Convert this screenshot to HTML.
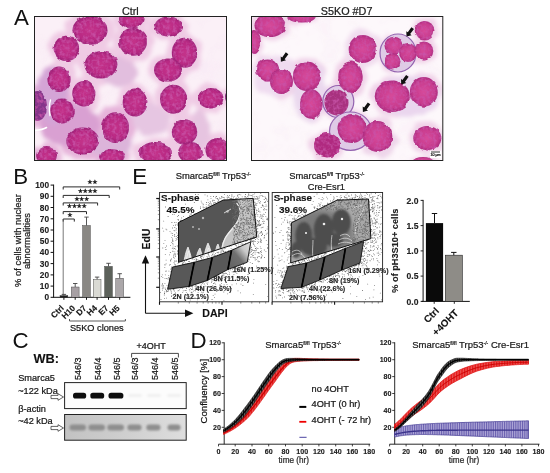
<!DOCTYPE html>
<html><head><meta charset="utf-8"><style>
html,body{margin:0;padding:0;background:#fff;overflow:hidden;}
svg{display:block;font-family:"Liberation Sans", Arial, sans-serif;}
text{stroke:#1a1a1a;stroke-width:0.22px;}
text[font-weight="bold"]{stroke-width:0.12px;}
</style></head><body>
<svg width="550" height="473" viewBox="0 0 550 473">
<defs>
<filter id="blur1" x="-20%" y="-20%" width="140%" height="140%"><feGaussianBlur stdDeviation="0.9"/></filter>
<filter id="blur05" x="-10%" y="-10%" width="120%" height="120%"><feGaussianBlur stdDeviation="0.6"/></filter>
<filter id="blur15" x="-30%" y="-30%" width="160%" height="160%"><feGaussianBlur stdDeviation="2"/></filter>
<linearGradient id="g16" x1="0" y1="1" x2="1" y2="0"><stop offset="0" stop-color="#606060"/><stop offset="0.45" stop-color="#707070"/><stop offset="0.7" stop-color="#c8c8c8"/><stop offset="1" stop-color="#e0e0e0"/></linearGradient>
<filter id="blur3" x="-20%" y="-20%" width="140%" height="140%"><feGaussianBlur stdDeviation="3"/></filter>
<filter id="cytof" x="-10%" y="-10%" width="120%" height="120%">
 <feTurbulence type="fractalNoise" baseFrequency="0.08" numOctaves="2" seed="4" result="n"/>
 <feDisplacementMap in="SourceGraphic" in2="n" scale="9" xChannelSelector="R" yChannelSelector="G" result="d"/>
 <feGaussianBlur in="d" stdDeviation="2.2"/>
</filter>
<filter id="nucf" x="-10%" y="-10%" width="120%" height="120%">
 <feTurbulence type="fractalNoise" baseFrequency="0.14" numOctaves="2" seed="2" result="n"/>
 <feDisplacementMap in="SourceGraphic" in2="n" scale="3.2" xChannelSelector="R" yChannelSelector="G" result="d"/>
 <feGaussianBlur in="d" stdDeviation="0.75" result="b"/>
 <feTurbulence type="fractalNoise" baseFrequency="0.3" numOctaves="2" seed="9" result="n2"/>
 <feColorMatrix in="n2" type="matrix" values="0 0 0 0 0.58  0 0 0 0 0.09  0 0 0 0 0.40  0 0 0 -2.2 1.25" result="sp"/>
 <feGaussianBlur in="sp" stdDeviation="0.7" result="sp2"/>
 <feComposite in="sp2" in2="b" operator="in" result="spi"/>
 <feMerge><feMergeNode in="b"/><feMergeNode in="spi"/></feMerge>
</filter>
<radialGradient id="nucg2" cx="0.5" cy="0.5" r="0.5"><stop offset="0" stop-color="#d64a9a"/><stop offset="0.75" stop-color="#c83c8e"/><stop offset="1" stop-color="#ad2c80"/></radialGradient>
<radialGradient id="nucg" cx="0.5" cy="0.5" r="0.5"><stop offset="0" stop-color="#c4328a"/><stop offset="0.75" stop-color="#b82a83"/><stop offset="1" stop-color="#9c2278"/></radialGradient>
<filter id="bgnoise" x="0" y="0" width="100%" height="100%">
 <feTurbulence type="fractalNoise" baseFrequency="0.05" numOctaves="3" seed="12" result="n"/>
 <feColorMatrix in="n" type="matrix" values="0 0 0 0 0.95  0 0 0 0 0.84  0 0 0 0 0.92  0 0 0 -3 1.6"/>
</filter>
<linearGradient id="sg1" x1="0" y1="0" x2="1" y2="0"><stop offset="0" stop-color="#555"/><stop offset="0.6" stop-color="#5c5c5c"/><stop offset="0.8" stop-color="#999"/><stop offset="1" stop-color="#d0d0d0"/></linearGradient>
<linearGradient id="sg2" x1="0" y1="0" x2="1" y2="0"><stop offset="0" stop-color="#666"/><stop offset="0.7" stop-color="#555"/><stop offset="0.85" stop-color="#888"/><stop offset="1" stop-color="#bbb"/></linearGradient>
<pattern id="hred" width="1.6" height="4" patternUnits="userSpaceOnUse"><rect width="1.6" height="4" fill="#ee7070"/><rect width="1" height="4" fill="#e41414"/></pattern>
<pattern id="hblk" width="1.8" height="4" patternUnits="userSpaceOnUse"><rect width="1.8" height="4" fill="#777"/><rect width="1" height="4" fill="#111"/></pattern>
<pattern id="hblue" width="1.8" height="4" patternUnits="userSpaceOnUse"><rect width="1.8" height="4" fill="#c4bee4"/><rect width="1.1" height="4" fill="#6a60b0"/></pattern>
<linearGradient id="blot2" x1="0" y1="0" x2="1" y2="0"><stop offset="0" stop-color="#c2c2c2"/><stop offset="0.5" stop-color="#cfcfcf"/><stop offset="1" stop-color="#dedede"/></linearGradient>
</defs>
<rect width="550" height="473" fill="#fff"/>
<text x="14.0" y="24.9" font-size="22.3" text-anchor="start" font-weight="normal" fill="#111" style="stroke:none">A</text>
<text x="13.2" y="183.7" font-size="22.3" text-anchor="start" font-weight="normal" fill="#111" style="stroke:none">B</text>
<text x="12.4" y="347.5" font-size="22.3" text-anchor="start" font-weight="normal" fill="#111" style="stroke:none">C</text>
<text x="190.6" y="347.8" font-size="22.3" text-anchor="start" font-weight="normal" fill="#111" style="stroke:none">D</text>
<text x="132.3" y="183.7" font-size="22.3" text-anchor="start" font-weight="normal" fill="#111" style="stroke:none">E</text>
<text x="130.3" y="14.7" font-size="10.8" text-anchor="middle" font-weight="normal" fill="#222" >Ctrl</text>
<text x="346.6" y="14.7" font-size="10.8" text-anchor="middle" font-weight="normal" fill="#222" >S5KO #D7</text>
<clipPath id="clA1"><rect x="34.5" y="16.5" width="192" height="144"/></clipPath>
<g clip-path="url(#clA1)">
<rect x="34.5" y="16.5" width="192" height="144" fill="#fbf0f7"/>
<rect x="34.5" y="16.5" width="192" height="144" fill="#f3d6ea" filter="url(#bgnoise)" opacity="0.9"/>
<g filter="url(#cytof)">
<ellipse cx="90" cy="30.2" rx="24.849999999999998" ry="20.59" fill="#efcae4"/>
<ellipse cx="131.8" cy="19.3" rx="18.034" ry="12.78" fill="#efcae4"/>
<ellipse cx="168.3" cy="26.5" rx="19.453999999999997" ry="14.2" fill="#efcae4"/>
<ellipse cx="66.4" cy="48.4" rx="18.034" ry="18.034" fill="#efcae4"/>
<ellipse cx="133" cy="41.8" rx="19.88" ry="19.88" fill="#efcae4"/>
<ellipse cx="184.5" cy="52.7" rx="18.034" ry="21.299999999999997" fill="#efcae4"/>
<ellipse cx="101" cy="64.7" rx="23.287999999999997" ry="19.596" fill="#efcae4"/>
<ellipse cx="168" cy="70" rx="19.88" ry="16.471999999999998" fill="#efcae4"/>
<ellipse cx="59" cy="79.3" rx="16.471999999999998" ry="18.034" fill="#efcae4"/>
<ellipse cx="83.8" cy="93.8" rx="16.471999999999998" ry="18.034" fill="#efcae4"/>
<ellipse cx="135" cy="102.6" rx="17.466" ry="19.88" fill="#efcae4"/>
<ellipse cx="173.6" cy="99.3" rx="19.169999999999998" ry="20.59" fill="#efcae4"/>
<ellipse cx="210.7" cy="98.2" rx="18.034" ry="14.483999999999998" fill="#efcae4"/>
<ellipse cx="62" cy="111" rx="16.756" ry="17.75" fill="#e6b4da"/>
<ellipse cx="37.5" cy="106" rx="13.489999999999998" ry="21.299999999999997" fill="#e6b4da"/>
<ellipse cx="115.5" cy="127.6" rx="19.169999999999998" ry="21.726" fill="#e6b4da"/>
<ellipse cx="184.5" cy="132" rx="18.034" ry="18.034" fill="#efcae4"/>
<ellipse cx="82.7" cy="141" rx="23.287999999999997" ry="19.169999999999998" fill="#e6b4da"/>
<ellipse cx="155.5" cy="153" rx="23.287999999999997" ry="15.62" fill="#efcae4"/>
<ellipse cx="111.8" cy="156.6" rx="18.034" ry="10.366" fill="#e6b4da"/>
<ellipse cx="190.5" cy="152.5" rx="17.466" ry="14.91" fill="#efcae4"/>
<ellipse cx="217.5" cy="150" rx="17.04" ry="17.04" fill="#efcae4"/>
<ellipse cx="46.5" cy="155.5" rx="14.91" ry="12.07" fill="#e6b4da"/>
<ellipse cx="229" cy="97" rx="5.68" ry="9.23" fill="#efcae4"/>
<ellipse cx="70" cy="125" rx="30" ry="22" fill="#d9a0d2"/>
<ellipse cx="52" cy="95" rx="16" ry="30" fill="#d4a4d6"/>
<ellipse cx="120" cy="72" rx="18" ry="14" fill="#e2bede"/>
<ellipse cx="150" cy="120" rx="18" ry="16" fill="#e6c6e2"/>
<ellipse cx="110" cy="145" rx="22" ry="14" fill="#dcb4da"/>
<ellipse cx="200" cy="130" rx="10" ry="20" fill="#e6c4e0"/>
</g>

<g filter="url(#nucf)">
<ellipse cx="90" cy="30.2" rx="17.5" ry="14.5" fill="url(#nucg)"/>
<ellipse cx="131.8" cy="19.3" rx="12.7" ry="9" fill="url(#nucg)"/>
<ellipse cx="168.3" cy="26.5" rx="13.7" ry="10" fill="url(#nucg)"/>
<ellipse cx="66.4" cy="48.4" rx="12.7" ry="12.7" fill="url(#nucg)"/>
<ellipse cx="133" cy="41.8" rx="14" ry="14" fill="url(#nucg)"/>
<ellipse cx="184.5" cy="52.7" rx="12.7" ry="15" fill="url(#nucg)"/>
<ellipse cx="101" cy="64.7" rx="16.4" ry="13.8" fill="url(#nucg)"/>
<ellipse cx="168" cy="70" rx="14" ry="11.6" fill="url(#nucg)"/>
<ellipse cx="59" cy="79.3" rx="11.6" ry="12.7" fill="url(#nucg)"/>
<ellipse cx="83.8" cy="93.8" rx="11.6" ry="12.7" fill="url(#nucg)"/>
<ellipse cx="135" cy="102.6" rx="12.3" ry="14" fill="url(#nucg)"/>
<ellipse cx="173.6" cy="99.3" rx="13.5" ry="14.5" fill="url(#nucg)"/>
<ellipse cx="210.7" cy="98.2" rx="12.7" ry="10.2" fill="url(#nucg)"/>
<ellipse cx="62" cy="111" rx="11.8" ry="12.5" fill="url(#nucg)"/>
<ellipse cx="37.5" cy="106" rx="9.5" ry="15" fill="#85358a"/>
<ellipse cx="115.5" cy="127.6" rx="13.5" ry="15.3" fill="url(#nucg)"/>
<ellipse cx="184.5" cy="132" rx="12.7" ry="12.7" fill="url(#nucg)"/>
<ellipse cx="82.7" cy="141" rx="16.4" ry="13.5" fill="url(#nucg)"/>
<ellipse cx="155.5" cy="153" rx="16.4" ry="11" fill="url(#nucg)"/>
<ellipse cx="111.8" cy="156.6" rx="12.7" ry="7.3" fill="url(#nucg)"/>
<ellipse cx="190.5" cy="152.5" rx="12.3" ry="10.5" fill="url(#nucg)"/>
<ellipse cx="217.5" cy="150" rx="12" ry="12" fill="url(#nucg)"/>
<ellipse cx="46.5" cy="155.5" rx="10.5" ry="8.5" fill="url(#nucg)"/>
<ellipse cx="229" cy="97" rx="4" ry="6.5" fill="#7a2a7c"/>
</g>
<g fill="none" stroke="#fff" stroke-linecap="round" filter="url(#blur05)"><path d="M35,130.5 C 40,130 44,129 46.5,127.5" stroke-width="1.6"/><path d="M50.5,100 C 49,105 49,110 50,115.5" stroke-width="1.4"/></g>
</g>
<rect x="34.5" y="16.5" width="192" height="144" fill="none" stroke="#222" stroke-width="1"/>
<clipPath id="clA2"><rect x="251.5" y="16.5" width="191.3" height="144"/></clipPath>
<g clip-path="url(#clA2)">
<rect x="251.5" y="16.5" width="191.3" height="144" fill="#fdf8fb"/>
<rect x="251.5" y="16.5" width="191.3" height="144" fill="#f3d6ea" filter="url(#bgnoise)" opacity="0.35"/>
<g filter="url(#cytof)">
<ellipse cx="270" cy="25.5" rx="20.150000000000002" ry="14.950000000000001" fill="#f0d2e8"/>
<ellipse cx="301.5" cy="17" rx="18.2" ry="7.15" fill="#f0d2e8"/>
<ellipse cx="254" cy="42" rx="9.1" ry="15.600000000000001" fill="#f0d2e8"/>
<ellipse cx="362.7" cy="49" rx="18.2" ry="18.2" fill="#f0d2e8"/>
<ellipse cx="424.6" cy="30.8" rx="12.740000000000002" ry="12.740000000000002" fill="#f0d2e8"/>
<ellipse cx="394" cy="45.7" rx="12.35" ry="11.700000000000001" fill="#f0d2e8"/>
<ellipse cx="392.4" cy="61.4" rx="10.4" ry="10.4" fill="#f0d2e8"/>
<ellipse cx="408" cy="52.6" rx="11.700000000000001" ry="12.35" fill="#f0d2e8"/>
<ellipse cx="423.8" cy="50.9" rx="12.35" ry="12.35" fill="#f0d2e8"/>
<ellipse cx="267.6" cy="70" rx="14.950000000000001" ry="14.950000000000001" fill="#f0d2e8"/>
<ellipse cx="281.5" cy="81.5" rx="14.950000000000001" ry="16.25" fill="#f0d2e8"/>
<ellipse cx="306.9" cy="76.2" rx="18.2" ry="19.240000000000002" fill="#f0d2e8"/>
<ellipse cx="350.5" cy="77" rx="15.86" ry="20.150000000000002" fill="#f0d2e8"/>
<ellipse cx="336.5" cy="102.4" rx="15.600000000000001" ry="16.900000000000002" fill="#f0d2e8"/>
<ellipse cx="311.3" cy="104" rx="14.690000000000001" ry="19.240000000000002" fill="#f0d2e8"/>
<ellipse cx="392.3" cy="96.3" rx="22.75" ry="20.41" fill="#f0d2e8"/>
<ellipse cx="423.8" cy="91.9" rx="18.2" ry="19.240000000000002" fill="#f0d2e8"/>
<ellipse cx="352" cy="128.5" rx="18.85" ry="18.85" fill="#f0d2e8"/>
<ellipse cx="377.5" cy="136.4" rx="19.240000000000002" ry="20.150000000000002" fill="#f0d2e8"/>
<ellipse cx="327" cy="145.2" rx="16.900000000000002" ry="15.86" fill="#f0d2e8"/>
<ellipse cx="427.3" cy="138.2" rx="18.2" ry="15.86" fill="#f0d2e8"/>
<ellipse cx="423" cy="161" rx="13.0" ry="5.2" fill="#f0d2e8"/>
<ellipse cx="310" cy="92" rx="17" ry="30" fill="#ead8ee"/>
<ellipse cx="408" cy="96" rx="32" ry="20" fill="#ead6ee"/>
<ellipse cx="274" cy="75" rx="22" ry="20" fill="#efdcf0"/>
<ellipse cx="363" cy="49" rx="19" ry="19" fill="#f0dcee"/>
<ellipse cx="380" cy="140" rx="18" ry="18" fill="#eed6ea"/>
</g>
<g filter="url(#blur05)" fill="#dfcbe6" stroke="#9464b0" stroke-width="1.2">
<ellipse cx="398" cy="53" rx="18" ry="19"/><ellipse cx="338.3" cy="101.5" rx="15.5" ry="16"/><ellipse cx="350.5" cy="131.2" rx="21" ry="19.2"/></g>
<g filter="url(#nucf)">
<ellipse cx="270" cy="25.5" rx="15.5" ry="11.5" fill="url(#nucg2)"/>
<ellipse cx="301.5" cy="17" rx="14" ry="5.5" fill="url(#nucg2)"/>
<ellipse cx="254" cy="42" rx="7" ry="12" fill="url(#nucg2)"/>
<ellipse cx="362.7" cy="49" rx="14" ry="14" fill="url(#nucg2)"/>
<ellipse cx="424.6" cy="30.8" rx="9.8" ry="9.8" fill="url(#nucg2)"/>
<ellipse cx="394" cy="45.7" rx="9.5" ry="9" fill="url(#nucg2)"/>
<ellipse cx="392.4" cy="61.4" rx="8" ry="8" fill="url(#nucg2)"/>
<ellipse cx="408" cy="52.6" rx="9" ry="9.5" fill="url(#nucg2)"/>
<ellipse cx="423.8" cy="50.9" rx="9.5" ry="9.5" fill="url(#nucg2)"/>
<ellipse cx="267.6" cy="70" rx="11.5" ry="11.5" fill="url(#nucg2)"/>
<ellipse cx="281.5" cy="81.5" rx="11.5" ry="12.5" fill="url(#nucg2)"/>
<ellipse cx="306.9" cy="76.2" rx="14" ry="14.8" fill="url(#nucg2)"/>
<ellipse cx="350.5" cy="77" rx="12.2" ry="15.5" fill="url(#nucg2)"/>
<ellipse cx="336.5" cy="102.4" rx="12" ry="13" fill="#a8307f"/>
<ellipse cx="311.3" cy="104" rx="11.3" ry="14.8" fill="url(#nucg2)"/>
<ellipse cx="392.3" cy="96.3" rx="17.5" ry="15.7" fill="url(#nucg2)"/>
<ellipse cx="423.8" cy="91.9" rx="14" ry="14.8" fill="url(#nucg2)"/>
<ellipse cx="352" cy="128.5" rx="14.5" ry="14.5" fill="url(#nucg2)"/>
<ellipse cx="377.5" cy="136.4" rx="14.8" ry="15.5" fill="url(#nucg2)"/>
<ellipse cx="327" cy="145.2" rx="13" ry="12.2" fill="#b02a80"/>
<ellipse cx="427.3" cy="138.2" rx="14" ry="12.2" fill="url(#nucg2)"/>
<ellipse cx="423" cy="161" rx="10" ry="4" fill="url(#nucg2)"/>
</g>
<g transform="translate(280.9,61.8) rotate(-54)"><path d="M0,0 L4.2,-3.3 L4.2,-1.5 L10.5,-1.6 L10.5,1.6 L4.2,1.5 L4.2,3.3 Z" fill="#111"/></g><g transform="translate(406.5,36.6) rotate(-54)"><path d="M0,0 L4.2,-3.3 L4.2,-1.5 L10.5,-1.6 L10.5,1.6 L4.2,1.5 L4.2,3.3 Z" fill="#111"/></g><g transform="translate(401.2,84.4) rotate(-54)"><path d="M0,0 L4.2,-3.3 L4.2,-1.5 L10.5,-1.6 L10.5,1.6 L4.2,1.5 L4.2,3.3 Z" fill="#111"/></g><g transform="translate(362.9,111.9) rotate(-54)"><path d="M0,0 L4.2,-3.3 L4.2,-1.5 L10.5,-1.6 L10.5,1.6 L4.2,1.5 L4.2,3.3 Z" fill="#111"/></g><rect x="430" y="151" width="11" height="7" fill="#fff"/><text x="435.5" y="155.8" font-size="3.6" text-anchor="middle" fill="#000">10 µm</text><line x1="431" y1="152" x2="440" y2="152" stroke="#000" stroke-width="0.8"/>
</g>
<rect x="251.5" y="16.5" width="191.3" height="144" fill="none" stroke="#222" stroke-width="1"/>
<line x1="53.6" y1="184.6" x2="53.6" y2="297.8" stroke="#111" stroke-width="1"/>
<line x1="53.6" y1="297.3" x2="130.4" y2="297.3" stroke="#111" stroke-width="1"/>
<line x1="50.6" y1="297.3" x2="53.6" y2="297.3" stroke="#111" stroke-width="1"/>
<text x="49.1" y="300.3" font-size="8.3" text-anchor="end" font-weight="bold" fill="#222" >0</text>
<line x1="50.6" y1="286.1" x2="53.6" y2="286.1" stroke="#111" stroke-width="1"/>
<text x="49.1" y="289.1" font-size="8.3" text-anchor="end" font-weight="bold" fill="#222" >10</text>
<line x1="50.6" y1="274.9" x2="53.6" y2="274.9" stroke="#111" stroke-width="1"/>
<text x="49.1" y="277.9" font-size="8.3" text-anchor="end" font-weight="bold" fill="#222" >20</text>
<line x1="50.6" y1="263.6" x2="53.6" y2="263.6" stroke="#111" stroke-width="1"/>
<text x="49.1" y="266.6" font-size="8.3" text-anchor="end" font-weight="bold" fill="#222" >30</text>
<line x1="50.6" y1="252.4" x2="53.6" y2="252.4" stroke="#111" stroke-width="1"/>
<text x="49.1" y="255.4" font-size="8.3" text-anchor="end" font-weight="bold" fill="#222" >40</text>
<line x1="50.6" y1="241.2" x2="53.6" y2="241.2" stroke="#111" stroke-width="1"/>
<text x="49.1" y="244.2" font-size="8.3" text-anchor="end" font-weight="bold" fill="#222" >50</text>
<line x1="50.6" y1="230.0" x2="53.6" y2="230.0" stroke="#111" stroke-width="1"/>
<text x="49.1" y="233.0" font-size="8.3" text-anchor="end" font-weight="bold" fill="#222" >60</text>
<line x1="50.6" y1="218.8" x2="53.6" y2="218.8" stroke="#111" stroke-width="1"/>
<text x="49.1" y="221.8" font-size="8.3" text-anchor="end" font-weight="bold" fill="#222" >70</text>
<line x1="50.6" y1="207.5" x2="53.6" y2="207.5" stroke="#111" stroke-width="1"/>
<text x="49.1" y="210.5" font-size="8.3" text-anchor="end" font-weight="bold" fill="#222" >80</text>
<line x1="50.6" y1="196.3" x2="53.6" y2="196.3" stroke="#111" stroke-width="1"/>
<text x="49.1" y="199.3" font-size="8.3" text-anchor="end" font-weight="bold" fill="#222" >90</text>
<line x1="50.6" y1="185.1" x2="53.6" y2="185.1" stroke="#111" stroke-width="1"/>
<text x="49.1" y="188.1" font-size="8.3" text-anchor="end" font-weight="bold" fill="#222" >100</text>
<rect x="60.0" y="295.6" width="7.8" height="1.7" fill="#222" stroke="#333" stroke-width="0.4"/>
<line x1="63.9" y1="295.6" x2="63.9" y2="294.4" stroke="#444" stroke-width="0.9"/>
<line x1="61.7" y1="294.4" x2="66.1" y2="294.4" stroke="#444" stroke-width="0.9"/>
<line x1="63.9" y1="297.3" x2="63.9" y2="299.8" stroke="#111" stroke-width="1"/>
<text transform="translate(64.5,308.6) rotate(-45)" font-size="8.4" font-weight="bold" text-anchor="end" fill="#111">Ctrl</text>
<rect x="71.3" y="287.0" width="7.8" height="10.3" fill="#a7a0a4" stroke="#333" stroke-width="0.4"/>
<line x1="75.2" y1="287.0" x2="75.2" y2="283.5" stroke="#444" stroke-width="0.9"/>
<line x1="73.0" y1="283.5" x2="77.4" y2="283.5" stroke="#444" stroke-width="0.9"/>
<line x1="75.2" y1="297.3" x2="75.2" y2="299.8" stroke="#111" stroke-width="1"/>
<text transform="translate(75.8,308.6) rotate(-45)" font-size="8.4" font-weight="bold" text-anchor="end" fill="#111">H10</text>
<rect x="82.6" y="225.5" width="7.8" height="71.8" fill="#8a8884" stroke="#333" stroke-width="0.4"/>
<line x1="86.5" y1="225.5" x2="86.5" y2="217.1" stroke="#444" stroke-width="0.9"/>
<line x1="84.3" y1="217.1" x2="88.7" y2="217.1" stroke="#444" stroke-width="0.9"/>
<line x1="86.5" y1="297.3" x2="86.5" y2="299.8" stroke="#111" stroke-width="1"/>
<text transform="translate(87.1,308.6) rotate(-45)" font-size="8.4" font-weight="bold" text-anchor="end" fill="#111">D7</text>
<rect x="93.2" y="279.3" width="7.8" height="18.0" fill="#dadad4" stroke="#333" stroke-width="0.4"/>
<line x1="97.1" y1="279.3" x2="97.1" y2="277.1" stroke="#444" stroke-width="0.9"/>
<line x1="94.9" y1="277.1" x2="99.3" y2="277.1" stroke="#444" stroke-width="0.9"/>
<line x1="97.1" y1="297.3" x2="97.1" y2="299.8" stroke="#111" stroke-width="1"/>
<text transform="translate(97.7,308.6) rotate(-45)" font-size="8.4" font-weight="bold" text-anchor="end" fill="#111">H4</text>
<rect x="104.6" y="266.4" width="7.8" height="30.9" fill="#5c615a" stroke="#333" stroke-width="0.4"/>
<line x1="108.5" y1="266.4" x2="108.5" y2="263.3" stroke="#444" stroke-width="0.9"/>
<line x1="106.3" y1="263.3" x2="110.7" y2="263.3" stroke="#444" stroke-width="0.9"/>
<line x1="108.5" y1="297.3" x2="108.5" y2="299.8" stroke="#111" stroke-width="1"/>
<text transform="translate(109.1,308.6) rotate(-45)" font-size="8.4" font-weight="bold" text-anchor="end" fill="#111">E7</text>
<rect x="115.8" y="278.2" width="7.8" height="19.1" fill="#aba7a9" stroke="#333" stroke-width="0.4"/>
<line x1="119.7" y1="278.2" x2="119.7" y2="273.7" stroke="#444" stroke-width="0.9"/>
<line x1="117.5" y1="273.7" x2="121.9" y2="273.7" stroke="#444" stroke-width="0.9"/>
<line x1="119.7" y1="297.3" x2="119.7" y2="299.8" stroke="#111" stroke-width="1"/>
<text transform="translate(120.3,308.6) rotate(-45)" font-size="8.4" font-weight="bold" text-anchor="end" fill="#111">H5</text>
<path d="M63.2,189.5 V186.9 H119.7 V189.5" fill="none" stroke="#2a2a2a" stroke-width="1"/>
<text x="92.2" y="184.3" font-size="6" letter-spacing="-0.5" font-family="DejaVu Sans" text-anchor="middle" fill="#1a1a1a">★★</text>
<path d="M63.2,198.0 V195.4 H109.2 V198.0" fill="none" stroke="#2a2a2a" stroke-width="1"/>
<text x="87.4" y="193.3" font-size="6" letter-spacing="-0.5" font-family="DejaVu Sans" text-anchor="middle" fill="#1a1a1a">★★★★</text>
<path d="M63.2,205.5 V202.9 H97.6 V205.5" fill="none" stroke="#2a2a2a" stroke-width="1"/>
<text x="81.5" y="201.4" font-size="6" letter-spacing="-0.5" font-family="DejaVu Sans" text-anchor="middle" fill="#1a1a1a">★★★</text>
<path d="M63.2,214.2 V211.6 H86.5 V214.2" fill="none" stroke="#2a2a2a" stroke-width="1"/>
<text x="76.6" y="208.4" font-size="6" letter-spacing="-0.5" font-family="DejaVu Sans" text-anchor="middle" fill="#1a1a1a">★★★★</text>
<path d="M63.2,221.6 V219.0 H74.3 V221.6" fill="none" stroke="#2a2a2a" stroke-width="1"/>
<text x="69.6" y="216.9" font-size="6" letter-spacing="-0.5" font-family="DejaVu Sans" text-anchor="middle" fill="#1a1a1a">★</text>
<line x1="63.2" y1="219.0" x2="63.2" y2="296.0" stroke="#555" stroke-width="0.8"/>
<path d="M69.5,319 V321 H125.4 V319" fill="none" stroke="#333" stroke-width="0.8"/>
<text x="96.8" y="331.3" font-size="9.2" text-anchor="middle" font-weight="normal" fill="#111" >S5KO clones</text>
<text transform="translate(20.5,240.5) rotate(-90)" font-size="9.4" text-anchor="middle" fill="#222">% of cells with nuclear</text>
<text transform="translate(30.2,241) rotate(-90)" font-size="9.4" text-anchor="middle" fill="#222">abnormalities</text>
<text x="33.5" y="362.9" font-size="12.8" text-anchor="start" font-weight="bold" fill="#111" >WB:</text>
<rect x="64.6" y="382.6" width="121.6" height="26" fill="#fcfcfc" stroke="#222" stroke-width="1"/>
<rect x="64.6" y="414.5" width="121.6" height="25.7" fill="url(#blot2)" stroke="#222" stroke-width="1"/>
<text transform="translate(81.1,380) rotate(-90)" font-size="9" fill="#111">546/3</text>
<text transform="translate(100.7,380) rotate(-90)" font-size="9" fill="#111">546/4</text>
<text transform="translate(119.6,380) rotate(-90)" font-size="9" fill="#111">546/5</text>
<text transform="translate(138.4,380) rotate(-90)" font-size="9" fill="#111">546/3</text>
<text transform="translate(157.8,380) rotate(-90)" font-size="9" fill="#111">546/4</text>
<text transform="translate(177.7,380) rotate(-90)" font-size="9" fill="#111">546/5</text>
<g filter="url(#blur05)">
<rect x="73" y="392.8" width="13.2" height="5.8" rx="2.6" fill="#0c0c0c"/>
<rect x="90.3" y="392.8" width="13.9" height="5.8" rx="2.6" fill="#0c0c0c"/>
<rect x="108.5" y="392.8" width="14.9" height="5.8" rx="2.6" fill="#0c0c0c"/>
</g><g filter="url(#blur1)">
<rect x="128" y="394" width="14" height="3" rx="1.5" fill="#f0f0f0"/>
<rect x="147" y="394" width="14" height="3" rx="1.5" fill="#f0f0f0"/>
<rect x="167" y="394" width="14" height="3" rx="1.5" fill="#f0f0f0"/>
<rect x="69.5" y="424.5" width="16.5" height="6" rx="3" fill="#8e8e8e"/>
<rect x="88.4" y="424.5" width="16.6" height="6" rx="3" fill="#8e8e8e"/>
<rect x="107.3" y="424.5" width="16.7" height="6" rx="3" fill="#8e8e8e"/>
<rect x="127.4" y="424.5" width="14.2" height="6" rx="3" fill="#8e8e8e"/>
<rect x="146.3" y="424.5" width="14.2" height="6" rx="3" fill="#8e8e8e"/>
<rect x="167.5" y="424.5" width="13.1" height="6" rx="3" fill="#8e8e8e"/>
</g>
<text x="151.2" y="349.2" font-size="9" text-anchor="middle" font-weight="normal" fill="#111" >+4OHT</text>
<path d="M131.6,357.5 V353.4 H178.4 V357.5" fill="none" stroke="#333" stroke-width="0.9"/>
<text x="18.2" y="381.3" font-size="9.2" text-anchor="start" font-weight="normal" fill="#111" >Smarca5</text>
<text x="18.2" y="394.2" font-size="9.2" text-anchor="start" font-weight="normal" fill="#111" >~122 kDa</text>
<text x="18.2" y="412.2" font-size="9.2" text-anchor="start" font-weight="normal" fill="#111" >β-actin</text>
<text x="18.2" y="423.5" font-size="9.2" text-anchor="start" font-weight="normal" fill="#111" >~42 kDa</text>
<path d="M51,395.4 H58 V393.7 L63.5,397 L58,400.3 V398.6 H51 Z" fill="#fff" stroke="#222" stroke-width="0.7"/>
<path d="M51,426.4 H58 V424.7 L63.5,428 L58,431.3 V429.6 H51 Z" fill="#fff" stroke="#222" stroke-width="0.7"/>
<line x1="218.5" y1="444.2" x2="370.2" y2="444.2" stroke="#111" stroke-width="0.9"/>
<line x1="224.2" y1="342.3" x2="224.2" y2="444.2" stroke="#111" stroke-width="0.9"/>
<line x1="221.7" y1="427.3" x2="224.2" y2="427.3" stroke="#111" stroke-width="0.8"/>
<text x="221.0" y="429.8" font-size="7.1" text-anchor="end" font-weight="bold" fill="#222" >20</text>
<line x1="221.7" y1="410.4" x2="224.2" y2="410.4" stroke="#111" stroke-width="0.8"/>
<text x="221.0" y="412.9" font-size="7.1" text-anchor="end" font-weight="bold" fill="#222" >40</text>
<line x1="221.7" y1="393.5" x2="224.2" y2="393.5" stroke="#111" stroke-width="0.8"/>
<text x="221.0" y="396.0" font-size="7.1" text-anchor="end" font-weight="bold" fill="#222" >60</text>
<line x1="221.7" y1="376.6" x2="224.2" y2="376.6" stroke="#111" stroke-width="0.8"/>
<text x="221.0" y="379.1" font-size="7.1" text-anchor="end" font-weight="bold" fill="#222" >80</text>
<line x1="221.7" y1="359.7" x2="224.2" y2="359.7" stroke="#111" stroke-width="0.8"/>
<text x="221.0" y="362.2" font-size="7.1" text-anchor="end" font-weight="bold" fill="#222" >100</text>
<line x1="221.7" y1="342.8" x2="224.2" y2="342.8" stroke="#111" stroke-width="0.8"/>
<text x="221.0" y="345.3" font-size="7.1" text-anchor="end" font-weight="bold" fill="#222" >120</text>
<line x1="218.5" y1="444.2" x2="218.5" y2="446.4" stroke="#111" stroke-width="0.8"/>
<text x="218.5" y="454.4" font-size="7.1" text-anchor="middle" font-weight="bold" fill="#222" >0</text>
<line x1="235.2" y1="444.2" x2="235.2" y2="446.4" stroke="#111" stroke-width="0.8"/>
<text x="235.2" y="454.4" font-size="7.1" text-anchor="middle" font-weight="bold" fill="#222" >20</text>
<line x1="252.0" y1="444.2" x2="252.0" y2="446.4" stroke="#111" stroke-width="0.8"/>
<text x="252.0" y="454.4" font-size="7.1" text-anchor="middle" font-weight="bold" fill="#222" >40</text>
<line x1="268.7" y1="444.2" x2="268.7" y2="446.4" stroke="#111" stroke-width="0.8"/>
<text x="268.7" y="454.4" font-size="7.1" text-anchor="middle" font-weight="bold" fill="#222" >60</text>
<line x1="285.5" y1="444.2" x2="285.5" y2="446.4" stroke="#111" stroke-width="0.8"/>
<text x="285.5" y="454.4" font-size="7.1" text-anchor="middle" font-weight="bold" fill="#222" >80</text>
<line x1="302.2" y1="444.2" x2="302.2" y2="446.4" stroke="#111" stroke-width="0.8"/>
<text x="302.2" y="454.4" font-size="7.1" text-anchor="middle" font-weight="bold" fill="#222" >100</text>
<line x1="318.9" y1="444.2" x2="318.9" y2="446.4" stroke="#111" stroke-width="0.8"/>
<text x="318.9" y="454.4" font-size="7.1" text-anchor="middle" font-weight="bold" fill="#222" >120</text>
<line x1="335.7" y1="444.2" x2="335.7" y2="446.4" stroke="#111" stroke-width="0.8"/>
<text x="335.7" y="454.4" font-size="7.1" text-anchor="middle" font-weight="bold" fill="#222" >140</text>
<line x1="352.4" y1="444.2" x2="352.4" y2="446.4" stroke="#111" stroke-width="0.8"/>
<text x="352.4" y="454.4" font-size="7.1" text-anchor="middle" font-weight="bold" fill="#222" >160</text>
<line x1="369.2" y1="444.2" x2="369.2" y2="446.4" stroke="#111" stroke-width="0.8"/>
<text x="369.2" y="454.4" font-size="7.1" text-anchor="middle" font-weight="bold" fill="#222" >180</text>
<text x="293.8" y="462.8" font-size="8.2" text-anchor="middle" font-weight="normal" fill="#333" >time (hr)</text>
<text x="303.2" y="348.0" font-size="9.5" text-anchor="middle" fill="#222">Smarca5<tspan font-size="5" dy="-3.2">fl/fl</tspan><tspan dy="3.2"> Trp53</tspan><tspan font-size="5" dy="-3.2">-/-</tspan></text>
<polygon points="223.5,431.7 224.5,431.2 225.5,430.6 226.5,430.0 227.5,429.3 228.5,428.7 229.5,428.0 230.6,427.2 231.6,426.5 232.6,425.7 233.6,424.9 234.6,424.0 235.6,423.1 236.6,422.2 237.6,421.3 238.6,420.3 239.6,419.2 240.6,418.2 241.6,417.1 242.6,415.9 243.6,414.8 244.6,413.6 245.6,412.4 246.6,411.1 247.6,409.8 248.6,408.5 249.6,407.2 250.6,406.0 251.6,404.8 252.6,403.5 253.7,402.3 254.7,401.0 255.7,399.6 256.7,398.3 257.7,397.0 258.7,395.6 259.7,394.2 260.7,392.8 261.7,391.4 262.7,390.0 263.7,388.6 264.7,387.2 265.7,385.8 266.7,384.3 267.7,382.9 268.7,381.5 269.7,380.1 270.7,378.7 271.7,377.4 272.7,376.0 273.7,374.6 274.7,373.3 275.8,372.2 276.8,371.0 277.8,369.9 278.8,368.8 279.8,367.7 280.8,366.7 281.8,365.7 282.8,364.7 283.8,363.7 284.8,362.8 285.8,362.0 286.8,361.2 287.8,360.5 288.8,359.8 289.8,359.3 290.8,359.0 291.8,358.7 292.8,358.5 293.8,358.4 294.8,358.3 295.8,358.3 296.8,358.3 297.8,358.3 298.9,358.3 299.9,358.3 300.9,358.4 301.9,358.4 302.9,358.5 303.9,358.5 304.9,358.5 305.9,358.6 306.9,358.6 307.9,358.6 308.9,358.7 309.9,358.7 310.9,358.7 311.9,358.7 312.9,358.8 313.9,358.8 314.9,358.8 315.9,358.8 316.9,358.8 317.9,358.8 318.9,358.9 319.9,358.9 320.9,358.9 322.0,358.9 323.0,358.9 324.0,358.9 325.0,358.9 326.0,358.9 327.0,358.9 328.0,358.9 329.0,359.0 330.0,359.0 331.0,359.0 332.0,359.0 333.0,359.0 334.0,359.0 335.0,359.0 336.0,359.0 337.0,359.0 338.0,359.0 339.0,359.0 340.0,359.0 341.0,359.0 342.0,359.0 343.0,359.0 344.1,359.0 345.1,359.0 346.1,359.0 347.1,359.0 348.1,359.0 349.1,359.0 350.1,359.0 351.1,359.0 352.1,359.0 353.1,359.0 354.1,359.0 355.1,359.0 356.1,359.0 357.1,359.0 358.1,359.0 359.1,359.0 359.1,360.4 358.1,360.4 357.1,360.4 356.1,360.4 355.1,360.4 354.1,360.4 353.1,360.4 352.1,360.4 351.1,360.4 350.1,360.4 349.1,360.4 348.1,360.4 347.1,360.4 346.1,360.4 345.1,360.4 344.1,360.4 343.0,360.4 342.0,360.4 341.0,360.4 340.0,360.4 339.0,360.4 338.0,360.4 337.0,360.4 336.0,360.4 335.0,360.4 334.0,360.4 333.0,360.4 332.0,360.4 331.0,360.4 330.0,360.4 329.0,360.4 328.0,360.5 327.0,360.5 326.0,360.5 325.0,360.5 324.0,360.5 323.0,360.5 322.0,360.5 320.9,360.5 319.9,360.5 318.9,360.5 317.9,360.6 316.9,360.6 315.9,360.6 314.9,360.6 313.9,360.6 312.9,360.6 311.9,360.7 310.9,360.7 309.9,360.7 308.9,360.8 307.9,360.8 306.9,360.8 305.9,360.9 304.9,360.9 303.9,360.9 302.9,361.0 301.9,361.1 300.9,361.1 299.9,361.2 298.9,361.3 297.8,361.4 296.8,361.5 295.8,361.7 294.8,361.8 293.8,362.1 292.8,362.4 291.8,362.7 290.8,363.2 289.8,363.8 288.8,364.6 287.8,365.4 286.8,366.4 285.8,367.4 284.8,368.5 283.8,369.7 282.8,371.0 281.8,372.2 280.8,373.6 279.8,374.9 278.8,376.3 277.8,377.7 276.8,379.1 275.8,380.6 274.7,382.1 273.7,383.4 272.7,384.8 271.7,386.1 270.7,387.5 269.7,388.9 268.7,390.3 267.7,391.7 266.7,393.1 265.7,394.6 264.7,396.0 263.7,397.4 262.7,398.8 261.7,400.2 260.7,401.6 259.7,403.0 258.7,404.4 257.7,405.7 256.7,407.1 255.7,408.4 254.7,409.7 253.7,411.0 252.6,412.3 251.6,413.6 250.6,414.8 249.6,416.0 248.6,417.0 247.6,418.0 246.6,419.0 245.6,420.0 244.6,420.9 243.6,421.8 242.6,422.6 241.6,423.4 240.6,424.3 239.6,425.0 238.6,425.8 237.6,426.5 236.6,427.2 235.6,427.9 234.6,428.6 233.6,429.2 232.6,429.8 231.6,430.4 230.6,431.0 229.5,431.6 228.5,432.1 227.5,432.6 226.5,433.1 225.5,433.6 224.5,434.1 223.5,434.5" fill="url(#hred)" stroke="#e01818" stroke-width="0.7"/>
<polyline points="223.5,433.1 224.4,432.7 225.2,432.3 226.0,431.8 226.9,431.4 227.7,430.9 228.5,430.4 229.4,429.9 230.2,429.4 231.1,428.8 231.9,428.2 232.7,427.7 233.6,427.1 234.4,426.4 235.2,425.8 236.1,425.1 236.9,424.4 237.8,423.7 238.6,423.0 239.4,422.3 240.3,421.5 241.1,420.7 241.9,419.9 242.8,419.1 243.6,418.3 244.4,417.4 245.3,416.5 246.1,415.6 247.0,414.7 247.8,413.7 248.6,412.8 249.5,411.8 250.3,410.8 251.1,409.8 252.0,408.8 252.8,407.7 253.7,406.6 254.5,405.6 255.3,404.5 256.2,403.4 257.0,402.2 257.8,401.1 258.7,400.0 259.5,398.8 260.4,397.7 261.2,396.5 262.0,395.3 262.9,394.2 263.7,393.0 264.5,391.8 265.4,390.6 266.2,389.5 267.0,388.3 267.9,387.1 268.7,385.9 269.6,384.8 270.4,383.6 271.2,382.4 272.1,381.3 272.9,380.2 273.7,379.0 274.6,377.9 275.4,376.8 276.3,375.7 277.1,374.7 277.9,373.6 278.8,372.6 279.6,371.5 280.4,370.5 281.3,369.5 282.1,368.6 282.9,367.6 283.8,366.7 284.6,365.8 285.5,365.0 286.3,364.2 287.1,363.5 288.0,362.8 288.8,362.2 289.6,361.7 290.5,361.2 291.3,360.9 292.2,360.6 293.0,360.4 293.8,360.2 294.7,360.1 295.5,360.0 296.3,359.9 297.2,359.9 298.0,359.8 298.9,359.8 299.7,359.8 300.5,359.8 301.4,359.7 302.2,359.7 303.0,359.7 303.9,359.7 304.7,359.7 305.5,359.7 306.4,359.7 307.2,359.7 308.1,359.7 308.9,359.7 309.7,359.7 310.6,359.7 311.4,359.7 312.2,359.7 313.1,359.7 313.9,359.7 314.8,359.7 315.6,359.7 316.4,359.7 317.3,359.7 318.1,359.7 318.9,359.7 319.8,359.7 320.6,359.7 321.5,359.7 322.3,359.7 323.1,359.7 324.0,359.7 324.8,359.7 325.6,359.7 326.5,359.7 327.3,359.7 328.1,359.7 329.0,359.7 329.8,359.7 330.7,359.7 331.5,359.7 332.3,359.7 333.2,359.7 334.0,359.7 334.8,359.7 335.7,359.7 336.5,359.7 337.4,359.7 338.2,359.7 339.0,359.7 339.9,359.7 340.7,359.7 341.5,359.7 342.4,359.7 343.2,359.7 344.1,359.7 344.9,359.7 345.7,359.7 346.6,359.7 347.4,359.7 348.2,359.7 349.1,359.7 349.9,359.7 350.7,359.7 351.6,359.7 352.4,359.7 353.3,359.7 354.1,359.7 354.9,359.7 355.8,359.7 356.6,359.7 357.4,359.7 358.3,359.7 359.1,359.7" fill="none" stroke="#c00" stroke-width="1.2" />
<polygon points="223.5,429.3 224.5,428.6 225.5,427.9 226.5,427.2 227.5,426.5 228.5,425.7 229.5,424.9 230.6,424.0 231.6,423.1 232.6,422.2 233.6,421.2 234.6,420.2 235.6,419.2 236.6,418.1 237.6,416.9 238.6,415.8 239.6,414.6 240.6,413.3 241.6,412.1 242.6,410.8 243.6,409.4 244.6,408.1 245.6,406.8 246.6,405.5 247.6,404.2 248.6,402.8 249.6,401.5 250.6,400.1 251.6,398.7 252.6,397.2 253.7,395.8 254.7,394.3 255.7,392.8 256.7,391.3 257.7,389.8 258.7,388.3 259.7,386.8 260.7,385.3 261.7,383.8 262.7,382.3 263.7,380.8 264.7,379.4 265.7,377.9 266.7,376.5 267.7,375.1 268.7,373.7 269.7,372.3 270.7,371.1 271.7,369.9 272.7,368.8 273.7,367.7 274.7,366.6 275.8,365.5 276.8,364.5 277.8,363.6 278.8,362.7 279.8,361.8 280.8,361.1 281.8,360.4 282.8,359.8 283.8,359.4 284.8,359.0 285.8,358.8 286.8,358.6 287.8,358.5 288.8,358.4 289.8,358.4 290.8,358.4 291.8,358.4 292.8,358.4 293.8,358.5 294.8,358.5 295.8,358.5 296.8,358.6 297.8,358.6 298.9,358.6 299.9,358.7 300.9,358.7 301.9,358.7 302.9,358.8 303.9,358.8 304.9,358.8 305.9,358.8 306.9,358.9 307.9,358.9 308.9,358.9 309.9,358.9 310.9,358.9 311.9,358.9 312.9,359.0 313.9,359.0 314.9,359.0 315.9,359.0 316.9,359.0 317.9,359.0 318.9,359.0 319.9,359.0 320.9,359.0 322.0,359.0 323.0,359.0 324.0,359.0 325.0,359.1 326.0,359.1 327.0,359.1 328.0,359.1 329.0,359.1 330.0,359.1 331.0,359.1 332.0,359.1 333.0,359.1 334.0,359.1 335.0,359.1 336.0,359.1 337.0,359.1 338.0,359.1 339.0,359.1 340.0,359.1 341.0,359.1 342.0,359.1 343.0,359.1 344.1,359.1 345.1,359.1 346.1,359.1 347.1,359.1 348.1,359.1 349.1,359.1 350.1,359.1 351.1,359.1 352.1,359.1 353.1,359.1 354.1,359.1 355.1,359.1 356.1,359.1 357.1,359.1 358.1,359.1 359.1,359.1 359.1,360.3 358.1,360.3 357.1,360.3 356.1,360.3 355.1,360.3 354.1,360.3 353.1,360.3 352.1,360.3 351.1,360.3 350.1,360.3 349.1,360.3 348.1,360.3 347.1,360.3 346.1,360.3 345.1,360.3 344.1,360.3 343.0,360.3 342.0,360.3 341.0,360.3 340.0,360.3 339.0,360.3 338.0,360.3 337.0,360.3 336.0,360.3 335.0,360.3 334.0,360.3 333.0,360.3 332.0,360.3 331.0,360.3 330.0,360.3 329.0,360.3 328.0,360.3 327.0,360.3 326.0,360.3 325.0,360.4 324.0,360.4 323.0,360.4 322.0,360.4 320.9,360.4 319.9,360.4 318.9,360.4 317.9,360.4 316.9,360.4 315.9,360.4 314.9,360.4 313.9,360.4 312.9,360.5 311.9,360.5 310.9,360.5 309.9,360.5 308.9,360.5 307.9,360.5 306.9,360.6 305.9,360.6 304.9,360.6 303.9,360.6 302.9,360.7 301.9,360.7 300.9,360.7 299.9,360.8 298.9,360.8 297.8,360.8 296.8,360.9 295.8,361.0 294.8,361.0 293.8,361.1 292.8,361.2 291.8,361.3 290.8,361.4 289.8,361.5 288.8,361.7 287.8,361.9 286.8,362.2 285.8,362.5 284.8,363.0 283.8,363.5 282.8,364.2 281.8,365.0 280.8,365.9 279.8,366.9 278.8,368.0 277.8,369.1 276.8,370.3 275.8,371.6 274.7,372.9 273.7,374.3 272.7,375.7 271.7,377.1 270.7,378.6 269.7,380.0 268.7,381.4 267.7,382.8 266.7,384.3 265.7,385.7 264.7,387.1 263.7,388.6 262.7,390.1 261.7,391.6 260.7,393.1 259.7,394.6 258.7,396.1 257.7,397.6 256.7,399.1 255.7,400.6 254.7,402.1 253.7,403.5 252.6,405.0 251.6,406.4 250.6,407.8 249.6,409.2 248.6,410.6 247.6,412.0 246.6,413.3 245.6,414.6 244.6,415.8 243.6,417.0 242.6,418.0 241.6,419.1 240.6,420.1 239.6,421.0 238.6,421.9 237.6,422.8 236.6,423.7 235.6,424.5 234.6,425.3 233.6,426.1 232.6,426.8 231.6,427.6 230.6,428.2 229.5,428.9 228.5,429.5 227.5,430.1 226.5,430.7 225.5,431.3 224.5,431.8 223.5,432.3" fill="url(#hblk)" stroke="#111" stroke-width="0.6"/>
<polyline points="223.5,430.8 224.4,430.3 225.2,429.8 226.0,429.3 226.9,428.7 227.7,428.2 228.5,427.6 229.4,427.0 230.2,426.4 231.1,425.7 231.9,425.1 232.7,424.4 233.6,423.7 234.4,422.9 235.2,422.2 236.1,421.4 236.9,420.6 237.8,419.7 238.6,418.9 239.4,418.0 240.3,417.1 241.1,416.1 241.9,415.2 242.8,414.2 243.6,413.2 244.4,412.2 245.3,411.1 246.1,410.1 247.0,409.0 247.8,407.9 248.6,406.7 249.5,405.6 250.3,404.4 251.1,403.2 252.0,402.1 252.8,400.9 253.7,399.6 254.5,398.4 255.3,397.2 256.2,395.9 257.0,394.7 257.8,393.4 258.7,392.2 259.5,390.9 260.4,389.7 261.2,388.4 262.0,387.2 262.9,386.0 263.7,384.7 264.5,383.5 265.4,382.3 266.2,381.1 267.0,379.9 267.9,378.7 268.7,377.6 269.6,376.4 270.4,375.3 271.2,374.2 272.1,373.1 272.9,372.0 273.7,371.0 274.6,370.0 275.4,369.0 276.3,368.0 277.1,367.1 277.9,366.2 278.8,365.3 279.6,364.5 280.4,363.8 281.3,363.1 282.1,362.4 282.9,361.9 283.8,361.4 284.6,361.1 285.5,360.7 286.3,360.5 287.1,360.3 288.0,360.2 288.8,360.1 289.6,360.0 290.5,359.9 291.3,359.9 292.2,359.8 293.0,359.8 293.8,359.8 294.7,359.8 295.5,359.8 296.3,359.7 297.2,359.7 298.0,359.7 298.9,359.7 299.7,359.7 300.5,359.7 301.4,359.7 302.2,359.7 303.0,359.7 303.9,359.7 304.7,359.7 305.5,359.7 306.4,359.7 307.2,359.7 308.1,359.7 308.9,359.7 309.7,359.7 310.6,359.7 311.4,359.7 312.2,359.7 313.1,359.7 313.9,359.7 314.8,359.7 315.6,359.7 316.4,359.7 317.3,359.7 318.1,359.7 318.9,359.7 319.8,359.7 320.6,359.7 321.5,359.7 322.3,359.7 323.1,359.7 324.0,359.7 324.8,359.7 325.6,359.7 326.5,359.7 327.3,359.7 328.1,359.7 329.0,359.7 329.8,359.7 330.7,359.7 331.5,359.7 332.3,359.7 333.2,359.7 334.0,359.7 334.8,359.7 335.7,359.7 336.5,359.7 337.4,359.7 338.2,359.7 339.0,359.7 339.9,359.7 340.7,359.7 341.5,359.7 342.4,359.7 343.2,359.7 344.1,359.7 344.9,359.7 345.7,359.7 346.6,359.7 347.4,359.7 348.2,359.7 349.1,359.7 349.9,359.7 350.7,359.7 351.6,359.7 352.4,359.7 353.3,359.7 354.1,359.7 354.9,359.7 355.8,359.7 356.6,359.7 357.4,359.7 358.3,359.7 359.1,359.7" fill="none" stroke="#000" stroke-width="1.3" />
<text x="311.6" y="392.1" font-size="9.2" text-anchor="start" font-weight="normal" fill="#111" >no 4OHT</text>
<text x="311.6" y="407.4" font-size="9.2" text-anchor="start" font-weight="normal" fill="#111" >4OHT (0 hr)</text>
<text x="311.6" y="422.8" font-size="9.2" text-anchor="start" font-weight="normal" fill="#111" >4OHT (- 72 hr)</text>
<line x1="299.3" y1="406.9" x2="306.3" y2="406.9" stroke="#000" stroke-width="2"/>
<line x1="299.3" y1="421.8" x2="306.3" y2="421.8" stroke="#e00" stroke-width="1.8"/>
<line x1="299.4" y1="437.3" x2="306.6" y2="437.3" stroke="#4a44a0" stroke-width="1.0"/>
<text transform="translate(207.4,391.2) rotate(-90)" font-size="9.6" text-anchor="middle" fill="#111">Confluency [%]</text>
<line x1="389.6" y1="444.2" x2="539.5" y2="444.2" stroke="#111" stroke-width="0.9"/>
<line x1="394.7" y1="342.3" x2="394.7" y2="444.2" stroke="#111" stroke-width="0.9"/>
<line x1="392.2" y1="427.3" x2="394.7" y2="427.3" stroke="#111" stroke-width="0.8"/>
<text x="391.5" y="429.8" font-size="7.1" text-anchor="end" font-weight="bold" fill="#222" >20</text>
<line x1="392.2" y1="410.4" x2="394.7" y2="410.4" stroke="#111" stroke-width="0.8"/>
<text x="391.5" y="412.9" font-size="7.1" text-anchor="end" font-weight="bold" fill="#222" >40</text>
<line x1="392.2" y1="393.5" x2="394.7" y2="393.5" stroke="#111" stroke-width="0.8"/>
<text x="391.5" y="396.0" font-size="7.1" text-anchor="end" font-weight="bold" fill="#222" >60</text>
<line x1="392.2" y1="376.6" x2="394.7" y2="376.6" stroke="#111" stroke-width="0.8"/>
<text x="391.5" y="379.1" font-size="7.1" text-anchor="end" font-weight="bold" fill="#222" >80</text>
<line x1="392.2" y1="359.7" x2="394.7" y2="359.7" stroke="#111" stroke-width="0.8"/>
<text x="391.5" y="362.2" font-size="7.1" text-anchor="end" font-weight="bold" fill="#222" >100</text>
<line x1="392.2" y1="342.8" x2="394.7" y2="342.8" stroke="#111" stroke-width="0.8"/>
<text x="391.5" y="345.3" font-size="7.1" text-anchor="end" font-weight="bold" fill="#222" >120</text>
<line x1="389.6" y1="444.2" x2="389.6" y2="446.4" stroke="#111" stroke-width="0.8"/>
<text x="389.6" y="454.4" font-size="7.1" text-anchor="middle" font-weight="bold" fill="#222" >0</text>
<line x1="406.1" y1="444.2" x2="406.1" y2="446.4" stroke="#111" stroke-width="0.8"/>
<text x="406.1" y="454.4" font-size="7.1" text-anchor="middle" font-weight="bold" fill="#222" >20</text>
<line x1="422.7" y1="444.2" x2="422.7" y2="446.4" stroke="#111" stroke-width="0.8"/>
<text x="422.7" y="454.4" font-size="7.1" text-anchor="middle" font-weight="bold" fill="#222" >40</text>
<line x1="439.2" y1="444.2" x2="439.2" y2="446.4" stroke="#111" stroke-width="0.8"/>
<text x="439.2" y="454.4" font-size="7.1" text-anchor="middle" font-weight="bold" fill="#222" >60</text>
<line x1="455.8" y1="444.2" x2="455.8" y2="446.4" stroke="#111" stroke-width="0.8"/>
<text x="455.8" y="454.4" font-size="7.1" text-anchor="middle" font-weight="bold" fill="#222" >80</text>
<line x1="472.3" y1="444.2" x2="472.3" y2="446.4" stroke="#111" stroke-width="0.8"/>
<text x="472.3" y="454.4" font-size="7.1" text-anchor="middle" font-weight="bold" fill="#222" >100</text>
<line x1="488.8" y1="444.2" x2="488.8" y2="446.4" stroke="#111" stroke-width="0.8"/>
<text x="488.8" y="454.4" font-size="7.1" text-anchor="middle" font-weight="bold" fill="#222" >120</text>
<line x1="505.4" y1="444.2" x2="505.4" y2="446.4" stroke="#111" stroke-width="0.8"/>
<text x="505.4" y="454.4" font-size="7.1" text-anchor="middle" font-weight="bold" fill="#222" >140</text>
<line x1="521.9" y1="444.2" x2="521.9" y2="446.4" stroke="#111" stroke-width="0.8"/>
<text x="521.9" y="454.4" font-size="7.1" text-anchor="middle" font-weight="bold" fill="#222" >160</text>
<line x1="538.5" y1="444.2" x2="538.5" y2="446.4" stroke="#111" stroke-width="0.8"/>
<text x="538.5" y="454.4" font-size="7.1" text-anchor="middle" font-weight="bold" fill="#222" >180</text>
<text x="464.0" y="462.8" font-size="8.2" text-anchor="middle" font-weight="normal" fill="#333" >time (hr)</text>
<text x="470.6" y="348.0" font-size="9.5" text-anchor="middle" fill="#222">Smarca5<tspan font-size="5" dy="-3.2">fl/fl</tspan><tspan dy="3.2"> Trp53</tspan><tspan font-size="5" dy="-3.2">-/-</tspan><tspan dy="3.2"> Cre-Esr1</tspan></text>
<polygon points="394.6,428.6 395.6,428.3 396.5,428.0 397.5,427.7 398.5,427.4 399.5,427.2 400.5,427.0 401.5,426.8 402.5,426.6 403.5,426.4 404.5,426.2 405.5,426.0 406.5,425.8 407.5,425.7 408.5,425.6 409.4,425.4 410.4,425.3 411.4,425.2 412.4,425.0 413.4,424.9 414.4,424.8 415.4,424.7 416.4,424.6 417.4,424.5 418.4,424.5 419.4,424.4 420.4,424.3 421.4,424.2 422.3,424.2 423.3,424.1 424.3,424.0 425.3,424.0 426.3,423.9 427.3,423.8 428.3,423.8 429.3,423.7 430.3,423.7 431.3,423.6 432.3,423.6 433.3,423.5 434.3,423.5 435.3,423.4 436.2,423.4 437.2,423.3 438.2,423.3 439.2,423.3 440.2,423.2 441.2,423.2 442.2,423.2 443.2,423.1 444.2,423.1 445.2,423.0 446.2,423.0 447.2,423.0 448.2,422.9 449.1,422.9 450.1,422.9 451.1,422.8 452.1,422.8 453.1,422.8 454.1,422.8 455.1,422.7 456.1,422.7 457.1,422.7 458.1,422.6 459.1,422.6 460.1,422.6 461.1,422.5 462.0,422.5 463.0,422.5 464.0,422.5 465.0,422.4 466.0,422.4 467.0,422.4 468.0,422.4 469.0,422.3 470.0,422.3 471.0,422.3 472.0,422.2 473.0,422.2 474.0,422.2 474.9,422.2 475.9,422.1 476.9,422.1 477.9,422.1 478.9,422.1 479.9,422.0 480.9,422.0 481.9,422.0 482.9,422.0 483.9,421.9 484.9,421.9 485.9,421.9 486.9,421.9 487.8,421.8 488.8,421.8 489.8,421.8 490.8,421.8 491.8,421.7 492.8,421.7 493.8,421.7 494.8,421.6 495.8,421.6 496.8,421.6 497.8,421.6 498.8,421.5 499.8,421.5 500.7,421.5 501.7,421.5 502.7,421.4 503.7,421.4 504.7,421.4 505.7,421.4 506.7,421.3 507.7,421.3 508.7,421.3 509.7,421.3 510.7,421.2 511.7,421.2 512.7,421.2 513.6,421.2 514.6,421.1 515.6,421.1 516.6,421.1 517.6,421.1 518.6,421.0 519.6,421.0 520.6,421.0 521.6,421.0 522.6,420.9 523.6,420.9 524.6,420.9 525.6,420.9 526.6,420.8 527.5,420.8 528.5,420.8 528.5,438.5 527.5,438.5 526.6,438.5 525.6,438.4 524.6,438.4 523.6,438.3 522.6,438.3 521.6,438.2 520.6,438.2 519.6,438.1 518.6,438.1 517.6,438.1 516.6,438.0 515.6,438.0 514.6,437.9 513.6,437.9 512.7,437.8 511.7,437.8 510.7,437.8 509.7,437.7 508.7,437.7 507.7,437.6 506.7,437.6 505.7,437.5 504.7,437.5 503.7,437.4 502.7,437.4 501.7,437.4 500.7,437.3 499.8,437.3 498.8,437.2 497.8,437.2 496.8,437.1 495.8,437.1 494.8,437.1 493.8,437.0 492.8,437.0 491.8,436.9 490.8,436.9 489.8,436.8 488.8,436.8 487.8,436.8 486.9,436.7 485.9,436.7 484.9,436.6 483.9,436.6 482.9,436.5 481.9,436.5 480.9,436.4 479.9,436.4 478.9,436.4 477.9,436.3 476.9,436.3 475.9,436.2 474.9,436.2 474.0,436.1 473.0,436.1 472.0,436.1 471.0,436.0 470.0,436.0 469.0,435.9 468.0,435.9 467.0,435.9 466.0,435.8 465.0,435.8 464.0,435.7 463.0,435.7 462.0,435.7 461.1,435.6 460.1,435.6 459.1,435.5 458.1,435.5 457.1,435.4 456.1,435.4 455.1,435.4 454.1,435.3 453.1,435.3 452.1,435.3 451.1,435.2 450.1,435.2 449.1,435.1 448.2,435.1 447.2,435.1 446.2,435.0 445.2,435.0 444.2,435.0 443.2,434.9 442.2,434.9 441.2,434.9 440.2,434.8 439.2,434.8 438.2,434.8 437.2,434.8 436.2,434.7 435.3,434.7 434.3,434.7 433.3,434.7 432.3,434.6 431.3,434.6 430.3,434.6 429.3,434.6 428.3,434.6 427.3,434.6 426.3,434.5 425.3,434.5 424.3,434.5 423.3,434.5 422.3,434.5 421.4,434.5 420.4,434.5 419.4,434.5 418.4,434.6 417.4,434.6 416.4,434.6 415.4,434.6 414.4,434.7 413.4,434.7 412.4,434.7 411.4,434.8 410.4,434.8 409.4,434.9 408.5,435.0 407.5,435.0 406.5,435.1 405.5,435.2 404.5,435.3 403.5,435.4 402.5,435.6 401.5,435.7 400.5,435.8 399.5,436.0 398.5,436.2 397.5,436.4 396.5,436.6 395.6,436.8 394.6,437.0" fill="url(#hblue)" stroke="#4c4499" stroke-width="0.8"/>
<polyline points="394.6,434.5 395.4,434.2 396.2,434.0 397.0,433.8 397.9,433.6 398.7,433.4 399.5,433.2 400.4,433.1 401.2,432.9 402.0,432.8 402.8,432.6 403.7,432.5 404.5,432.3 405.3,432.2 406.1,432.1 407.0,432.0 407.8,431.9 408.6,431.8 409.4,431.7 410.3,431.6 411.1,431.5 411.9,431.5 412.8,431.4 413.6,431.3 414.4,431.2 415.2,431.2 416.1,431.1 416.9,431.1 417.7,431.0 418.5,431.0 419.4,430.9 420.2,430.9 421.0,430.8 421.9,430.8 422.7,430.8 423.5,430.7 424.3,430.7 425.2,430.7 426.0,430.6 426.8,430.6 427.6,430.6 428.5,430.5 429.3,430.5 430.1,430.5 431.0,430.5 431.8,430.4 432.6,430.4 433.4,430.4 434.3,430.4 435.1,430.4 435.9,430.4 436.7,430.3 437.6,430.3 438.4,430.3 439.2,430.3 440.0,430.3 440.9,430.3 441.7,430.3 442.5,430.3 443.4,430.3 444.2,430.2 445.0,430.2 445.8,430.2 446.7,430.2 447.5,430.2 448.3,430.2 449.1,430.2 450.0,430.2 450.8,430.2 451.6,430.2 452.5,430.2 453.3,430.2 454.1,430.2 454.9,430.2 455.8,430.2 456.6,430.2 457.4,430.2 458.2,430.1 459.1,430.1 459.9,430.1 460.7,430.1 461.5,430.1 462.4,430.1 463.2,430.1 464.0,430.1 464.9,430.1 465.7,430.1 466.5,430.1 467.3,430.1 468.2,430.1 469.0,430.1 469.8,430.1 470.6,430.1 471.5,430.1 472.3,430.1 473.1,430.1 474.0,430.1 474.8,430.1 475.6,430.1 476.4,430.1 477.3,430.1 478.1,430.1 478.9,430.1 479.7,430.1 480.6,430.1 481.4,430.1 482.2,430.1 483.1,430.1 483.9,430.1 484.7,430.1 485.5,430.1 486.4,430.1 487.2,430.1 488.0,430.1 488.8,430.1 489.7,430.1 490.5,430.1 491.3,430.1 492.1,430.1 493.0,430.1 493.8,430.1 494.6,430.1 495.5,430.1 496.3,430.1 497.1,430.1 497.9,430.1 498.8,430.1 499.6,430.1 500.4,430.1 501.2,430.1 502.1,430.1 502.9,430.1 503.7,430.1 504.6,430.1 505.4,430.1 506.2,430.1 507.0,430.1 507.9,430.1 508.7,430.1 509.5,430.1 510.3,430.1 511.2,430.1 512.0,430.1 512.8,430.1 513.6,430.1 514.5,430.1 515.3,430.1 516.1,430.1 517.0,430.1 517.8,430.1 518.6,430.1 519.4,430.1 520.3,430.1 521.1,430.1 521.9,430.1 522.7,430.1 523.6,430.1 524.4,430.1 525.2,430.1 526.1,430.1 526.9,430.1 527.7,430.1 528.5,430.1" fill="none" stroke="#3c348c" stroke-width="1.4" />
<polygon points="394.6,424.2 395.6,423.5 396.5,422.8 397.5,421.9 398.5,421.1 399.5,420.1 400.5,419.2 401.5,418.2 402.5,417.2 403.5,416.1 404.5,415.1 405.5,414.0 406.5,413.0 407.5,412.0 408.5,411.0 409.4,410.0 410.4,409.1 411.4,408.2 412.4,407.3 413.4,406.5 414.4,405.7 415.4,404.9 416.4,404.1 417.4,403.3 418.4,402.5 419.4,401.8 420.4,401.1 421.4,400.4 422.3,399.7 423.3,399.0 424.3,398.2 425.3,397.4 426.3,396.7 427.3,395.8 428.3,395.0 429.3,394.1 430.3,393.1 431.3,392.1 432.3,391.1 433.3,390.0 434.3,388.9 435.3,387.8 436.2,386.7 437.2,385.6 438.2,384.6 439.2,383.6 440.2,382.6 441.2,381.7 442.2,380.9 443.2,380.1 444.2,379.3 445.2,378.6 446.2,377.9 447.2,377.2 448.2,376.5 449.1,375.9 450.1,375.2 451.1,374.6 452.1,374.0 453.1,373.4 454.1,372.9 455.1,372.3 456.1,371.8 457.1,371.2 458.1,370.7 459.1,370.2 460.1,369.8 461.1,369.4 462.0,369.0 463.0,368.6 464.0,368.2 465.0,367.8 466.0,367.5 467.0,367.1 468.0,366.8 469.0,366.4 470.0,366.1 471.0,365.8 472.0,365.5 473.0,365.2 474.0,364.9 474.9,364.7 475.9,364.4 476.9,364.2 477.9,364.0 478.9,363.8 479.9,363.6 480.9,363.5 481.9,363.3 482.9,363.1 483.9,362.9 484.9,362.8 485.9,362.6 486.9,362.5 487.8,362.3 488.8,362.2 489.8,362.1 490.8,361.9 491.8,361.8 492.8,361.7 493.8,361.6 494.8,361.5 495.8,361.5 496.8,361.4 497.8,361.3 498.8,361.3 499.8,361.2 500.7,361.2 501.7,361.1 502.7,361.1 503.7,361.0 504.7,361.0 505.7,360.9 506.7,360.9 507.7,360.8 508.7,360.7 509.7,360.7 510.7,360.7 511.7,360.6 512.7,360.6 513.6,360.5 514.6,360.5 515.6,360.4 516.6,360.4 517.6,360.4 518.6,360.3 519.6,360.3 520.6,360.3 521.6,360.3 522.6,360.3 523.6,360.2 524.6,360.2 525.6,360.2 526.6,360.2 527.5,360.2 528.5,360.2 528.5,364.2 527.5,364.3 526.6,364.3 525.6,364.3 524.6,364.3 523.6,364.3 522.6,364.4 521.6,364.4 520.6,364.5 519.6,364.5 518.6,364.6 517.6,364.6 516.6,364.7 515.6,364.7 514.6,364.8 513.6,364.9 512.7,364.9 511.7,365.0 510.7,365.1 509.7,365.2 508.7,365.3 507.7,365.4 506.7,365.4 505.7,365.5 504.7,365.6 503.7,365.7 502.7,365.8 501.7,365.9 500.7,366.1 499.8,366.2 498.8,366.3 497.8,366.4 496.8,366.5 495.8,366.6 494.8,366.8 493.8,366.9 492.8,367.1 491.8,367.3 490.8,367.5 489.8,367.7 488.8,367.9 487.8,368.1 486.9,368.3 485.9,368.6 484.9,368.8 483.9,369.1 482.9,369.4 481.9,369.6 480.9,369.9 479.9,370.2 478.9,370.5 477.9,370.8 476.9,371.1 475.9,371.5 474.9,371.9 474.0,372.2 473.0,372.6 472.0,373.1 471.0,373.5 470.0,373.9 469.0,374.4 468.0,374.9 467.0,375.4 466.0,375.9 465.0,376.4 464.0,376.9 463.0,377.4 462.0,378.0 461.1,378.5 460.1,379.0 459.1,379.5 458.1,380.0 457.1,380.5 456.1,381.1 455.1,381.6 454.1,382.2 453.1,382.7 452.1,383.3 451.1,383.9 450.1,384.5 449.1,385.2 448.2,385.8 447.2,386.5 446.2,387.2 445.2,387.9 444.2,388.6 443.2,389.4 442.2,390.2 441.2,391.0 440.2,391.9 439.2,392.9 438.2,393.9 437.2,394.9 436.2,396.0 435.3,397.1 434.3,398.2 433.3,399.3 432.3,400.3 431.3,401.4 430.3,402.4 429.3,403.4 428.3,404.3 427.3,405.1 426.3,406.0 425.3,406.7 424.3,407.5 423.3,408.3 422.3,409.0 421.4,409.7 420.4,410.4 419.4,411.1 418.4,411.8 417.4,412.5 416.4,413.1 415.4,413.7 414.4,414.4 413.4,415.1 412.4,415.8 411.4,416.5 410.4,417.2 409.4,418.0 408.5,418.9 407.5,419.7 406.5,420.6 405.5,421.5 404.5,422.4 403.5,423.4 402.5,424.3 401.5,425.2 400.5,426.0 399.5,426.9 398.5,427.7 397.5,428.5 396.5,429.2 395.6,429.8 394.6,430.4" fill="url(#hred)" stroke="#e01010" stroke-width="0.8"/>
<polyline points="394.6,427.3 395.4,426.8 396.2,426.2 397.0,425.6 397.9,424.9 398.7,424.2 399.5,423.5 400.4,422.8 401.2,422.0 402.0,421.2 402.8,420.4 403.7,419.6 404.5,418.8 405.3,417.9 406.1,417.1 407.0,416.3 407.8,415.5 408.6,414.8 409.4,414.0 410.3,413.3 411.1,412.6 411.9,411.9 412.8,411.3 413.6,410.7 414.4,410.0 415.2,409.4 416.1,408.8 416.9,408.2 417.7,407.6 418.5,407.1 419.4,406.5 420.2,405.9 421.0,405.3 421.9,404.7 422.7,404.1 423.5,403.5 424.3,402.9 425.2,402.2 426.0,401.6 426.8,400.9 427.6,400.2 428.5,399.5 429.3,398.7 430.1,397.9 431.0,397.1 431.8,396.2 432.6,395.3 433.4,394.4 434.3,393.5 435.1,392.6 435.9,391.7 436.7,390.8 437.6,389.9 438.4,389.1 439.2,388.2 440.0,387.4 440.9,386.7 441.7,385.9 442.5,385.2 443.4,384.6 444.2,384.0 445.0,383.4 445.8,382.8 446.7,382.2 447.5,381.6 448.3,381.1 449.1,380.5 450.0,380.0 450.8,379.5 451.6,379.0 452.5,378.5 453.3,378.0 454.1,377.5 454.9,377.0 455.8,376.6 456.6,376.2 457.4,375.7 458.2,375.3 459.1,374.9 459.9,374.5 460.7,374.1 461.5,373.7 462.4,373.3 463.2,372.9 464.0,372.6 464.9,372.2 465.7,371.8 466.5,371.5 467.3,371.1 468.2,370.8 469.0,370.4 469.8,370.1 470.6,369.8 471.5,369.5 472.3,369.2 473.1,368.9 474.0,368.6 474.8,368.3 475.6,368.1 476.4,367.8 477.3,367.6 478.1,367.4 478.9,367.2 479.7,367.0 480.6,366.8 481.4,366.6 482.2,366.4 483.1,366.2 483.9,366.0 484.7,365.8 485.5,365.7 486.4,365.5 487.2,365.3 488.0,365.2 488.8,365.0 489.7,364.9 490.5,364.8 491.3,364.6 492.1,364.5 493.0,364.4 493.8,364.3 494.6,364.2 495.5,364.1 496.3,364.0 497.1,363.9 497.9,363.9 498.8,363.8 499.6,363.7 500.4,363.6 501.2,363.6 502.1,363.5 502.9,363.4 503.7,363.4 504.6,363.3 505.4,363.2 506.2,363.2 507.0,363.1 507.9,363.1 508.7,363.0 509.5,362.9 510.3,362.9 511.2,362.8 512.0,362.8 512.8,362.7 513.6,362.7 514.5,362.6 515.3,362.6 516.1,362.6 517.0,362.5 517.8,362.5 518.6,362.4 519.4,362.4 520.3,362.4 521.1,362.4 521.9,362.3 522.7,362.3 523.6,362.3 524.4,362.3 525.2,362.3 526.1,362.2 526.9,362.2 527.7,362.2 528.5,362.2" fill="none" stroke="#c00" stroke-width="1.0" />
<polygon points="394.6,429.0 395.6,428.3 396.5,427.6 397.5,426.8 398.5,425.9 399.5,424.9 400.5,424.0 401.5,422.9 402.5,421.9 403.5,420.8 404.5,419.7 405.5,418.5 406.5,417.4 407.5,416.2 408.5,415.1 409.4,413.9 410.4,412.8 411.4,411.6 412.4,410.5 413.4,409.4 414.4,408.2 415.4,407.1 416.4,406.0 417.4,404.8 418.4,403.7 419.4,402.6 420.4,401.5 421.4,400.4 422.3,399.3 423.3,398.1 424.3,396.9 425.3,395.7 426.3,394.4 427.3,393.1 428.3,391.7 429.3,390.1 430.3,388.4 431.3,386.6 432.3,384.7 433.3,382.8 434.3,380.8 435.3,378.9 436.2,377.1 437.2,375.3 438.2,373.7 439.2,372.3 440.2,370.9 441.2,369.4 442.2,368.1 443.2,366.7 444.2,365.5 445.2,364.4 446.2,363.4 447.2,362.6 448.2,361.8 449.1,361.2 450.1,360.6 451.1,360.1 452.1,359.7 453.1,359.2 454.1,358.8 455.1,358.5 456.1,358.3 457.1,358.2 458.1,358.2 459.1,358.2 460.1,358.2 461.1,358.2 462.0,358.2 463.0,358.2 464.0,358.3 465.0,358.3 466.0,358.4 467.0,358.4 468.0,358.5 469.0,358.5 470.0,358.6 471.0,358.6 472.0,358.7 473.0,358.7 474.0,358.7 474.9,358.8 475.9,358.8 476.9,358.8 477.9,358.8 478.9,358.9 479.9,358.9 480.9,358.9 481.9,358.9 482.9,358.9 483.9,358.9 484.9,359.0 485.9,359.0 486.9,359.0 487.8,359.0 488.8,359.0 489.8,359.0 490.8,359.0 491.8,359.0 492.8,359.0 493.8,359.0 494.8,359.0 495.8,359.0 496.8,359.1 497.8,359.1 498.8,359.1 499.8,359.1 500.7,359.1 501.7,359.1 502.7,359.1 503.7,359.1 504.7,359.1 505.7,359.1 506.7,359.1 507.7,359.1 508.7,359.1 509.7,359.1 510.7,359.1 511.7,359.1 512.7,359.1 513.6,359.1 514.6,359.1 515.6,359.1 516.6,359.1 517.6,359.1 518.6,359.1 519.6,359.1 520.6,359.1 521.6,359.1 522.6,359.1 523.6,359.1 524.6,359.1 525.6,359.1 526.6,359.1 527.5,359.1 528.5,359.1 528.5,360.3 527.5,360.3 526.6,360.3 525.6,360.3 524.6,360.3 523.6,360.3 522.6,360.3 521.6,360.3 520.6,360.3 519.6,360.3 518.6,360.3 517.6,360.3 516.6,360.3 515.6,360.3 514.6,360.3 513.6,360.3 512.7,360.3 511.7,360.3 510.7,360.3 509.7,360.3 508.7,360.3 507.7,360.3 506.7,360.3 505.7,360.3 504.7,360.3 503.7,360.3 502.7,360.3 501.7,360.3 500.7,360.3 499.8,360.3 498.8,360.3 497.8,360.3 496.8,360.3 495.8,360.4 494.8,360.4 493.8,360.4 492.8,360.4 491.8,360.4 490.8,360.4 489.8,360.4 488.8,360.4 487.8,360.4 486.9,360.4 485.9,360.4 484.9,360.4 483.9,360.5 482.9,360.5 481.9,360.5 480.9,360.5 479.9,360.5 478.9,360.5 477.9,360.6 476.9,360.6 475.9,360.6 474.9,360.6 474.0,360.7 473.0,360.7 472.0,360.7 471.0,360.8 470.0,360.8 469.0,360.9 468.0,360.9 467.0,361.0 466.0,361.0 465.0,361.1 464.0,361.1 463.0,361.2 462.0,361.3 461.1,361.4 460.1,361.6 459.1,361.7 458.1,361.9 457.1,362.1 456.1,362.4 455.1,362.8 454.1,363.3 453.1,363.9 452.1,364.6 451.1,365.3 450.1,366.1 449.1,366.8 448.2,367.7 447.2,368.7 446.2,369.8 445.2,371.1 444.2,372.4 443.2,373.8 442.2,375.2 441.2,376.5 440.2,378.0 439.2,379.4 438.2,380.8 437.2,382.4 436.2,384.2 435.3,386.0 434.3,387.9 433.3,389.9 432.3,391.8 431.3,393.7 430.3,395.5 429.3,397.2 428.3,398.8 427.3,400.2 426.3,401.5 425.3,402.8 424.3,404.0 423.3,405.2 422.3,406.4 421.4,407.5 420.4,408.6 419.4,409.7 418.4,410.7 417.4,411.6 416.4,412.5 415.4,413.4 414.4,414.3 413.4,415.2 412.4,416.1 411.4,417.0 410.4,417.9 409.4,418.8 408.5,419.7 407.5,420.7 406.5,421.6 405.5,422.6 404.5,423.5 403.5,424.5 402.5,425.4 401.5,426.3 400.5,427.2 399.5,428.0 398.5,428.8 397.5,429.6 396.5,430.3 395.6,430.9 394.6,431.5" fill="url(#hblk)" stroke="#111" stroke-width="0.6"/>
<polyline points="394.6,430.3 395.4,429.7 396.2,429.2 397.0,428.5 397.9,427.9 398.7,427.2 399.5,426.5 400.4,425.7 401.2,424.9 402.0,424.1 402.8,423.3 403.7,422.5 404.5,421.6 405.3,420.7 406.1,419.9 407.0,419.0 407.8,418.1 408.6,417.2 409.4,416.3 410.3,415.5 411.1,414.6 411.9,413.8 412.8,412.9 413.6,412.1 414.4,411.3 415.2,410.4 416.1,409.6 416.9,408.7 417.7,407.9 418.5,407.0 419.4,406.1 420.2,405.2 421.0,404.3 421.9,403.4 422.7,402.4 423.5,401.5 424.3,400.5 425.2,399.4 426.0,398.4 426.8,397.3 427.6,396.2 428.5,395.0 429.3,393.7 430.1,392.3 431.0,390.8 431.8,389.2 432.6,387.6 433.4,386.0 434.3,384.4 435.1,382.8 435.9,381.2 436.7,379.7 437.6,378.3 438.4,377.0 439.2,375.8 440.0,374.7 440.9,373.5 441.7,372.3 442.5,371.1 443.4,370.0 444.2,369.0 445.0,367.9 445.8,367.0 446.7,366.1 447.5,365.3 448.3,364.6 449.1,364.0 450.0,363.5 450.8,362.9 451.6,362.4 452.5,361.9 453.3,361.5 454.1,361.1 454.9,360.7 455.8,360.5 456.6,360.3 457.4,360.1 458.2,360.0 459.1,360.0 459.9,359.9 460.7,359.8 461.5,359.8 462.4,359.7 463.2,359.7 464.0,359.7 464.9,359.7 465.7,359.7 466.5,359.7 467.3,359.7 468.2,359.7 469.0,359.7 469.8,359.7 470.6,359.7 471.5,359.7 472.3,359.7 473.1,359.7 474.0,359.7 474.8,359.7 475.6,359.7 476.4,359.7 477.3,359.7 478.1,359.7 478.9,359.7 479.7,359.7 480.6,359.7 481.4,359.7 482.2,359.7 483.1,359.7 483.9,359.7 484.7,359.7 485.5,359.7 486.4,359.7 487.2,359.7 488.0,359.7 488.8,359.7 489.7,359.7 490.5,359.7 491.3,359.7 492.1,359.7 493.0,359.7 493.8,359.7 494.6,359.7 495.5,359.7 496.3,359.7 497.1,359.7 497.9,359.7 498.8,359.7 499.6,359.7 500.4,359.7 501.2,359.7 502.1,359.7 502.9,359.7 503.7,359.7 504.6,359.7 505.4,359.7 506.2,359.7 507.0,359.7 507.9,359.7 508.7,359.7 509.5,359.7 510.3,359.7 511.2,359.7 512.0,359.7 512.8,359.7 513.6,359.7 514.5,359.7 515.3,359.7 516.1,359.7 517.0,359.7 517.8,359.7 518.6,359.7 519.4,359.7 520.3,359.7 521.1,359.7 521.9,359.7 522.7,359.7 523.6,359.7 524.4,359.7 525.2,359.7 526.1,359.7 526.9,359.7 527.7,359.7 528.5,359.7" fill="none" stroke="#000" stroke-width="1.3" />
<text x="213.3" y="178.9" font-size="9.4" text-anchor="middle" fill="#222">Smarca5<tspan font-size="5" dy="-3.2">fl/fl</tspan><tspan dy="3.2"> Trp53</tspan><tspan font-size="5" dy="-3.2">-/-</tspan></text>
<text x="326.9" y="179.2" font-size="9.4" text-anchor="middle" fill="#222">Smarca5<tspan font-size="5" dy="-3.2">fl/fl</tspan><tspan dy="3.2"> Trp53</tspan><tspan font-size="5" dy="-3.2">-/-</tspan></text>
<text x="326.4" y="189.5" font-size="9.3" text-anchor="middle" font-weight="normal" fill="#222" >Cre-Esr1</text>
<clipPath id="bx_sg1"><rect x="159.6" y="192.5" width="109.1" height="109.30000000000001"/></clipPath><g clip-path="url(#bx_sg1)">
<polygon points="178.5,222.5 223.1,200.1 253.2,198.4 256.8,237.0 178.5,262.3" fill="#c4c4c4"/>
<clipPath id="c_sg1"><polygon points="178.5,222.5 223.1,200.1 253.2,198.4 256.8,237.0 178.5,262.3"/></clipPath><g clip-path="url(#c_sg1)">
<path d="M178.5,222.5 L223.1,200.1 L236,199.5 C 243,206 241,218 233,227 C 226,235 222,240 221,250 L178.5,262.3 Z" fill="#555" filter="url(#blur05)"/>
<path d="M236.5,203 C 243,210 240,220 232,229 C 226,236 223,240 222,249" fill="none" stroke="#eee" stroke-width="1.2"/>
<g fill="#d8d8d8" stroke="#f4f4f4" stroke-width="0.8">
<path d="M184,262 C 185,254 187,249 188,247 C 189,250 191,255 192,261"/><path d="M186,262 C 187,256 188,252 188.5,251 C 189.5,254 190,257 190.5,261"/>
<path d="M204,257 C 205,250 207,245 208,243 C 209.5,246 211,251 212,256"/><path d="M206,257 C 207,252 208,249 208.5,248 C 209.5,250 210,253 210.5,256"/>
<path d="M196,259 C 197,253 199,249 200,248 C 201,251 202,255 203,258"/>
<path d="M215,254 C 216,248 217,245 218,244 C 219,247 220,250 220.5,253"/>
<path d="M224,213 L231,209"/>
</g>
<g fill="#ddd" opacity="0.7"><circle cx="203" cy="218" r="1.2"/><circle cx="193" cy="227" r="1"/><circle cx="199" cy="229" r="1"/><circle cx="227.5" cy="211.5" r="1.3"/></g>
</g>
<path fill="#6a6a6a" d="M253.6 215.5h.8v.8h-.8zM166.2 297.8h.8v.8h-.8zM240.6 283.8h.8v.8h-.8zM244.6 232.4h.8v.8h-.8zM248.8 242.0h.8v.8h-.8zM166.1 291.5h.8v.8h-.8zM213.1 283.1h.8v.8h-.8zM244.7 204.5h.8v.8h-.8zM238.4 244.5h.8v.8h-.8zM203.4 208.7h.8v.8h-.8zM237.4 196.0h.8v.8h-.8zM233.7 260.8h.8v.8h-.8zM174.4 227.1h.8v.8h-.8zM185.6 290.1h.8v.8h-.8zM197.8 289.0h.8v.8h-.8zM191.6 258.4h.8v.8h-.8zM240.0 256.5h.8v.8h-.8zM255.4 251.7h.8v.8h-.8zM243.6 239.0h.8v.8h-.8zM236.1 261.0h.8v.8h-.8zM257.9 234.4h.8v.8h-.8zM251.5 214.1h.8v.8h-.8zM234.6 239.5h.8v.8h-.8zM211.4 252.0h.8v.8h-.8zM247.2 200.4h.8v.8h-.8zM250.5 216.6h.8v.8h-.8zM191.5 291.7h.8v.8h-.8zM226.9 197.7h.8v.8h-.8zM200.8 200.7h.8v.8h-.8zM240.6 248.6h.8v.8h-.8zM169.2 264.8h.8v.8h-.8zM254.2 244.7h.8v.8h-.8zM233.2 217.0h.8v.8h-.8zM202.5 203.4h.8v.8h-.8zM201.5 287.6h.8v.8h-.8zM238.4 210.5h.8v.8h-.8zM238.7 270.2h.8v.8h-.8zM235.3 198.2h.8v.8h-.8zM241.6 254.8h.8v.8h-.8zM238.2 268.4h.8v.8h-.8zM247.2 234.1h.8v.8h-.8zM232.6 223.7h.8v.8h-.8zM242.1 252.9h.8v.8h-.8zM264.1 257.1h.8v.8h-.8zM247.5 238.1h.8v.8h-.8zM249.3 245.7h.8v.8h-.8zM234.4 265.0h.8v.8h-.8zM245.8 232.0h.8v.8h-.8zM233.0 249.1h.8v.8h-.8zM255.3 215.9h.8v.8h-.8zM257.2 225.5h.8v.8h-.8zM238.3 199.6h.8v.8h-.8zM211.3 203.8h.8v.8h-.8zM239.8 202.0h.8v.8h-.8zM243.6 239.7h.8v.8h-.8zM235.4 202.7h.8v.8h-.8zM242.8 238.0h.8v.8h-.8zM225.6 278.2h.8v.8h-.8zM188.4 287.2h.8v.8h-.8zM256.4 212.0h.8v.8h-.8zM213.1 286.7h.8v.8h-.8zM261.9 204.9h.8v.8h-.8zM233.5 203.0h.8v.8h-.8zM237.4 200.5h.8v.8h-.8zM250.6 206.0h.8v.8h-.8zM169.6 230.9h.8v.8h-.8zM233.8 241.1h.8v.8h-.8zM258.0 208.6h.8v.8h-.8zM255.6 221.4h.8v.8h-.8zM242.7 229.2h.8v.8h-.8zM228.4 270.8h.8v.8h-.8zM253.4 199.7h.8v.8h-.8zM256.3 247.4h.8v.8h-.8zM172.4 250.8h.8v.8h-.8zM165.7 270.5h.8v.8h-.8zM242.1 229.2h.8v.8h-.8zM258.8 223.3h.8v.8h-.8zM254.2 207.3h.8v.8h-.8zM238.6 247.3h.8v.8h-.8zM222.5 272.9h.8v.8h-.8zM246.3 244.2h.8v.8h-.8zM170.8 232.7h.8v.8h-.8zM234.1 216.3h.8v.8h-.8zM175.5 224.0h.8v.8h-.8zM176.1 238.7h.8v.8h-.8zM168.7 209.2h.8v.8h-.8zM211.4 279.4h.8v.8h-.8zM178.4 238.8h.8v.8h-.8zM248.4 217.7h.8v.8h-.8zM247.7 200.6h.8v.8h-.8zM183.7 264.5h.8v.8h-.8zM170.2 271.5h.8v.8h-.8zM258.4 261.4h.8v.8h-.8zM260.0 224.4h.8v.8h-.8zM253.6 199.3h.8v.8h-.8zM250.9 254.2h.8v.8h-.8zM205.8 207.2h.8v.8h-.8zM254.4 225.9h.8v.8h-.8zM238.1 242.2h.8v.8h-.8zM243.6 225.9h.8v.8h-.8zM216.5 197.9h.8v.8h-.8zM178.2 222.0h.8v.8h-.8zM240.0 256.7h.8v.8h-.8zM182.3 292.0h.8v.8h-.8zM234.2 201.5h.8v.8h-.8zM239.7 230.3h.8v.8h-.8zM208.0 253.2h.8v.8h-.8zM171.1 292.9h.8v.8h-.8zM257.7 201.5h.8v.8h-.8zM234.7 260.2h.8v.8h-.8zM235.7 217.8h.8v.8h-.8zM252.4 208.8h.8v.8h-.8zM261.2 231.1h.8v.8h-.8zM231.4 198.4h.8v.8h-.8zM249.9 256.8h.8v.8h-.8zM163.4 287.6h.8v.8h-.8zM192.5 258.3h.8v.8h-.8zM233.8 228.3h.8v.8h-.8zM249.4 223.9h.8v.8h-.8zM239.2 227.6h.8v.8h-.8zM240.4 251.8h.8v.8h-.8zM238.5 230.6h.8v.8h-.8zM233.3 234.6h.8v.8h-.8zM254.4 213.8h.8v.8h-.8zM233.1 221.6h.8v.8h-.8zM257.2 256.7h.8v.8h-.8zM248.4 203.4h.8v.8h-.8zM253.0 282.7h.8v.8h-.8zM235.3 233.4h.8v.8h-.8zM265.1 212.0h.8v.8h-.8zM238.4 234.6h.8v.8h-.8zM233.5 222.4h.8v.8h-.8zM258.4 221.2h.8v.8h-.8zM234.7 212.8h.8v.8h-.8zM178.0 219.8h.8v.8h-.8zM172.4 240.2h.8v.8h-.8zM248.8 253.0h.8v.8h-.8zM178.0 259.6h.8v.8h-.8zM222.1 277.9h.8v.8h-.8zM177.3 235.1h.8v.8h-.8zM249.8 262.0h.8v.8h-.8zM175.7 266.2h.8v.8h-.8zM179.0 295.9h.8v.8h-.8zM235.8 209.4h.8v.8h-.8zM171.4 266.4h.8v.8h-.8zM246.1 207.5h.8v.8h-.8zM218.4 251.7h.8v.8h-.8zM251.4 219.3h.8v.8h-.8zM202.7 205.8h.8v.8h-.8zM207.3 286.6h.8v.8h-.8zM238.1 241.7h.8v.8h-.8zM267.1 219.4h.8v.8h-.8zM236.2 231.1h.8v.8h-.8zM244.1 253.5h.8v.8h-.8zM233.4 253.5h.8v.8h-.8zM240.1 253.1h.8v.8h-.8zM241.8 224.5h.8v.8h-.8zM250.7 212.1h.8v.8h-.8zM261.8 226.9h.8v.8h-.8zM189.1 215.8h.8v.8h-.8zM203.6 255.4h.8v.8h-.8zM233.4 238.6h.8v.8h-.8zM263.8 214.0h.8v.8h-.8zM234.5 228.8h.8v.8h-.8zM249.3 243.9h.8v.8h-.8zM250.5 248.8h.8v.8h-.8zM258.9 196.7h.8v.8h-.8zM236.6 237.8h.8v.8h-.8zM243.1 224.9h.8v.8h-.8zM229.0 272.4h.8v.8h-.8zM203.8 207.0h.8v.8h-.8zM264.0 236.8h.8v.8h-.8zM178.0 225.4h.8v.8h-.8zM243.3 200.6h.8v.8h-.8zM254.0 250.4h.8v.8h-.8zM192.3 288.9h.8v.8h-.8zM239.5 246.2h.8v.8h-.8zM196.5 259.1h.8v.8h-.8zM173.1 289.0h.8v.8h-.8zM260.6 248.1h.8v.8h-.8zM254.3 227.0h.8v.8h-.8zM246.1 228.5h.8v.8h-.8zM243.7 237.3h.8v.8h-.8zM263.3 208.9h.8v.8h-.8zM163.3 230.7h.8v.8h-.8zM236.8 215.9h.8v.8h-.8zM240.5 255.2h.8v.8h-.8zM241.9 199.9h.8v.8h-.8zM258.3 224.0h.8v.8h-.8zM244.7 249.1h.8v.8h-.8zM248.7 226.9h.8v.8h-.8zM260.8 195.2h.8v.8h-.8zM245.2 240.7h.8v.8h-.8zM240.2 264.8h.8v.8h-.8zM244.4 252.4h.8v.8h-.8zM170.3 260.7h.8v.8h-.8zM254.0 213.7h.8v.8h-.8zM235.1 218.5h.8v.8h-.8zM195.5 287.6h.8v.8h-.8zM253.6 220.5h.8v.8h-.8zM195.8 259.0h.8v.8h-.8zM265.6 204.5h.8v.8h-.8zM240.8 206.0h.8v.8h-.8zM195.7 258.3h.8v.8h-.8zM254.1 215.3h.8v.8h-.8zM249.9 245.2h.8v.8h-.8zM240.7 254.3h.8v.8h-.8zM255.7 235.8h.8v.8h-.8zM216.2 196.2h.8v.8h-.8zM212.6 253.4h.8v.8h-.8zM210.9 205.9h.8v.8h-.8zM237.3 200.1h.8v.8h-.8zM237.0 195.2h.8v.8h-.8zM245.8 234.8h.8v.8h-.8zM260.1 223.9h.8v.8h-.8zM243.9 230.2h.8v.8h-.8zM179.1 289.4h.8v.8h-.8zM215.3 283.8h.8v.8h-.8zM188.9 263.0h.8v.8h-.8zM243.6 200.0h.8v.8h-.8zM238.1 260.6h.8v.8h-.8zM172.0 235.0h.8v.8h-.8zM221.0 250.4h.8v.8h-.8zM226.6 284.0h.8v.8h-.8zM214.2 297.2h.8v.8h-.8zM211.0 286.2h.8v.8h-.8zM261.1 240.0h.8v.8h-.8zM241.1 207.9h.8v.8h-.8zM238.9 205.5h.8v.8h-.8zM168.3 275.3h.8v.8h-.8zM178.3 253.8h.8v.8h-.8zM242.4 262.9h.8v.8h-.8zM213.4 202.9h.8v.8h-.8zM242.3 207.8h.8v.8h-.8zM253.2 240.4h.8v.8h-.8zM171.4 267.1h.8v.8h-.8zM255.8 196.2h.8v.8h-.8zM255.5 236.7h.8v.8h-.8zM240.2 212.7h.8v.8h-.8zM247.9 209.5h.8v.8h-.8zM236.5 202.0h.8v.8h-.8zM236.9 216.3h.8v.8h-.8zM233.1 260.1h.8v.8h-.8zM251.7 227.2h.8v.8h-.8zM260.0 200.9h.8v.8h-.8zM237.6 223.4h.8v.8h-.8zM225.4 272.7h.8v.8h-.8zM241.3 252.6h.8v.8h-.8zM233.2 266.1h.8v.8h-.8zM171.5 222.1h.8v.8h-.8zM257.8 239.3h.8v.8h-.8zM167.7 291.0h.8v.8h-.8zM177.8 233.3h.8v.8h-.8zM241.1 280.8h.8v.8h-.8zM204.8 285.8h.8v.8h-.8zM230.7 248.3h.8v.8h-.8zM250.2 203.8h.8v.8h-.8zM267.0 248.2h.8v.8h-.8zM245.6 219.9h.8v.8h-.8zM164.9 247.0h.8v.8h-.8zM253.8 216.4h.8v.8h-.8zM265.3 197.4h.8v.8h-.8zM232.7 265.6h.8v.8h-.8zM236.3 235.8h.8v.8h-.8zM190.6 214.0h.8v.8h-.8zM225.3 276.5h.8v.8h-.8zM232.0 218.5h.8v.8h-.8zM256.0 235.5h.8v.8h-.8zM224.2 197.4h.8v.8h-.8zM175.0 256.0h.8v.8h-.8zM178.2 240.3h.8v.8h-.8zM237.6 223.4h.8v.8h-.8zM241.6 243.3h.8v.8h-.8zM253.7 216.5h.8v.8h-.8zM235.4 199.9h.8v.8h-.8zM224.1 277.3h.8v.8h-.8zM175.2 225.0h.8v.8h-.8zM233.9 231.7h.8v.8h-.8zM246.4 223.4h.8v.8h-.8zM188.5 261.1h.8v.8h-.8zM256.9 197.6h.8v.8h-.8zM250.1 243.2h.8v.8h-.8zM197.8 259.8h.8v.8h-.8zM223.7 251.6h.8v.8h-.8zM256.1 210.5h.8v.8h-.8zM233.5 274.3h.8v.8h-.8zM239.9 251.1h.8v.8h-.8zM191.6 297.6h.8v.8h-.8zM253.7 195.9h.8v.8h-.8zM235.0 211.5h.8v.8h-.8zM242.0 261.5h.8v.8h-.8zM242.1 244.8h.8v.8h-.8zM231.9 268.9h.8v.8h-.8zM244.6 236.5h.8v.8h-.8zM234.2 216.0h.8v.8h-.8zM238.3 246.3h.8v.8h-.8zM174.3 260.6h.8v.8h-.8zM187.5 263.1h.8v.8h-.8zM253.8 217.2h.8v.8h-.8zM235.1 258.3h.8v.8h-.8zM257.0 198.8h.8v.8h-.8zM237.0 232.0h.8v.8h-.8zM221.4 248.6h.8v.8h-.8zM233.6 258.1h.8v.8h-.8zM259.0 202.5h.8v.8h-.8zM237.1 236.5h.8v.8h-.8zM233.9 227.3h.8v.8h-.8zM239.9 248.1h.8v.8h-.8zM201.1 291.8h.8v.8h-.8zM192.5 258.6h.8v.8h-.8zM246.2 240.8h.8v.8h-.8zM173.9 290.6h.8v.8h-.8zM161.9 274.5h.8v.8h-.8zM248.0 213.0h.8v.8h-.8zM249.4 218.4h.8v.8h-.8zM248.0 226.3h.8v.8h-.8zM253.0 204.3h.8v.8h-.8zM173.8 214.3h.8v.8h-.8zM253.4 213.2h.8v.8h-.8zM250.9 200.3h.8v.8h-.8zM243.5 256.4h.8v.8h-.8zM243.6 231.6h.8v.8h-.8zM234.7 204.4h.8v.8h-.8zM164.6 240.3h.8v.8h-.8zM175.7 229.6h.8v.8h-.8zM212.7 256.2h.8v.8h-.8zM178.3 254.3h.8v.8h-.8zM263.3 213.7h.8v.8h-.8zM246.8 217.2h.8v.8h-.8zM243.3 247.3h.8v.8h-.8zM240.7 255.5h.8v.8h-.8zM264.8 202.2h.8v.8h-.8zM250.0 247.6h.8v.8h-.8zM232.2 252.8h.8v.8h-.8zM200.9 258.1h.8v.8h-.8zM244.3 256.0h.8v.8h-.8zM242.5 284.9h.8v.8h-.8zM247.1 234.7h.8v.8h-.8zM243.1 247.9h.8v.8h-.8zM251.3 211.1h.8v.8h-.8zM243.1 258.6h.8v.8h-.8zM253.1 237.6h.8v.8h-.8zM259.9 214.3h.8v.8h-.8zM253.9 231.3h.8v.8h-.8zM246.7 221.0h.8v.8h-.8zM234.0 254.8h.8v.8h-.8zM253.0 242.4h.8v.8h-.8zM229.4 198.6h.8v.8h-.8zM257.6 225.1h.8v.8h-.8zM250.2 240.6h.8v.8h-.8zM210.9 256.8h.8v.8h-.8zM234.7 217.3h.8v.8h-.8zM236.2 250.3h.8v.8h-.8zM251.6 206.7h.8v.8h-.8zM232.7 217.0h.8v.8h-.8zM267.3 226.4h.8v.8h-.8zM253.3 211.3h.8v.8h-.8zM239.6 246.1h.8v.8h-.8zM246.9 198.5h.8v.8h-.8zM244.3 206.1h.8v.8h-.8zM236.7 250.9h.8v.8h-.8zM260.8 207.1h.8v.8h-.8zM185.9 291.9h.8v.8h-.8zM195.8 285.5h.8v.8h-.8zM242.9 264.1h.8v.8h-.8zM248.3 231.1h.8v.8h-.8zM235.1 216.0h.8v.8h-.8zM206.7 283.0h.8v.8h-.8zM256.0 249.6h.8v.8h-.8zM245.6 239.4h.8v.8h-.8zM216.4 291.1h.8v.8h-.8zM256.1 213.4h.8v.8h-.8zM258.3 235.4h.8v.8h-.8zM258.2 224.3h.8v.8h-.8zM232.6 243.6h.8v.8h-.8zM251.9 215.5h.8v.8h-.8zM257.3 231.6h.8v.8h-.8zM241.3 232.6h.8v.8h-.8zM257.6 260.4h.8v.8h-.8zM238.4 231.0h.8v.8h-.8zM266.1 198.4h.8v.8h-.8zM259.4 216.7h.8v.8h-.8zM241.6 266.2h.8v.8h-.8zM253.6 201.7h.8v.8h-.8zM248.5 254.5h.8v.8h-.8zM192.0 285.8h.8v.8h-.8zM250.6 217.7h.8v.8h-.8zM264.2 208.2h.8v.8h-.8zM172.8 289.2h.8v.8h-.8zM209.8 286.7h.8v.8h-.8zM252.2 254.8h.8v.8h-.8zM177.3 253.5h.8v.8h-.8zM253.2 217.2h.8v.8h-.8zM241.3 263.0h.8v.8h-.8zM237.1 214.6h.8v.8h-.8zM250.1 220.5h.8v.8h-.8zM201.4 202.5h.8v.8h-.8zM237.6 219.6h.8v.8h-.8zM236.0 258.2h.8v.8h-.8zM248.8 254.8h.8v.8h-.8zM239.2 241.6h.8v.8h-.8zM201.2 260.4h.8v.8h-.8zM247.6 258.3h.8v.8h-.8zM175.5 240.2h.8v.8h-.8zM220.8 253.7h.8v.8h-.8zM207.8 258.3h.8v.8h-.8zM186.1 218.5h.8v.8h-.8zM245.0 194.1h.8v.8h-.8zM177.6 219.1h.8v.8h-.8zM178.3 247.9h.8v.8h-.8zM234.8 257.7h.8v.8h-.8zM249.5 198.7h.8v.8h-.8zM246.9 224.5h.8v.8h-.8zM235.2 233.6h.8v.8h-.8zM210.6 198.0h.8v.8h-.8zM233.4 203.5h.8v.8h-.8zM238.1 207.3h.8v.8h-.8zM251.2 225.0h.8v.8h-.8zM233.2 261.6h.8v.8h-.8zM251.7 222.6h.8v.8h-.8zM245.4 197.5h.8v.8h-.8zM239.0 200.0h.8v.8h-.8zM173.9 234.7h.8v.8h-.8zM243.3 249.9h.8v.8h-.8zM232.2 201.3h.8v.8h-.8zM261.1 255.8h.8v.8h-.8zM239.0 239.2h.8v.8h-.8zM244.1 232.2h.8v.8h-.8zM245.5 253.8h.8v.8h-.8zM244.0 235.1h.8v.8h-.8zM226.7 196.7h.8v.8h-.8zM216.8 252.1h.8v.8h-.8zM191.0 213.4h.8v.8h-.8zM254.1 197.8h.8v.8h-.8zM254.3 219.6h.8v.8h-.8zM236.5 234.5h.8v.8h-.8zM178.2 251.7h.8v.8h-.8zM178.3 262.1h.8v.8h-.8zM262.9 222.8h.8v.8h-.8zM248.0 221.9h.8v.8h-.8zM250.9 219.5h.8v.8h-.8zM243.7 225.0h.8v.8h-.8zM162.7 285.0h.8v.8h-.8zM263.8 199.1h.8v.8h-.8zM247.8 208.8h.8v.8h-.8zM211.0 282.2h.8v.8h-.8zM232.1 198.9h.8v.8h-.8zM252.5 232.6h.8v.8h-.8zM173.1 257.2h.8v.8h-.8zM262.7 205.0h.8v.8h-.8zM253.8 211.6h.8v.8h-.8zM202.9 203.9h.8v.8h-.8zM189.3 286.4h.8v.8h-.8zM250.0 220.1h.8v.8h-.8zM193.9 202.1h.8v.8h-.8zM234.3 253.8h.8v.8h-.8zM237.9 226.3h.8v.8h-.8zM242.9 241.3h.8v.8h-.8zM206.5 286.4h.8v.8h-.8zM162.3 227.8h.8v.8h-.8zM225.1 250.9h.8v.8h-.8zM248.2 206.0h.8v.8h-.8zM245.3 244.0h.8v.8h-.8zM240.3 208.2h.8v.8h-.8zM234.0 242.1h.8v.8h-.8zM166.1 277.9h.8v.8h-.8zM244.4 209.2h.8v.8h-.8zM236.0 224.0h.8v.8h-.8zM202.3 292.5h.8v.8h-.8zM223.4 291.6h.8v.8h-.8zM232.6 267.0h.8v.8h-.8zM241.2 249.1h.8v.8h-.8zM253.2 218.5h.8v.8h-.8zM227.9 251.6h.8v.8h-.8zM174.4 251.4h.8v.8h-.8zM249.6 218.5h.8v.8h-.8zM234.3 250.6h.8v.8h-.8zM266.9 218.7h.8v.8h-.8zM162.8 285.6h.8v.8h-.8zM247.3 239.4h.8v.8h-.8zM175.7 238.3h.8v.8h-.8zM265.1 198.1h.8v.8h-.8zM237.4 226.4h.8v.8h-.8zM260.7 257.9h.8v.8h-.8zM195.2 290.5h.8v.8h-.8zM186.3 264.0h.8v.8h-.8zM266.9 244.0h.8v.8h-.8zM248.8 226.4h.8v.8h-.8zM178.0 244.1h.8v.8h-.8zM258.6 198.0h.8v.8h-.8zM183.1 216.2h.8v.8h-.8zM169.2 279.2h.8v.8h-.8zM236.3 227.2h.8v.8h-.8zM240.7 206.8h.8v.8h-.8zM253.5 201.9h.8v.8h-.8zM241.7 218.8h.8v.8h-.8zM249.4 252.5h.8v.8h-.8zM250.1 237.7h.8v.8h-.8zM244.1 222.5h.8v.8h-.8zM244.7 233.8h.8v.8h-.8zM178.1 231.8h.8v.8h-.8zM252.7 227.2h.8v.8h-.8zM248.2 237.9h.8v.8h-.8zM173.9 257.7h.8v.8h-.8zM191.1 197.8h.8v.8h-.8zM209.0 202.9h.8v.8h-.8zM234.0 227.9h.8v.8h-.8zM253.4 252.1h.8v.8h-.8zM235.9 219.2h.8v.8h-.8zM236.7 200.8h.8v.8h-.8zM247.6 247.9h.8v.8h-.8zM238.8 225.9h.8v.8h-.8zM243.0 211.0h.8v.8h-.8zM262.0 255.5h.8v.8h-.8zM250.0 244.2h.8v.8h-.8zM246.7 235.8h.8v.8h-.8zM248.1 234.0h.8v.8h-.8zM247.4 196.1h.8v.8h-.8zM172.9 248.4h.8v.8h-.8zM265.3 284.3h.8v.8h-.8zM218.5 281.0h.8v.8h-.8zM257.2 243.0h.8v.8h-.8zM243.8 247.7h.8v.8h-.8zM260.0 238.4h.8v.8h-.8zM238.2 222.1h.8v.8h-.8zM200.1 255.9h.8v.8h-.8zM206.9 195.6h.8v.8h-.8zM235.8 204.3h.8v.8h-.8zM161.9 284.0h.8v.8h-.8zM174.5 264.4h.8v.8h-.8zM253.7 256.9h.8v.8h-.8zM267.0 247.2h.8v.8h-.8zM171.4 237.3h.8v.8h-.8zM239.4 206.9h.8v.8h-.8zM240.1 224.2h.8v.8h-.8zM252.7 241.1h.8v.8h-.8zM251.2 226.9h.8v.8h-.8zM233.0 226.8h.8v.8h-.8zM169.1 278.0h.8v.8h-.8zM160.2 292.2h.8v.8h-.8zM233.2 197.6h.8v.8h-.8zM174.4 230.5h.8v.8h-.8zM254.9 240.9h.8v.8h-.8zM234.0 235.6h.8v.8h-.8zM235.0 206.2h.8v.8h-.8zM172.2 238.6h.8v.8h-.8zM248.6 210.1h.8v.8h-.8zM253.4 233.8h.8v.8h-.8zM243.3 224.8h.8v.8h-.8zM247.8 223.8h.8v.8h-.8zM239.2 265.3h.8v.8h-.8zM234.9 215.1h.8v.8h-.8zM213.6 254.8h.8v.8h-.8zM250.8 254.0h.8v.8h-.8zM255.6 222.2h.8v.8h-.8zM169.2 282.2h.8v.8h-.8zM224.1 279.7h.8v.8h-.8zM170.6 290.4h.8v.8h-.8zM252.3 229.8h.8v.8h-.8zM242.5 213.5h.8v.8h-.8zM243.2 237.6h.8v.8h-.8zM186.0 288.1h.8v.8h-.8zM242.0 231.4h.8v.8h-.8zM254.5 228.2h.8v.8h-.8zM246.4 236.9h.8v.8h-.8zM183.1 262.4h.8v.8h-.8zM233.2 239.1h.8v.8h-.8zM227.2 195.3h.8v.8h-.8zM184.0 219.4h.8v.8h-.8zM174.2 248.1h.8v.8h-.8zM197.7 292.2h.8v.8h-.8zM264.0 235.1h.8v.8h-.8zM254.5 207.3h.8v.8h-.8zM254.4 201.7h.8v.8h-.8zM178.1 234.3h.8v.8h-.8zM255.0 218.9h.8v.8h-.8zM263.8 221.3h.8v.8h-.8zM191.6 262.6h.8v.8h-.8zM249.5 247.8h.8v.8h-.8zM242.7 247.8h.8v.8h-.8zM218.5 279.0h.8v.8h-.8zM237.6 194.4h.8v.8h-.8zM215.2 197.4h.8v.8h-.8zM262.5 218.7h.8v.8h-.8zM259.6 225.3h.8v.8h-.8zM242.7 224.8h.8v.8h-.8zM208.5 255.2h.8v.8h-.8zM235.2 200.7h.8v.8h-.8zM165.3 289.2h.8v.8h-.8zM180.9 197.4h.8v.8h-.8zM216.8 202.9h.8v.8h-.8zM236.5 273.3h.8v.8h-.8zM245.6 239.5h.8v.8h-.8zM251.5 200.8h.8v.8h-.8zM176.2 265.9h.8v.8h-.8zM245.1 212.3h.8v.8h-.8zM213.4 251.4h.8v.8h-.8zM261.4 223.8h.8v.8h-.8zM240.4 194.5h.8v.8h-.8zM221.6 275.1h.8v.8h-.8zM253.6 213.9h.8v.8h-.8zM223.9 276.7h.8v.8h-.8zM241.8 196.5h.8v.8h-.8zM254.4 230.8h.8v.8h-.8zM246.8 208.6h.8v.8h-.8zM243.2 215.0h.8v.8h-.8zM211.0 205.7h.8v.8h-.8zM173.7 253.8h.8v.8h-.8zM245.2 251.1h.8v.8h-.8zM255.1 239.1h.8v.8h-.8zM235.5 224.1h.8v.8h-.8zM251.7 213.7h.8v.8h-.8zM250.6 209.8h.8v.8h-.8zM248.3 239.1h.8v.8h-.8zM185.5 263.4h.8v.8h-.8zM177.4 246.5h.8v.8h-.8zM263.4 220.7h.8v.8h-.8zM248.9 206.5h.8v.8h-.8zM235.3 268.3h.8v.8h-.8zM236.1 265.3h.8v.8h-.8zM184.6 290.0h.8v.8h-.8zM173.6 230.2h.8v.8h-.8zM236.9 251.4h.8v.8h-.8zM232.8 232.7h.8v.8h-.8zM247.5 220.4h.8v.8h-.8zM254.8 226.6h.8v.8h-.8zM232.0 241.7h.8v.8h-.8zM232.0 268.4h.8v.8h-.8zM194.4 290.0h.8v.8h-.8zM177.6 263.2h.8v.8h-.8zM180.5 220.7h.8v.8h-.8zM164.2 293.1h.8v.8h-.8zM244.1 261.6h.8v.8h-.8zM188.7 216.9h.8v.8h-.8zM245.8 218.9h.8v.8h-.8zM182.3 287.9h.8v.8h-.8zM253.2 203.5h.8v.8h-.8zM232.9 271.8h.8v.8h-.8zM259.9 246.5h.8v.8h-.8zM246.4 207.3h.8v.8h-.8zM253.9 236.5h.8v.8h-.8zM215.0 277.7h.8v.8h-.8zM235.4 210.6h.8v.8h-.8zM191.2 262.6h.8v.8h-.8zM238.7 228.6h.8v.8h-.8zM223.4 275.0h.8v.8h-.8zM245.5 235.2h.8v.8h-.8zM246.4 197.5h.8v.8h-.8zM253.9 206.6h.8v.8h-.8zM242.0 231.0h.8v.8h-.8zM252.3 250.0h.8v.8h-.8zM233.2 207.6h.8v.8h-.8zM207.3 253.4h.8v.8h-.8zM265.4 215.9h.8v.8h-.8zM247.3 211.0h.8v.8h-.8zM252.2 199.2h.8v.8h-.8zM187.1 293.4h.8v.8h-.8zM235.2 211.4h.8v.8h-.8zM243.7 234.9h.8v.8h-.8zM257.1 220.4h.8v.8h-.8zM236.8 225.1h.8v.8h-.8zM249.2 223.6h.8v.8h-.8zM167.3 287.4h.8v.8h-.8zM237.8 266.4h.8v.8h-.8zM247.0 261.3h.8v.8h-.8zM182.3 263.2h.8v.8h-.8zM161.1 276.3h.8v.8h-.8zM252.2 226.7h.8v.8h-.8zM221.7 275.4h.8v.8h-.8zM245.9 210.7h.8v.8h-.8zM244.7 250.2h.8v.8h-.8zM257.5 231.3h.8v.8h-.8zM230.3 198.1h.8v.8h-.8zM248.4 254.8h.8v.8h-.8zM243.9 203.3h.8v.8h-.8zM258.0 242.3h.8v.8h-.8zM255.4 223.5h.8v.8h-.8zM254.2 205.3h.8v.8h-.8zM260.5 239.3h.8v.8h-.8zM200.6 256.8h.8v.8h-.8zM240.0 203.8h.8v.8h-.8zM172.2 227.6h.8v.8h-.8zM252.8 250.1h.8v.8h-.8zM202.7 206.9h.8v.8h-.8zM251.6 256.6h.8v.8h-.8zM220.8 286.1h.8v.8h-.8zM177.9 250.3h.8v.8h-.8zM231.3 194.6h.8v.8h-.8zM246.3 218.4h.8v.8h-.8zM173.0 225.0h.8v.8h-.8zM178.0 290.2h.8v.8h-.8zM243.2 207.1h.8v.8h-.8zM234.4 234.7h.8v.8h-.8zM250.7 249.4h.8v.8h-.8zM232.3 212.9h.8v.8h-.8zM233.5 237.8h.8v.8h-.8zM182.8 262.3h.8v.8h-.8zM241.9 213.0h.8v.8h-.8zM213.9 199.9h.8v.8h-.8zM252.5 237.1h.8v.8h-.8zM228.7 288.2h.8v.8h-.8zM218.2 200.2h.8v.8h-.8zM253.8 221.8h.8v.8h-.8zM212.8 279.7h.8v.8h-.8zM250.7 227.4h.8v.8h-.8zM244.3 200.2h.8v.8h-.8zM234.1 228.2h.8v.8h-.8zM172.2 214.0h.8v.8h-.8zM245.9 200.7h.8v.8h-.8zM245.2 201.7h.8v.8h-.8zM214.8 202.1h.8v.8h-.8zM239.9 201.7h.8v.8h-.8zM223.2 251.1h.8v.8h-.8zM164.6 278.3h.8v.8h-.8zM247.8 255.2h.8v.8h-.8zM252.5 214.6h.8v.8h-.8zM258.6 200.1h.8v.8h-.8zM170.3 259.6h.8v.8h-.8zM235.5 228.8h.8v.8h-.8zM166.1 245.6h.8v.8h-.8zM211.5 280.9h.8v.8h-.8zM242.1 209.5h.8v.8h-.8zM250.7 239.7h.8v.8h-.8zM242.5 285.2h.8v.8h-.8zM223.7 284.5h.8v.8h-.8zM251.5 200.0h.8v.8h-.8zM229.2 195.0h.8v.8h-.8zM250.2 204.7h.8v.8h-.8zM237.0 240.7h.8v.8h-.8zM244.2 219.1h.8v.8h-.8zM232.3 266.3h.8v.8h-.8zM193.9 259.3h.8v.8h-.8zM172.2 232.9h.8v.8h-.8zM175.8 236.1h.8v.8h-.8zM253.5 278.9h.8v.8h-.8zM253.2 236.7h.8v.8h-.8zM243.7 228.5h.8v.8h-.8zM243.3 262.0h.8v.8h-.8zM246.6 218.4h.8v.8h-.8zM239.6 225.9h.8v.8h-.8zM189.5 215.3h.8v.8h-.8zM212.0 254.2h.8v.8h-.8zM246.6 224.5h.8v.8h-.8zM184.1 260.9h.8v.8h-.8zM249.5 239.7h.8v.8h-.8zM249.4 194.8h.8v.8h-.8zM256.6 231.3h.8v.8h-.8zM267.4 295.9h.8v.8h-.8zM239.3 258.5h.8v.8h-.8zM211.6 298.9h.8v.8h-.8zM172.7 244.5h.8v.8h-.8zM219.4 253.9h.8v.8h-.8zM252.9 198.3h.8v.8h-.8zM242.7 214.9h.8v.8h-.8zM172.6 251.3h.8v.8h-.8zM244.5 259.2h.8v.8h-.8zM248.9 246.1h.8v.8h-.8zM255.8 209.5h.8v.8h-.8zM237.4 263.3h.8v.8h-.8zM216.8 289.3h.8v.8h-.8zM260.1 224.9h.8v.8h-.8zM249.2 211.0h.8v.8h-.8zM251.0 247.1h.8v.8h-.8zM201.6 259.1h.8v.8h-.8zM225.2 278.5h.8v.8h-.8zM175.9 228.0h.8v.8h-.8zM242.7 214.3h.8v.8h-.8zM232.6 214.9h.8v.8h-.8zM164.4 267.0h.8v.8h-.8zM238.7 210.5h.8v.8h-.8zM221.3 251.8h.8v.8h-.8zM177.9 257.8h.8v.8h-.8zM255.6 204.2h.8v.8h-.8zM236.6 240.3h.8v.8h-.8zM248.9 245.9h.8v.8h-.8zM207.6 258.1h.8v.8h-.8zM210.9 279.5h.8v.8h-.8zM241.8 207.6h.8v.8h-.8zM266.5 199.6h.8v.8h-.8zM241.8 262.8h.8v.8h-.8zM217.6 201.1h.8v.8h-.8zM266.4 209.4h.8v.8h-.8zM164.5 264.2h.8v.8h-.8zM173.4 254.8h.8v.8h-.8zM168.7 279.5h.8v.8h-.8zM246.8 222.0h.8v.8h-.8zM186.0 287.8h.8v.8h-.8zM247.9 223.9h.8v.8h-.8zM232.9 205.9h.8v.8h-.8zM242.7 257.7h.8v.8h-.8zM234.6 230.1h.8v.8h-.8zM250.6 250.0h.8v.8h-.8zM251.6 195.0h.8v.8h-.8zM232.3 263.9h.8v.8h-.8zM257.5 196.5h.8v.8h-.8zM236.0 215.2h.8v.8h-.8zM224.7 248.2h.8v.8h-.8zM245.1 250.1h.8v.8h-.8zM251.7 232.4h.8v.8h-.8zM235.4 267.1h.8v.8h-.8zM234.1 241.7h.8v.8h-.8zM241.6 269.6h.8v.8h-.8zM233.6 216.2h.8v.8h-.8zM244.8 248.9h.8v.8h-.8zM235.9 258.3h.8v.8h-.8zM258.3 252.6h.8v.8h-.8zM199.9 257.3h.8v.8h-.8zM259.8 241.5h.8v.8h-.8zM189.7 294.4h.8v.8h-.8zM262.2 204.5h.8v.8h-.8zM196.0 285.6h.8v.8h-.8zM182.1 264.1h.8v.8h-.8zM177.0 237.1h.8v.8h-.8zM243.6 243.7h.8v.8h-.8zM239.6 267.3h.8v.8h-.8zM242.4 215.8h.8v.8h-.8zM261.1 250.5h.8v.8h-.8zM212.1 200.6h.8v.8h-.8zM235.4 234.1h.8v.8h-.8zM249.7 232.1h.8v.8h-.8zM263.5 223.3h.8v.8h-.8zM174.6 260.9h.8v.8h-.8zM265.5 209.2h.8v.8h-.8zM254.2 214.6h.8v.8h-.8zM265.5 251.3h.8v.8h-.8zM207.5 281.7h.8v.8h-.8zM261.4 232.5h.8v.8h-.8zM194.9 288.4h.8v.8h-.8zM252.9 215.4h.8v.8h-.8zM248.3 210.2h.8v.8h-.8zM207.8 205.5h.8v.8h-.8zM253.9 238.2h.8v.8h-.8zM228.4 249.9h.8v.8h-.8zM254.7 253.7h.8v.8h-.8zM249.0 200.7h.8v.8h-.8zM171.2 258.6h.8v.8h-.8zM257.0 224.3h.8v.8h-.8zM220.9 281.0h.8v.8h-.8zM233.4 242.5h.8v.8h-.8zM246.2 248.4h.8v.8h-.8zM263.7 237.6h.8v.8h-.8zM256.2 265.8h.8v.8h-.8zM218.4 199.2h.8v.8h-.8zM189.4 290.4h.8v.8h-.8zM250.8 205.2h.8v.8h-.8zM197.3 299.5h.8v.8h-.8zM234.1 209.4h.8v.8h-.8zM232.9 266.7h.8v.8h-.8zM222.7 286.4h.8v.8h-.8zM251.5 241.4h.8v.8h-.8zM245.7 222.6h.8v.8h-.8zM164.0 293.3h.8v.8h-.8zM243.0 222.1h.8v.8h-.8zM243.3 235.7h.8v.8h-.8zM247.7 244.3h.8v.8h-.8zM189.8 299.6h.8v.8h-.8zM256.6 210.2h.8v.8h-.8zM257.5 248.1h.8v.8h-.8zM266.8 218.0h.8v.8h-.8zM241.5 257.0h.8v.8h-.8zM258.4 255.9h.8v.8h-.8zM240.8 249.8h.8v.8h-.8zM237.2 237.4h.8v.8h-.8zM236.1 231.2h.8v.8h-.8zM252.5 199.4h.8v.8h-.8zM224.3 278.9h.8v.8h-.8zM262.7 196.2h.8v.8h-.8zM257.4 228.4h.8v.8h-.8zM240.4 220.1h.8v.8h-.8zM164.6 264.6h.8v.8h-.8zM185.2 203.7h.8v.8h-.8zM259.5 252.6h.8v.8h-.8zM234.2 227.6h.8v.8h-.8zM246.8 202.4h.8v.8h-.8zM239.4 199.5h.8v.8h-.8zM248.1 246.6h.8v.8h-.8zM236.2 211.1h.8v.8h-.8zM235.4 256.4h.8v.8h-.8zM163.9 294.6h.8v.8h-.8zM255.9 259.0h.8v.8h-.8zM168.8 277.7h.8v.8h-.8zM222.3 249.6h.8v.8h-.8zM259.5 225.0h.8v.8h-.8zM212.4 285.0h.8v.8h-.8zM239.9 225.0h.8v.8h-.8zM237.1 242.1h.8v.8h-.8zM256.9 252.0h.8v.8h-.8zM195.1 194.1h.8v.8h-.8zM216.6 278.6h.8v.8h-.8zM177.6 290.5h.8v.8h-.8zM256.9 257.4h.8v.8h-.8zM240.4 227.5h.8v.8h-.8zM266.8 232.8h.8v.8h-.8zM248.4 203.3h.8v.8h-.8zM167.0 290.9h.8v.8h-.8zM171.9 248.0h.8v.8h-.8zM224.0 194.0h.8v.8h-.8zM253.1 236.1h.8v.8h-.8zM169.8 264.1h.8v.8h-.8zM177.7 223.1h.8v.8h-.8zM250.6 239.0h.8v.8h-.8zM180.5 287.8h.8v.8h-.8zM232.6 208.3h.8v.8h-.8zM235.8 268.8h.8v.8h-.8zM261.5 216.6h.8v.8h-.8zM178.1 233.0h.8v.8h-.8zM250.9 209.1h.8v.8h-.8zM228.5 251.0h.8v.8h-.8zM191.9 294.6h.8v.8h-.8zM199.7 260.2h.8v.8h-.8zM188.1 200.1h.8v.8h-.8zM229.5 278.2h.8v.8h-.8zM169.9 252.1h.8v.8h-.8zM248.4 208.4h.8v.8h-.8zM222.8 197.1h.8v.8h-.8zM243.3 226.6h.8v.8h-.8zM256.0 198.6h.8v.8h-.8zM191.1 289.1h.8v.8h-.8zM240.1 239.4h.8v.8h-.8zM236.1 226.8h.8v.8h-.8zM237.6 290.4h.8v.8h-.8zM238.3 203.8h.8v.8h-.8zM239.8 241.0h.8v.8h-.8zM245.5 220.7h.8v.8h-.8zM234.0 271.2h.8v.8h-.8zM245.5 219.2h.8v.8h-.8zM253.2 212.0h.8v.8h-.8zM191.2 286.0h.8v.8h-.8zM245.8 246.7h.8v.8h-.8zM181.3 217.6h.8v.8h-.8zM236.7 225.6h.8v.8h-.8zM243.4 228.6h.8v.8h-.8zM248.0 231.7h.8v.8h-.8zM251.8 230.5h.8v.8h-.8zM249.8 206.3h.8v.8h-.8zM240.8 237.0h.8v.8h-.8zM232.7 254.3h.8v.8h-.8zM259.8 231.7h.8v.8h-.8zM253.7 227.9h.8v.8h-.8zM207.9 202.0h.8v.8h-.8zM209.0 258.3h.8v.8h-.8zM254.4 250.2h.8v.8h-.8zM241.9 268.3h.8v.8h-.8zM248.0 208.7h.8v.8h-.8zM160.6 299.1h.8v.8h-.8zM240.7 247.8h.8v.8h-.8zM260.6 231.9h.8v.8h-.8zM170.3 268.8h.8v.8h-.8zM255.3 207.6h.8v.8h-.8zM213.4 251.8h.8v.8h-.8zM162.1 289.8h.8v.8h-.8zM217.0 197.9h.8v.8h-.8zM259.6 195.4h.8v.8h-.8zM245.1 199.6h.8v.8h-.8zM171.2 296.3h.8v.8h-.8zM249.6 205.7h.8v.8h-.8zM257.4 215.8h.8v.8h-.8zM243.3 257.0h.8v.8h-.8zM251.6 195.2h.8v.8h-.8zM256.1 196.2h.8v.8h-.8zM262.7 216.1h.8v.8h-.8zM256.5 203.1h.8v.8h-.8zM191.6 292.6h.8v.8h-.8zM200.9 284.4h.8v.8h-.8zM258.4 236.5h.8v.8h-.8zM221.0 282.9h.8v.8h-.8zM171.0 208.5h.8v.8h-.8zM207.5 199.5h.8v.8h-.8zM233.9 241.6h.8v.8h-.8zM172.6 246.8h.8v.8h-.8zM246.8 240.3h.8v.8h-.8zM232.3 266.5h.8v.8h-.8zM232.3 263.6h.8v.8h-.8zM242.8 227.5h.8v.8h-.8zM237.4 233.5h.8v.8h-.8zM244.9 247.9h.8v.8h-.8zM238.7 211.4h.8v.8h-.8zM240.6 271.1h.8v.8h-.8zM251.8 232.4h.8v.8h-.8zM264.7 205.9h.8v.8h-.8zM253.9 210.3h.8v.8h-.8zM245.9 204.7h.8v.8h-.8zM220.5 253.9h.8v.8h-.8zM232.7 224.3h.8v.8h-.8zM242.4 246.6h.8v.8h-.8zM232.6 248.7h.8v.8h-.8zM241.0 227.6h.8v.8h-.8zM176.1 232.4h.8v.8h-.8zM205.8 206.5h.8v.8h-.8zM247.9 195.2h.8v.8h-.8zM242.5 210.9h.8v.8h-.8zM265.1 230.1h.8v.8h-.8zM258.1 252.1h.8v.8h-.8zM193.6 214.9h.8v.8h-.8zM165.0 206.6h.8v.8h-.8zM242.7 211.1h.8v.8h-.8zM250.8 212.6h.8v.8h-.8zM176.8 245.5h.8v.8h-.8zM252.8 205.6h.8v.8h-.8zM248.4 223.2h.8v.8h-.8zM164.9 274.4h.8v.8h-.8zM212.6 199.8h.8v.8h-.8zM236.8 197.9h.8v.8h-.8zM177.1 250.4h.8v.8h-.8zM247.9 255.5h.8v.8h-.8zM232.0 198.6h.8v.8h-.8zM258.6 225.4h.8v.8h-.8zM232.2 201.2h.8v.8h-.8zM262.2 195.6h.8v.8h-.8zM239.9 266.1h.8v.8h-.8zM238.7 201.2h.8v.8h-.8zM248.7 259.5h.8v.8h-.8zM232.2 255.5h.8v.8h-.8zM250.2 222.6h.8v.8h-.8zM233.6 227.5h.8v.8h-.8zM214.7 255.1h.8v.8h-.8zM187.3 263.7h.8v.8h-.8zM252.0 196.5h.8v.8h-.8zM226.1 272.9h.8v.8h-.8zM254.4 205.4h.8v.8h-.8zM214.6 293.8h.8v.8h-.8zM189.7 213.5h.8v.8h-.8zM208.7 256.3h.8v.8h-.8zM261.1 235.1h.8v.8h-.8zM183.0 264.6h.8v.8h-.8zM244.5 252.6h.8v.8h-.8zM171.2 268.2h.8v.8h-.8zM173.7 288.7h.8v.8h-.8zM214.3 204.1h.8v.8h-.8zM248.0 245.2h.8v.8h-.8zM235.9 202.3h.8v.8h-.8zM262.2 233.4h.8v.8h-.8zM189.9 288.3h.8v.8h-.8zM234.6 271.9h.8v.8h-.8zM172.4 239.8h.8v.8h-.8zM232.6 250.6h.8v.8h-.8zM222.6 276.7h.8v.8h-.8zM244.4 245.0h.8v.8h-.8zM244.1 248.6h.8v.8h-.8zM253.0 219.0h.8v.8h-.8zM244.3 245.1h.8v.8h-.8zM238.1 210.6h.8v.8h-.8zM242.0 253.7h.8v.8h-.8zM234.5 242.7h.8v.8h-.8zM212.0 279.0h.8v.8h-.8zM222.5 250.7h.8v.8h-.8zM260.2 240.4h.8v.8h-.8zM176.9 253.6h.8v.8h-.8zM244.0 223.6h.8v.8h-.8zM161.4 285.4h.8v.8h-.8zM219.1 197.6h.8v.8h-.8zM260.2 251.1h.8v.8h-.8zM247.0 228.8h.8v.8h-.8zM220.4 250.8h.8v.8h-.8zM203.1 291.7h.8v.8h-.8zM239.3 235.5h.8v.8h-.8zM162.4 286.7h.8v.8h-.8zM209.6 204.7h.8v.8h-.8zM246.1 249.1h.8v.8h-.8zM267.2 201.2h.8v.8h-.8zM247.4 256.2h.8v.8h-.8zM257.7 220.7h.8v.8h-.8zM243.6 222.2h.8v.8h-.8zM252.6 234.0h.8v.8h-.8zM247.6 249.3h.8v.8h-.8zM225.1 199.7h.8v.8h-.8zM240.5 197.9h.8v.8h-.8zM249.4 200.1h.8v.8h-.8zM239.2 249.1h.8v.8h-.8zM241.5 232.1h.8v.8h-.8zM254.7 229.9h.8v.8h-.8zM187.4 217.6h.8v.8h-.8zM220.9 289.3h.8v.8h-.8zM250.5 213.4h.8v.8h-.8zM247.4 252.5h.8v.8h-.8zM236.9 210.1h.8v.8h-.8zM240.2 233.5h.8v.8h-.8zM214.3 282.6h.8v.8h-.8zM252.2 215.2h.8v.8h-.8zM236.5 246.5h.8v.8h-.8zM234.7 267.6h.8v.8h-.8zM256.3 225.8h.8v.8h-.8zM232.5 275.7h.8v.8h-.8zM205.8 204.2h.8v.8h-.8zM191.7 286.1h.8v.8h-.8zM258.0 211.0h.8v.8h-.8zM241.5 245.7h.8v.8h-.8zM240.2 292.4h.8v.8h-.8zM238.3 255.9h.8v.8h-.8zM248.0 194.0h.8v.8h-.8zM220.1 252.5h.8v.8h-.8zM254.8 259.6h.8v.8h-.8zM213.9 278.2h.8v.8h-.8zM208.7 286.2h.8v.8h-.8zM212.8 294.9h.8v.8h-.8zM242.5 255.8h.8v.8h-.8zM238.8 230.4h.8v.8h-.8zM168.6 278.4h.8v.8h-.8zM165.7 263.4h.8v.8h-.8zM236.5 250.7h.8v.8h-.8zM177.8 244.9h.8v.8h-.8zM250.3 241.1h.8v.8h-.8zM194.3 213.6h.8v.8h-.8zM263.9 249.6h.8v.8h-.8zM235.2 251.8h.8v.8h-.8zM243.5 209.9h.8v.8h-.8zM164.9 287.7h.8v.8h-.8zM195.1 213.5h.8v.8h-.8zM251.9 263.1h.8v.8h-.8zM254.2 212.0h.8v.8h-.8zM257.6 241.3h.8v.8h-.8zM260.3 215.6h.8v.8h-.8zM173.3 255.7h.8v.8h-.8zM243.0 210.7h.8v.8h-.8zM184.6 262.5h.8v.8h-.8zM254.6 257.8h.8v.8h-.8zM246.4 208.9h.8v.8h-.8zM251.5 239.5h.8v.8h-.8zM249.0 245.2h.8v.8h-.8zM240.6 218.6h.8v.8h-.8zM190.8 292.2h.8v.8h-.8zM255.6 232.0h.8v.8h-.8zM173.0 289.4h.8v.8h-.8zM236.0 283.4h.8v.8h-.8zM247.7 198.2h.8v.8h-.8zM213.2 196.1h.8v.8h-.8zM243.4 218.2h.8v.8h-.8zM239.5 262.6h.8v.8h-.8zM235.8 218.8h.8v.8h-.8zM245.0 233.2h.8v.8h-.8zM163.4 243.2h.8v.8h-.8zM248.8 228.2h.8v.8h-.8zM255.0 257.5h.8v.8h-.8zM242.6 258.2h.8v.8h-.8zM186.4 260.0h.8v.8h-.8zM236.6 268.2h.8v.8h-.8zM208.0 204.5h.8v.8h-.8zM231.5 196.3h.8v.8h-.8zM247.4 207.6h.8v.8h-.8zM248.2 213.4h.8v.8h-.8zM256.6 237.7h.8v.8h-.8zM229.9 199.6h.8v.8h-.8zM256.0 228.9h.8v.8h-.8zM242.7 252.3h.8v.8h-.8zM236.7 209.1h.8v.8h-.8zM236.3 253.3h.8v.8h-.8zM250.3 256.7h.8v.8h-.8zM241.8 233.8h.8v.8h-.8zM252.6 224.1h.8v.8h-.8zM182.8 208.5h.8v.8h-.8zM251.1 206.1h.8v.8h-.8zM251.0 251.0h.8v.8h-.8zM237.7 265.2h.8v.8h-.8zM232.7 259.4h.8v.8h-.8zM177.5 234.7h.8v.8h-.8zM237.2 223.7h.8v.8h-.8zM199.2 297.2h.8v.8h-.8zM215.2 253.0h.8v.8h-.8zM235.5 234.1h.8v.8h-.8zM233.2 200.9h.8v.8h-.8zM236.3 234.1h.8v.8h-.8zM251.7 248.9h.8v.8h-.8zM248.6 248.6h.8v.8h-.8zM249.9 229.9h.8v.8h-.8zM197.3 288.6h.8v.8h-.8zM175.3 248.7h.8v.8h-.8zM229.4 286.0h.8v.8h-.8zM248.6 234.8h.8v.8h-.8zM173.6 262.2h.8v.8h-.8zM166.2 201.3h.8v.8h-.8zM236.0 244.9h.8v.8h-.8zM246.7 218.3h.8v.8h-.8zM250.5 195.3h.8v.8h-.8zM166.3 289.9h.8v.8h-.8zM243.3 234.7h.8v.8h-.8zM172.4 243.1h.8v.8h-.8zM247.4 243.4h.8v.8h-.8zM238.5 232.5h.8v.8h-.8zM206.0 206.8h.8v.8h-.8zM249.6 233.8h.8v.8h-.8zM236.2 266.0h.8v.8h-.8zM170.0 289.5h.8v.8h-.8zM257.5 260.8h.8v.8h-.8zM239.5 210.7h.8v.8h-.8zM255.4 218.9h.8v.8h-.8zM221.5 197.2h.8v.8h-.8zM254.8 235.2h.8v.8h-.8zM260.8 218.2h.8v.8h-.8zM222.9 250.5h.8v.8h-.8zM247.3 247.4h.8v.8h-.8zM177.2 224.6h.8v.8h-.8zM253.8 212.0h.8v.8h-.8zM235.8 252.6h.8v.8h-.8zM234.9 208.8h.8v.8h-.8zM236.8 207.4h.8v.8h-.8zM203.8 283.6h.8v.8h-.8zM249.5 221.7h.8v.8h-.8zM233.1 251.3h.8v.8h-.8zM240.7 230.1h.8v.8h-.8zM265.8 233.7h.8v.8h-.8zM240.8 256.2h.8v.8h-.8zM247.9 197.8h.8v.8h-.8zM202.8 282.2h.8v.8h-.8zM255.5 234.5h.8v.8h-.8zM247.8 212.5h.8v.8h-.8zM259.0 220.0h.8v.8h-.8zM230.6 245.7h.8v.8h-.8zM247.3 249.1h.8v.8h-.8zM213.6 202.1h.8v.8h-.8zM255.1 213.9h.8v.8h-.8zM219.6 285.1h.8v.8h-.8zM176.2 260.7h.8v.8h-.8zM182.8 290.4h.8v.8h-.8zM234.2 241.6h.8v.8h-.8zM238.7 263.7h.8v.8h-.8zM254.9 204.6h.8v.8h-.8zM232.1 264.9h.8v.8h-.8zM238.0 263.3h.8v.8h-.8zM235.8 217.8h.8v.8h-.8zM177.9 261.0h.8v.8h-.8zM248.5 259.1h.8v.8h-.8zM234.3 203.1h.8v.8h-.8zM201.1 256.1h.8v.8h-.8zM259.6 211.6h.8v.8h-.8zM259.4 202.4h.8v.8h-.8zM228.9 274.3h.8v.8h-.8zM169.0 254.5h.8v.8h-.8zM202.0 255.6h.8v.8h-.8zM235.7 224.5h.8v.8h-.8zM260.8 227.4h.8v.8h-.8zM200.1 208.1h.8v.8h-.8zM234.8 207.0h.8v.8h-.8zM217.8 252.5h.8v.8h-.8zM241.8 231.1h.8v.8h-.8zM240.0 242.2h.8v.8h-.8zM247.6 244.8h.8v.8h-.8zM241.8 211.0h.8v.8h-.8zM236.5 229.2h.8v.8h-.8zM213.6 200.0h.8v.8h-.8zM236.2 199.0h.8v.8h-.8zM240.4 267.1h.8v.8h-.8zM240.5 250.0h.8v.8h-.8zM246.0 217.4h.8v.8h-.8zM219.6 284.0h.8v.8h-.8zM243.7 268.6h.8v.8h-.8zM198.4 286.5h.8v.8h-.8zM239.7 230.9h.8v.8h-.8zM243.7 210.0h.8v.8h-.8zM256.1 222.9h.8v.8h-.8zM237.6 268.5h.8v.8h-.8zM235.5 235.7h.8v.8h-.8zM224.6 273.2h.8v.8h-.8zM239.2 251.7h.8v.8h-.8zM243.0 251.7h.8v.8h-.8zM260.7 256.9h.8v.8h-.8zM245.3 212.7h.8v.8h-.8zM256.0 234.9h.8v.8h-.8zM204.6 194.4h.8v.8h-.8zM235.3 229.3h.8v.8h-.8zM174.9 254.6h.8v.8h-.8zM248.0 219.9h.8v.8h-.8zM248.9 202.9h.8v.8h-.8zM233.5 208.1h.8v.8h-.8zM237.3 215.6h.8v.8h-.8zM243.8 269.3h.8v.8h-.8zM236.3 233.6h.8v.8h-.8zM163.3 220.7h.8v.8h-.8zM205.6 281.5h.8v.8h-.8zM262.9 206.4h.8v.8h-.8zM206.0 202.1h.8v.8h-.8zM236.8 233.6h.8v.8h-.8zM174.0 236.0h.8v.8h-.8zM175.1 265.7h.8v.8h-.8zM250.6 201.9h.8v.8h-.8zM254.4 227.0h.8v.8h-.8zM259.5 232.9h.8v.8h-.8zM236.8 233.3h.8v.8h-.8zM250.4 222.1h.8v.8h-.8zM238.8 253.5h.8v.8h-.8zM218.3 274.6h.8v.8h-.8zM235.3 211.6h.8v.8h-.8zM197.8 194.0h.8v.8h-.8zM255.5 224.1h.8v.8h-.8zM260.9 257.3h.8v.8h-.8zM250.5 216.9h.8v.8h-.8zM246.7 205.7h.8v.8h-.8zM238.2 222.6h.8v.8h-.8zM259.0 224.6h.8v.8h-.8zM250.3 238.1h.8v.8h-.8zM201.4 289.4h.8v.8h-.8zM234.8 213.1h.8v.8h-.8zM254.0 216.7h.8v.8h-.8zM235.6 271.7h.8v.8h-.8zM247.2 233.2h.8v.8h-.8zM239.8 204.1h.8v.8h-.8zM243.7 244.2h.8v.8h-.8zM261.1 218.3h.8v.8h-.8zM165.7 249.2h.8v.8h-.8zM262.0 205.4h.8v.8h-.8zM208.1 254.2h.8v.8h-.8zM252.8 242.9h.8v.8h-.8zM168.5 270.8h.8v.8h-.8zM250.5 251.4h.8v.8h-.8zM250.0 238.5h.8v.8h-.8zM242.5 209.3h.8v.8h-.8zM233.6 239.9h.8v.8h-.8zM173.9 263.4h.8v.8h-.8zM266.7 217.8h.8v.8h-.8zM237.8 238.0h.8v.8h-.8zM252.7 255.1h.8v.8h-.8zM248.5 244.0h.8v.8h-.8zM248.2 260.8h.8v.8h-.8zM221.2 196.2h.8v.8h-.8zM242.6 223.3h.8v.8h-.8zM235.4 243.1h.8v.8h-.8zM201.2 288.4h.8v.8h-.8zM255.3 248.1h.8v.8h-.8zM253.9 218.0h.8v.8h-.8zM233.4 249.1h.8v.8h-.8zM248.8 218.2h.8v.8h-.8zM248.8 206.4h.8v.8h-.8zM239.5 216.6h.8v.8h-.8zM177.4 238.7h.8v.8h-.8zM239.4 214.1h.8v.8h-.8zM209.8 201.2h.8v.8h-.8zM242.1 253.9h.8v.8h-.8zM217.3 198.6h.8v.8h-.8zM239.8 222.8h.8v.8h-.8zM221.5 195.9h.8v.8h-.8zM211.7 299.3h.8v.8h-.8zM165.5 271.2h.8v.8h-.8zM193.0 290.8h.8v.8h-.8zM207.2 283.9h.8v.8h-.8zM231.1 287.9h.8v.8h-.8zM233.4 249.1h.8v.8h-.8zM251.5 223.8h.8v.8h-.8zM247.2 199.7h.8v.8h-.8zM175.7 222.3h.8v.8h-.8zM251.2 203.7h.8v.8h-.8zM211.5 255.3h.8v.8h-.8zM247.7 204.4h.8v.8h-.8zM241.4 217.8h.8v.8h-.8zM222.1 275.2h.8v.8h-.8zM219.8 278.2h.8v.8h-.8zM240.8 209.2h.8v.8h-.8zM206.6 256.2h.8v.8h-.8zM261.1 257.0h.8v.8h-.8zM243.5 209.3h.8v.8h-.8zM266.3 219.2h.8v.8h-.8zM248.4 246.2h.8v.8h-.8zM245.3 238.0h.8v.8h-.8zM266.8 228.6h.8v.8h-.8zM238.3 208.6h.8v.8h-.8zM165.6 228.8h.8v.8h-.8zM178.1 224.8h.8v.8h-.8zM236.1 197.7h.8v.8h-.8zM244.9 255.6h.8v.8h-.8zM238.8 194.1h.8v.8h-.8zM252.4 253.2h.8v.8h-.8zM230.9 197.7h.8v.8h-.8zM246.3 222.4h.8v.8h-.8zM227.3 274.2h.8v.8h-.8zM254.5 214.7h.8v.8h-.8zM164.3 291.6h.8v.8h-.8zM237.8 251.8h.8v.8h-.8zM241.8 236.4h.8v.8h-.8zM260.5 241.0h.8v.8h-.8zM188.1 217.3h.8v.8h-.8zM200.4 285.5h.8v.8h-.8zM223.7 248.5h.8v.8h-.8zM241.8 212.2h.8v.8h-.8zM242.0 202.0h.8v.8h-.8zM235.1 261.5h.8v.8h-.8zM161.9 287.9h.8v.8h-.8zM262.1 214.8h.8v.8h-.8zM249.4 227.2h.8v.8h-.8zM222.6 250.8h.8v.8h-.8zM262.1 221.3h.8v.8h-.8zM170.1 260.4h.8v.8h-.8zM240.5 213.0h.8v.8h-.8zM177.1 216.3h.8v.8h-.8zM240.4 223.2h.8v.8h-.8zM223.5 300.3h.8v.8h-.8zM237.4 237.5h.8v.8h-.8zM238.4 260.0h.8v.8h-.8zM191.9 287.6h.8v.8h-.8zM240.4 246.2h.8v.8h-.8zM254.3 214.7h.8v.8h-.8zM212.0 288.3h.8v.8h-.8zM239.7 212.5h.8v.8h-.8zM263.6 209.6h.8v.8h-.8zM247.8 229.8h.8v.8h-.8zM256.9 237.8h.8v.8h-.8zM217.3 254.8h.8v.8h-.8zM230.1 269.5h.8v.8h-.8zM259.1 220.4h.8v.8h-.8zM227.9 196.6h.8v.8h-.8zM261.2 254.2h.8v.8h-.8zM245.4 205.7h.8v.8h-.8zM257.6 198.6h.8v.8h-.8zM188.9 289.2h.8v.8h-.8zM251.3 240.8h.8v.8h-.8zM239.7 218.0h.8v.8h-.8zM178.0 225.1h.8v.8h-.8zM214.6 286.5h.8v.8h-.8zM251.9 196.5h.8v.8h-.8zM251.7 201.8h.8v.8h-.8zM170.9 291.6h.8v.8h-.8zM235.8 252.3h.8v.8h-.8zM239.5 260.7h.8v.8h-.8zM165.3 289.1h.8v.8h-.8zM178.3 253.4h.8v.8h-.8zM255.5 249.9h.8v.8h-.8zM258.8 261.1h.8v.8h-.8zM243.6 206.4h.8v.8h-.8zM174.8 246.1h.8v.8h-.8zM233.5 238.3h.8v.8h-.8zM202.9 257.5h.8v.8h-.8zM248.3 193.5h.8v.8h-.8zM234.1 237.2h.8v.8h-.8zM241.1 219.4h.8v.8h-.8zM237.7 263.6h.8v.8h-.8zM181.7 261.4h.8v.8h-.8zM165.7 259.7h.8v.8h-.8zM175.2 264.5h.8v.8h-.8zM255.2 198.6h.8v.8h-.8zM249.0 233.4h.8v.8h-.8zM248.6 207.8h.8v.8h-.8zM232.8 256.2h.8v.8h-.8zM235.5 211.3h.8v.8h-.8zM238.0 206.1h.8v.8h-.8zM189.2 298.3h.8v.8h-.8zM253.8 199.2h.8v.8h-.8zM167.7 216.1h.8v.8h-.8zM240.9 223.4h.8v.8h-.8zM239.7 214.9h.8v.8h-.8zM260.7 242.1h.8v.8h-.8zM236.0 268.5h.8v.8h-.8zM240.9 256.5h.8v.8h-.8zM213.4 277.5h.8v.8h-.8zM231.2 198.3h.8v.8h-.8zM266.4 205.7h.8v.8h-.8zM253.9 224.0h.8v.8h-.8zM242.3 259.1h.8v.8h-.8zM215.8 196.1h.8v.8h-.8zM242.6 204.3h.8v.8h-.8zM237.0 227.4h.8v.8h-.8zM233.7 224.3h.8v.8h-.8zM251.9 213.8h.8v.8h-.8zM164.0 298.0h.8v.8h-.8zM254.0 240.8h.8v.8h-.8zM257.1 225.7h.8v.8h-.8zM217.2 275.4h.8v.8h-.8zM252.4 225.7h.8v.8h-.8zM258.9 256.3h.8v.8h-.8zM258.8 221.8h.8v.8h-.8zM180.2 265.2h.8v.8h-.8zM238.2 239.3h.8v.8h-.8zM232.9 258.6h.8v.8h-.8zM238.1 271.2h.8v.8h-.8zM247.1 252.1h.8v.8h-.8zM260.3 193.3h.8v.8h-.8zM237.7 223.6h.8v.8h-.8zM178.0 215.1h.8v.8h-.8zM232.3 258.0h.8v.8h-.8zM248.4 250.9h.8v.8h-.8zM238.3 197.2h.8v.8h-.8zM238.6 203.4h.8v.8h-.8zM235.1 264.4h.8v.8h-.8zM170.2 245.3h.8v.8h-.8zM257.8 222.4h.8v.8h-.8zM228.9 246.3h.8v.8h-.8zM181.2 219.9h.8v.8h-.8zM237.8 242.3h.8v.8h-.8zM256.8 220.1h.8v.8h-.8zM233.7 231.5h.8v.8h-.8zM231.6 284.4h.8v.8h-.8zM253.3 224.8h.8v.8h-.8zM168.1 277.2h.8v.8h-.8zM180.1 220.3h.8v.8h-.8zM245.0 243.1h.8v.8h-.8zM241.0 253.2h.8v.8h-.8zM252.1 224.8h.8v.8h-.8zM246.9 253.6h.8v.8h-.8zM175.7 260.4h.8v.8h-.8zM168.0 285.9h.8v.8h-.8zM264.6 202.0h.8v.8h-.8zM257.4 232.7h.8v.8h-.8zM247.9 222.4h.8v.8h-.8zM254.6 246.2h.8v.8h-.8zM238.2 230.0h.8v.8h-.8zM164.5 283.3h.8v.8h-.8zM244.6 261.4h.8v.8h-.8zM171.6 268.7h.8v.8h-.8zM239.2 233.6h.8v.8h-.8zM174.9 253.5h.8v.8h-.8zM236.8 264.0h.8v.8h-.8zM166.6 285.2h.8v.8h-.8zM245.5 250.5h.8v.8h-.8zM234.4 241.7h.8v.8h-.8zM241.4 259.9h.8v.8h-.8zM258.3 236.7h.8v.8h-.8zM252.1 213.9h.8v.8h-.8zM185.9 297.0h.8v.8h-.8zM253.1 244.2h.8v.8h-.8zM257.3 225.5h.8v.8h-.8zM253.5 220.5h.8v.8h-.8zM234.3 231.1h.8v.8h-.8zM237.1 226.3h.8v.8h-.8zM234.7 219.4h.8v.8h-.8zM247.6 274.1h.8v.8h-.8zM207.3 257.4h.8v.8h-.8zM244.2 196.5h.8v.8h-.8zM222.7 273.6h.8v.8h-.8zM162.4 247.6h.8v.8h-.8zM252.6 194.0h.8v.8h-.8zM250.5 245.7h.8v.8h-.8zM243.3 261.8h.8v.8h-.8zM242.3 244.2h.8v.8h-.8zM265.9 240.2h.8v.8h-.8zM245.4 223.9h.8v.8h-.8zM193.6 261.5h.8v.8h-.8zM245.1 244.6h.8v.8h-.8zM223.2 199.9h.8v.8h-.8zM231.8 271.4h.8v.8h-.8zM252.9 294.2h.8v.8h-.8zM233.8 243.8h.8v.8h-.8zM240.0 242.1h.8v.8h-.8zM189.2 296.4h.8v.8h-.8zM249.5 243.6h.8v.8h-.8zM240.0 227.0h.8v.8h-.8zM247.6 250.2h.8v.8h-.8zM244.4 254.6h.8v.8h-.8zM238.4 253.9h.8v.8h-.8zM255.0 202.8h.8v.8h-.8zM237.3 253.9h.8v.8h-.8zM236.3 251.5h.8v.8h-.8zM239.0 276.8h.8v.8h-.8zM252.0 240.9h.8v.8h-.8zM171.0 295.6h.8v.8h-.8zM210.7 203.4h.8v.8h-.8zM249.2 205.4h.8v.8h-.8zM238.4 213.7h.8v.8h-.8zM255.1 198.2h.8v.8h-.8zM234.5 243.4h.8v.8h-.8zM239.0 210.9h.8v.8h-.8zM235.2 263.5h.8v.8h-.8zM241.4 254.0h.8v.8h-.8zM165.3 249.2h.8v.8h-.8zM233.1 204.9h.8v.8h-.8zM178.2 219.6h.8v.8h-.8zM243.4 217.2h.8v.8h-.8zM223.8 199.0h.8v.8h-.8zM238.4 246.1h.8v.8h-.8zM236.8 241.1h.8v.8h-.8zM174.0 222.0h.8v.8h-.8zM243.8 248.0h.8v.8h-.8zM180.6 219.7h.8v.8h-.8zM247.0 212.9h.8v.8h-.8zM252.0 214.5h.8v.8h-.8zM234.0 200.8h.8v.8h-.8zM240.1 231.9h.8v.8h-.8zM249.9 215.6h.8v.8h-.8zM201.9 283.2h.8v.8h-.8zM254.3 193.4h.8v.8h-.8zM255.6 233.8h.8v.8h-.8zM198.1 287.1h.8v.8h-.8zM244.9 196.1h.8v.8h-.8zM242.3 200.0h.8v.8h-.8zM233.6 201.5h.8v.8h-.8zM200.2 206.6h.8v.8h-.8zM245.2 246.9h.8v.8h-.8zM238.0 229.4h.8v.8h-.8zM237.4 208.6h.8v.8h-.8zM234.5 253.9h.8v.8h-.8zM245.5 229.4h.8v.8h-.8zM234.9 244.5h.8v.8h-.8zM250.1 218.3h.8v.8h-.8zM241.6 262.9h.8v.8h-.8zM242.8 234.9h.8v.8h-.8zM188.9 261.1h.8v.8h-.8zM210.0 202.4h.8v.8h-.8zM239.6 199.1h.8v.8h-.8zM172.6 240.9h.8v.8h-.8zM165.9 290.6h.8v.8h-.8zM174.4 293.4h.8v.8h-.8zM240.6 244.0h.8v.8h-.8zM253.7 237.6h.8v.8h-.8zM256.2 226.3h.8v.8h-.8zM254.0 209.1h.8v.8h-.8zM220.6 285.2h.8v.8h-.8zM213.9 254.5h.8v.8h-.8zM238.7 255.5h.8v.8h-.8zM254.8 224.7h.8v.8h-.8zM249.6 239.2h.8v.8h-.8zM264.6 196.5h.8v.8h-.8zM246.6 222.9h.8v.8h-.8zM240.2 207.6h.8v.8h-.8zM246.6 210.3h.8v.8h-.8zM234.0 218.1h.8v.8h-.8zM258.5 210.6h.8v.8h-.8zM162.0 282.9h.8v.8h-.8zM238.3 262.2h.8v.8h-.8zM257.3 228.2h.8v.8h-.8zM219.5 277.5h.8v.8h-.8zM253.2 219.5h.8v.8h-.8zM234.9 212.0h.8v.8h-.8zM248.7 227.4h.8v.8h-.8zM252.5 240.6h.8v.8h-.8zM174.0 253.4h.8v.8h-.8zM231.6 194.6h.8v.8h-.8zM237.4 259.3h.8v.8h-.8zM215.6 280.7h.8v.8h-.8zM225.2 252.4h.8v.8h-.8zM235.6 225.4h.8v.8h-.8zM177.2 251.4h.8v.8h-.8zM166.9 278.5h.8v.8h-.8zM259.7 202.8h.8v.8h-.8zM235.3 244.8h.8v.8h-.8zM245.5 215.0h.8v.8h-.8zM257.4 214.3h.8v.8h-.8zM189.9 216.6h.8v.8h-.8zM241.5 256.2h.8v.8h-.8zM188.6 296.6h.8v.8h-.8zM234.6 211.7h.8v.8h-.8zM233.8 216.4h.8v.8h-.8zM247.8 201.1h.8v.8h-.8zM246.6 220.2h.8v.8h-.8zM188.9 215.7h.8v.8h-.8zM250.9 233.1h.8v.8h-.8zM239.1 226.4h.8v.8h-.8zM261.5 214.7h.8v.8h-.8zM215.0 204.2h.8v.8h-.8zM167.9 289.9h.8v.8h-.8zM242.6 262.0h.8v.8h-.8zM188.3 217.2h.8v.8h-.8zM235.2 256.6h.8v.8h-.8zM243.5 258.9h.8v.8h-.8zM265.2 200.9h.8v.8h-.8zM223.7 273.4h.8v.8h-.8zM198.6 287.3h.8v.8h-.8zM232.0 207.4h.8v.8h-.8zM178.1 234.1h.8v.8h-.8zM254.3 209.2h.8v.8h-.8zM240.6 249.8h.8v.8h-.8zM248.8 209.2h.8v.8h-.8zM249.6 252.1h.8v.8h-.8zM242.3 255.5h.8v.8h-.8zM162.4 276.9h.8v.8h-.8zM253.1 257.0h.8v.8h-.8zM241.5 239.3h.8v.8h-.8zM239.1 231.9h.8v.8h-.8zM227.3 293.5h.8v.8h-.8zM188.3 261.0h.8v.8h-.8zM164.9 253.9h.8v.8h-.8zM252.5 238.2h.8v.8h-.8zM241.3 223.3h.8v.8h-.8zM256.3 205.0h.8v.8h-.8zM251.2 237.4h.8v.8h-.8zM262.1 234.1h.8v.8h-.8zM253.1 208.9h.8v.8h-.8zM210.4 196.0h.8v.8h-.8zM241.2 258.3h.8v.8h-.8zM237.0 249.3h.8v.8h-.8zM188.0 217.6h.8v.8h-.8zM251.6 223.6h.8v.8h-.8zM247.0 210.5h.8v.8h-.8zM263.9 201.9h.8v.8h-.8zM171.3 242.2h.8v.8h-.8zM262.7 226.8h.8v.8h-.8zM249.0 247.0h.8v.8h-.8zM241.9 221.8h.8v.8h-.8zM251.0 213.6h.8v.8h-.8zM172.0 240.8h.8v.8h-.8zM233.7 196.3h.8v.8h-.8zM242.8 218.6h.8v.8h-.8zM249.7 224.1h.8v.8h-.8zM243.1 229.4h.8v.8h-.8zM220.5 198.1h.8v.8h-.8zM233.3 261.4h.8v.8h-.8zM201.4 210.5h.8v.8h-.8zM239.7 212.4h.8v.8h-.8zM253.2 199.9h.8v.8h-.8zM195.2 284.8h.8v.8h-.8zM218.9 280.2h.8v.8h-.8zM209.1 204.8h.8v.8h-.8zM246.8 207.6h.8v.8h-.8zM186.0 260.3h.8v.8h-.8zM175.1 292.6h.8v.8h-.8zM181.9 263.4h.8v.8h-.8zM174.3 233.9h.8v.8h-.8zM241.6 222.1h.8v.8h-.8zM195.8 260.1h.8v.8h-.8zM228.6 196.9h.8v.8h-.8zM255.0 248.0h.8v.8h-.8zM194.7 286.2h.8v.8h-.8zM235.0 261.3h.8v.8h-.8zM242.4 235.5h.8v.8h-.8zM166.4 229.5h.8v.8h-.8zM261.0 252.3h.8v.8h-.8z"/>
<polygon points="178.5,222.5 223.1,200.1 253.2,198.4 256.8,237.0 178.5,262.3" fill="none" stroke="#111" stroke-width="1"/>
<polygon points="167.6,289.3 172.5,267.1 194.2,262.3 189.3,286.4" fill="#585858" stroke="#111" stroke-width="0.9"/>
<polygon points="189.3,286.4 194.2,262.3 212.2,257.5 207.4,280.4" fill="#585858" stroke="#111" stroke-width="0.9"/>
<polygon points="207.4,280.4 212.2,257.5 231.5,250.3 227.9,269.5" fill="#585858" stroke="#111" stroke-width="0.9"/>
<polygon points="227.9,269.5 231.5,250.3 250.8,241.8 247.2,262.3" fill="url(#g16)" stroke="#111" stroke-width="0.9"/>
<line x1="194.2" y1="262.3" x2="189.3" y2="286.4" stroke="#000" stroke-width="1.7"/>
<line x1="212.2" y1="257.5" x2="207.4" y2="280.4" stroke="#000" stroke-width="1.7"/>
<line x1="231.5" y1="250.3" x2="227.9" y2="269.5" stroke="#000" stroke-width="1.7"/>
</g>
<text x="232.7" y="272.2" font-size="7.2" text-anchor="start" font-weight="bold" fill="#262626" >16N (1.25%)</text>
<text x="213.4" y="281.4" font-size="7.2" text-anchor="start" font-weight="bold" fill="#262626" >8N (11.5%)</text>
<text x="195.4" y="291.0" font-size="7.2" text-anchor="start" font-weight="bold" fill="#262626" >4N (26.6%)</text>
<text x="172.5" y="298.7" font-size="7.2" text-anchor="start" font-weight="bold" fill="#262626" >2N (12.1%)</text>
<rect x="159.6" y="192.5" width="109.1" height="109.30000000000001" fill="none" stroke="#222" stroke-width="0.9"/>
<text x="161.1" y="200.9" font-size="9.9" text-anchor="start" font-weight="bold" fill="#111" >S-phase</text>
<text x="166.5" y="212.5" font-size="9.9" text-anchor="start" font-weight="bold" fill="#111" >45.5%</text>
<line x1="156.2" y1="287.3" x2="159.6" y2="287.3" stroke="#111" stroke-width="1.2"/>
<line x1="156.2" y1="257.0" x2="159.6" y2="257.0" stroke="#111" stroke-width="1.2"/>
<line x1="156.2" y1="228.9" x2="159.6" y2="228.9" stroke="#111" stroke-width="1.2"/>
<line x1="156.2" y1="198.5" x2="159.6" y2="198.5" stroke="#111" stroke-width="1.2"/>
<line x1="157.8" y1="278.2" x2="159.6" y2="278.2" stroke="#333" stroke-width="0.5"/>
<line x1="157.8" y1="272.8" x2="159.6" y2="272.8" stroke="#333" stroke-width="0.5"/>
<line x1="157.8" y1="269.1" x2="159.6" y2="269.1" stroke="#333" stroke-width="0.5"/>
<line x1="157.8" y1="266.1" x2="159.6" y2="266.1" stroke="#333" stroke-width="0.5"/>
<line x1="157.8" y1="263.7" x2="159.6" y2="263.7" stroke="#333" stroke-width="0.5"/>
<line x1="157.8" y1="261.7" x2="159.6" y2="261.7" stroke="#333" stroke-width="0.5"/>
<line x1="157.8" y1="259.9" x2="159.6" y2="259.9" stroke="#333" stroke-width="0.5"/>
<line x1="157.8" y1="258.4" x2="159.6" y2="258.4" stroke="#333" stroke-width="0.5"/>
<line x1="157.8" y1="248.5" x2="159.6" y2="248.5" stroke="#333" stroke-width="0.5"/>
<line x1="157.8" y1="243.6" x2="159.6" y2="243.6" stroke="#333" stroke-width="0.5"/>
<line x1="157.8" y1="240.1" x2="159.6" y2="240.1" stroke="#333" stroke-width="0.5"/>
<line x1="157.8" y1="237.4" x2="159.6" y2="237.4" stroke="#333" stroke-width="0.5"/>
<line x1="157.8" y1="235.1" x2="159.6" y2="235.1" stroke="#333" stroke-width="0.5"/>
<line x1="157.8" y1="233.3" x2="159.6" y2="233.3" stroke="#333" stroke-width="0.5"/>
<line x1="157.8" y1="231.6" x2="159.6" y2="231.6" stroke="#333" stroke-width="0.5"/>
<line x1="157.8" y1="230.2" x2="159.6" y2="230.2" stroke="#333" stroke-width="0.5"/>
<line x1="157.8" y1="219.7" x2="159.6" y2="219.7" stroke="#333" stroke-width="0.5"/>
<line x1="157.8" y1="214.4" x2="159.6" y2="214.4" stroke="#333" stroke-width="0.5"/>
<line x1="157.8" y1="210.6" x2="159.6" y2="210.6" stroke="#333" stroke-width="0.5"/>
<line x1="157.8" y1="207.7" x2="159.6" y2="207.7" stroke="#333" stroke-width="0.5"/>
<line x1="157.8" y1="205.2" x2="159.6" y2="205.2" stroke="#333" stroke-width="0.5"/>
<line x1="157.8" y1="203.2" x2="159.6" y2="203.2" stroke="#333" stroke-width="0.5"/>
<line x1="157.8" y1="201.4" x2="159.6" y2="201.4" stroke="#333" stroke-width="0.5"/>
<line x1="157.8" y1="199.9" x2="159.6" y2="199.9" stroke="#333" stroke-width="0.5"/>
<line x1="159.5" y1="301.8" x2="159.5" y2="304.8" stroke="#111" stroke-width="1.1"/>
<line x1="222.0" y1="301.8" x2="222.0" y2="304.8" stroke="#111" stroke-width="1.1"/>
<line x1="178.3" y1="301.8" x2="178.3" y2="303.6" stroke="#333" stroke-width="0.55"/>
<line x1="189.3" y1="301.8" x2="189.3" y2="303.6" stroke="#333" stroke-width="0.55"/>
<line x1="197.1" y1="301.8" x2="197.1" y2="303.6" stroke="#333" stroke-width="0.55"/>
<line x1="203.2" y1="301.8" x2="203.2" y2="303.6" stroke="#333" stroke-width="0.55"/>
<line x1="208.1" y1="301.8" x2="208.1" y2="303.6" stroke="#333" stroke-width="0.55"/>
<line x1="212.3" y1="301.8" x2="212.3" y2="303.6" stroke="#333" stroke-width="0.55"/>
<line x1="215.9" y1="301.8" x2="215.9" y2="303.6" stroke="#333" stroke-width="0.55"/>
<line x1="219.1" y1="301.8" x2="219.1" y2="303.6" stroke="#333" stroke-width="0.55"/>
<line x1="240.8" y1="301.8" x2="240.8" y2="303.6" stroke="#333" stroke-width="0.55"/>
<line x1="251.8" y1="301.8" x2="251.8" y2="303.6" stroke="#333" stroke-width="0.55"/>
<line x1="259.6" y1="301.8" x2="259.6" y2="303.6" stroke="#333" stroke-width="0.55"/>
<line x1="265.7" y1="301.8" x2="265.7" y2="303.6" stroke="#333" stroke-width="0.55"/>
<clipPath id="bx_sg2"><rect x="272.2" y="192.5" width="110.40000000000003" height="109.30000000000001"/></clipPath><g clip-path="url(#bx_sg2)">
<polygon points="291.4,222.8 336.9,200.2 368.5,199.0 370.9,238.6 290.7,262.9" fill="#a8a8a8"/>
<clipPath id="c_sg2"><polygon points="291.4,222.8 336.9,200.2 368.5,199.0 370.9,238.6 290.7,262.9"/></clipPath><g clip-path="url(#c_sg2)">
<g filter="url(#blur3)"><ellipse cx="320" cy="235" rx="34" ry="26" fill="#7a7a7a"/></g>
<g filter="url(#blur1)" fill="#4e4e4e"><ellipse cx="303.8" cy="236" rx="8.5" ry="14"/><ellipse cx="323.8" cy="230" rx="10" ry="16"/><ellipse cx="341.4" cy="222" rx="9.5" ry="13"/><ellipse cx="314" cy="247" rx="13" ry="9"/><ellipse cx="334" cy="240" rx="9" ry="7"/><ellipse cx="296" cy="250" rx="5" ry="8"/></g>
<g fill="none" stroke="#f2f2f2" stroke-width="0.7" opacity="0.9"><path d="M356,207 C 362,204 366,206 362,212 C 358,218 356,226 355,234"/><path d="M353,208 C 358,205 362,208 359,213"/>
<path d="M292,252 C 296,249 300,250 302,254"/><path d="M292,256 C 297,252 302,253 305,258"/><path d="M340,236 C 344,233 348,234 350,237"/><path d="M339,240 C 344,237 349,238 352,241"/><path d="M338,244 C 344,241 350,242 354,245"/>
<path d="M313,240 C 313,246 312,252 313,258"/><path d="M332,235 C 331,241 331,247 332,252"/></g>
<g fill="#eee"><circle cx="324" cy="224" r="1.3"/><circle cx="342" cy="219" r="1.2"/><circle cx="306" cy="233" r="1.1"/></g>
</g>
<path fill="#6a6a6a" d="M329.1 276.1h.8v.8h-.8zM370.3 230.5h.8v.8h-.8zM369.5 233.1h.8v.8h-.8zM369.3 234.6h.8v.8h-.8zM288.0 290.1h.8v.8h-.8zM342.2 270.9h.8v.8h-.8zM363.2 259.4h.8v.8h-.8zM341.0 201.3h.8v.8h-.8zM377.9 251.7h.8v.8h-.8zM352.5 204.4h.8v.8h-.8zM374.8 223.6h.8v.8h-.8zM288.5 291.5h.8v.8h-.8zM355.1 223.5h.8v.8h-.8zM369.3 194.6h.8v.8h-.8zM279.5 232.1h.8v.8h-.8zM344.1 196.6h.8v.8h-.8zM354.0 262.7h.8v.8h-.8zM355.2 221.4h.8v.8h-.8zM358.8 210.1h.8v.8h-.8zM373.0 245.6h.8v.8h-.8zM281.7 275.5h.8v.8h-.8zM355.4 206.4h.8v.8h-.8zM362.7 228.8h.8v.8h-.8zM366.7 204.5h.8v.8h-.8zM355.5 213.0h.8v.8h-.8zM354.2 255.1h.8v.8h-.8zM369.0 254.6h.8v.8h-.8zM369.7 216.3h.8v.8h-.8zM288.5 266.1h.8v.8h-.8zM357.9 220.1h.8v.8h-.8zM352.7 259.2h.8v.8h-.8zM380.6 231.6h.8v.8h-.8zM290.2 236.6h.8v.8h-.8zM376.8 252.7h.8v.8h-.8zM348.4 273.7h.8v.8h-.8zM363.8 242.0h.8v.8h-.8zM315.9 259.6h.8v.8h-.8zM335.3 208.5h.8v.8h-.8zM362.7 212.0h.8v.8h-.8zM309.8 290.5h.8v.8h-.8zM326.3 196.7h.8v.8h-.8zM350.0 285.9h.8v.8h-.8zM338.9 200.3h.8v.8h-.8zM337.3 199.2h.8v.8h-.8zM314.4 207.1h.8v.8h-.8zM355.6 253.8h.8v.8h-.8zM293.8 216.8h.8v.8h-.8zM330.7 205.0h.8v.8h-.8zM350.8 207.2h.8v.8h-.8zM367.3 242.5h.8v.8h-.8zM357.6 217.1h.8v.8h-.8zM376.7 227.1h.8v.8h-.8zM354.2 270.4h.8v.8h-.8zM337.0 274.8h.8v.8h-.8zM284.4 214.3h.8v.8h-.8zM289.6 236.0h.8v.8h-.8zM366.9 226.5h.8v.8h-.8zM372.2 240.2h.8v.8h-.8zM289.8 241.6h.8v.8h-.8zM366.6 198.9h.8v.8h-.8zM300.8 216.6h.8v.8h-.8zM311.1 284.8h.8v.8h-.8zM299.3 261.9h.8v.8h-.8zM370.3 225.2h.8v.8h-.8zM356.0 249.0h.8v.8h-.8zM360.1 252.4h.8v.8h-.8zM354.5 219.4h.8v.8h-.8zM365.9 230.8h.8v.8h-.8zM279.1 247.9h.8v.8h-.8zM341.2 197.1h.8v.8h-.8zM345.4 197.0h.8v.8h-.8zM294.7 214.9h.8v.8h-.8zM342.1 276.9h.8v.8h-.8zM357.4 239.7h.8v.8h-.8zM303.1 259.4h.8v.8h-.8zM294.6 263.2h.8v.8h-.8zM292.3 291.5h.8v.8h-.8zM344.0 202.2h.8v.8h-.8zM374.6 205.7h.8v.8h-.8zM373.7 213.5h.8v.8h-.8zM373.4 237.7h.8v.8h-.8zM376.5 198.1h.8v.8h-.8zM350.1 274.4h.8v.8h-.8zM362.6 264.6h.8v.8h-.8zM308.5 259.2h.8v.8h-.8zM353.1 256.8h.8v.8h-.8zM356.0 251.1h.8v.8h-.8zM347.9 202.1h.8v.8h-.8zM337.0 199.1h.8v.8h-.8zM352.7 261.6h.8v.8h-.8zM363.8 255.2h.8v.8h-.8zM342.5 247.7h.8v.8h-.8zM318.5 203.2h.8v.8h-.8zM355.8 207.5h.8v.8h-.8zM362.9 251.0h.8v.8h-.8zM286.8 267.0h.8v.8h-.8zM372.5 211.2h.8v.8h-.8zM364.7 217.0h.8v.8h-.8zM359.4 244.0h.8v.8h-.8zM277.9 294.6h.8v.8h-.8zM353.1 244.2h.8v.8h-.8zM372.2 255.9h.8v.8h-.8zM311.9 283.2h.8v.8h-.8zM367.7 223.0h.8v.8h-.8zM364.1 246.1h.8v.8h-.8zM336.3 206.2h.8v.8h-.8zM379.1 230.6h.8v.8h-.8zM365.1 228.4h.8v.8h-.8zM365.7 214.7h.8v.8h-.8zM372.7 200.4h.8v.8h-.8zM340.6 207.7h.8v.8h-.8zM332.1 205.0h.8v.8h-.8zM363.5 245.1h.8v.8h-.8zM282.1 297.5h.8v.8h-.8zM358.2 250.9h.8v.8h-.8zM360.7 236.1h.8v.8h-.8zM359.4 268.4h.8v.8h-.8zM345.1 270.9h.8v.8h-.8zM361.2 218.2h.8v.8h-.8zM290.0 225.0h.8v.8h-.8zM368.8 211.8h.8v.8h-.8zM354.8 261.2h.8v.8h-.8zM336.2 207.3h.8v.8h-.8zM357.3 210.8h.8v.8h-.8zM353.1 225.1h.8v.8h-.8zM358.7 232.1h.8v.8h-.8zM344.3 288.4h.8v.8h-.8zM284.3 271.5h.8v.8h-.8zM288.0 263.1h.8v.8h-.8zM323.9 207.2h.8v.8h-.8zM358.0 263.9h.8v.8h-.8zM322.8 207.9h.8v.8h-.8zM290.5 293.7h.8v.8h-.8zM306.1 286.7h.8v.8h-.8zM355.0 252.4h.8v.8h-.8zM378.2 212.2h.8v.8h-.8zM298.2 261.1h.8v.8h-.8zM287.9 267.4h.8v.8h-.8zM359.6 249.4h.8v.8h-.8zM280.4 294.7h.8v.8h-.8zM336.5 207.4h.8v.8h-.8zM360.1 217.8h.8v.8h-.8zM290.2 292.6h.8v.8h-.8zM282.5 288.6h.8v.8h-.8zM359.1 196.7h.8v.8h-.8zM358.5 240.5h.8v.8h-.8zM368.0 220.5h.8v.8h-.8zM362.1 230.2h.8v.8h-.8zM357.3 248.7h.8v.8h-.8zM359.0 207.4h.8v.8h-.8zM355.1 224.2h.8v.8h-.8zM327.6 287.0h.8v.8h-.8zM372.4 197.5h.8v.8h-.8zM287.2 222.2h.8v.8h-.8zM303.7 291.2h.8v.8h-.8zM282.4 277.1h.8v.8h-.8zM305.6 262.1h.8v.8h-.8zM283.5 274.2h.8v.8h-.8zM370.5 240.8h.8v.8h-.8zM316.6 257.7h.8v.8h-.8zM378.1 234.0h.8v.8h-.8zM275.0 241.3h.8v.8h-.8zM353.0 222.7h.8v.8h-.8zM292.6 219.2h.8v.8h-.8zM284.2 252.4h.8v.8h-.8zM277.0 285.3h.8v.8h-.8zM318.1 291.7h.8v.8h-.8zM334.3 207.3h.8v.8h-.8zM369.6 260.2h.8v.8h-.8zM333.2 274.4h.8v.8h-.8zM294.3 221.0h.8v.8h-.8zM362.7 238.9h.8v.8h-.8zM317.2 208.1h.8v.8h-.8zM333.3 198.8h.8v.8h-.8zM359.2 244.2h.8v.8h-.8zM364.4 230.6h.8v.8h-.8zM339.8 202.1h.8v.8h-.8zM276.2 297.6h.8v.8h-.8zM274.4 256.5h.8v.8h-.8zM361.5 218.5h.8v.8h-.8zM285.9 270.9h.8v.8h-.8zM321.1 281.0h.8v.8h-.8zM354.0 203.6h.8v.8h-.8zM377.5 195.4h.8v.8h-.8zM287.0 239.5h.8v.8h-.8zM372.2 204.1h.8v.8h-.8zM278.4 286.9h.8v.8h-.8zM356.2 257.1h.8v.8h-.8zM319.8 280.9h.8v.8h-.8zM380.6 217.0h.8v.8h-.8zM356.7 201.3h.8v.8h-.8zM345.7 278.6h.8v.8h-.8zM365.5 226.8h.8v.8h-.8zM345.5 204.0h.8v.8h-.8zM330.5 279.8h.8v.8h-.8zM358.2 245.6h.8v.8h-.8zM282.1 289.0h.8v.8h-.8zM322.3 205.0h.8v.8h-.8zM368.0 232.3h.8v.8h-.8zM364.2 203.3h.8v.8h-.8zM366.1 214.8h.8v.8h-.8zM340.5 202.2h.8v.8h-.8zM360.1 220.8h.8v.8h-.8zM348.0 200.4h.8v.8h-.8zM341.1 209.9h.8v.8h-.8zM288.7 229.0h.8v.8h-.8zM361.0 201.6h.8v.8h-.8zM323.4 207.1h.8v.8h-.8zM370.8 218.3h.8v.8h-.8zM353.9 248.0h.8v.8h-.8zM379.9 292.8h.8v.8h-.8zM373.9 203.0h.8v.8h-.8zM361.9 198.3h.8v.8h-.8zM277.8 269.7h.8v.8h-.8zM368.7 235.8h.8v.8h-.8zM284.6 270.4h.8v.8h-.8zM355.8 205.3h.8v.8h-.8zM379.8 237.8h.8v.8h-.8zM321.4 255.6h.8v.8h-.8zM346.2 203.4h.8v.8h-.8zM329.5 204.5h.8v.8h-.8zM311.1 259.8h.8v.8h-.8zM372.3 246.5h.8v.8h-.8zM338.5 201.3h.8v.8h-.8zM372.9 258.0h.8v.8h-.8zM336.3 275.0h.8v.8h-.8zM303.1 215.3h.8v.8h-.8zM354.9 194.3h.8v.8h-.8zM325.1 208.4h.8v.8h-.8zM360.9 209.0h.8v.8h-.8zM346.0 197.6h.8v.8h-.8zM361.0 255.5h.8v.8h-.8zM295.7 218.3h.8v.8h-.8zM353.9 220.3h.8v.8h-.8zM294.2 291.0h.8v.8h-.8zM368.2 250.0h.8v.8h-.8zM354.1 200.1h.8v.8h-.8zM281.5 259.4h.8v.8h-.8zM373.7 231.9h.8v.8h-.8zM380.1 235.6h.8v.8h-.8zM376.4 213.7h.8v.8h-.8zM302.6 288.0h.8v.8h-.8zM299.6 295.6h.8v.8h-.8zM365.0 228.3h.8v.8h-.8zM352.4 261.6h.8v.8h-.8zM360.7 195.8h.8v.8h-.8zM368.6 206.3h.8v.8h-.8zM344.6 271.0h.8v.8h-.8zM363.0 240.3h.8v.8h-.8zM373.6 209.5h.8v.8h-.8zM356.2 229.3h.8v.8h-.8zM361.2 200.4h.8v.8h-.8zM367.3 283.7h.8v.8h-.8zM374.8 238.0h.8v.8h-.8zM359.5 258.1h.8v.8h-.8zM298.1 216.1h.8v.8h-.8zM359.9 223.6h.8v.8h-.8zM361.5 198.3h.8v.8h-.8zM366.0 217.9h.8v.8h-.8zM353.3 242.1h.8v.8h-.8zM288.7 234.5h.8v.8h-.8zM373.7 203.8h.8v.8h-.8zM359.4 229.0h.8v.8h-.8zM317.1 257.6h.8v.8h-.8zM343.9 207.9h.8v.8h-.8zM375.1 193.1h.8v.8h-.8zM288.6 238.9h.8v.8h-.8zM357.4 223.5h.8v.8h-.8zM354.9 239.4h.8v.8h-.8zM345.2 271.4h.8v.8h-.8zM356.4 221.1h.8v.8h-.8zM346.8 193.4h.8v.8h-.8zM281.4 218.3h.8v.8h-.8zM285.1 247.4h.8v.8h-.8zM358.4 267.7h.8v.8h-.8zM317.6 256.4h.8v.8h-.8zM342.8 278.7h.8v.8h-.8zM344.9 202.7h.8v.8h-.8zM297.2 216.7h.8v.8h-.8zM299.8 215.4h.8v.8h-.8zM369.1 204.6h.8v.8h-.8zM327.1 255.3h.8v.8h-.8zM317.3 205.7h.8v.8h-.8zM342.9 280.9h.8v.8h-.8zM338.2 203.5h.8v.8h-.8zM380.7 202.5h.8v.8h-.8zM363.4 207.7h.8v.8h-.8zM287.3 221.4h.8v.8h-.8zM286.6 242.0h.8v.8h-.8zM359.8 207.7h.8v.8h-.8zM365.0 235.0h.8v.8h-.8zM370.7 220.6h.8v.8h-.8zM354.6 204.2h.8v.8h-.8zM318.9 289.1h.8v.8h-.8zM354.5 197.7h.8v.8h-.8zM365.8 252.4h.8v.8h-.8zM359.9 244.3h.8v.8h-.8zM294.5 292.8h.8v.8h-.8zM379.0 231.9h.8v.8h-.8zM370.3 245.3h.8v.8h-.8zM369.0 201.4h.8v.8h-.8zM370.6 242.1h.8v.8h-.8zM311.7 204.3h.8v.8h-.8zM318.6 290.0h.8v.8h-.8zM356.3 225.8h.8v.8h-.8zM298.8 208.9h.8v.8h-.8zM343.6 201.4h.8v.8h-.8zM369.4 254.2h.8v.8h-.8zM371.9 222.6h.8v.8h-.8zM355.3 225.8h.8v.8h-.8zM360.1 256.5h.8v.8h-.8zM360.0 231.7h.8v.8h-.8zM379.3 236.3h.8v.8h-.8zM366.3 212.0h.8v.8h-.8zM333.0 251.6h.8v.8h-.8zM359.0 207.3h.8v.8h-.8zM349.4 203.1h.8v.8h-.8zM334.4 279.9h.8v.8h-.8zM312.1 285.3h.8v.8h-.8zM283.3 239.8h.8v.8h-.8zM375.9 221.5h.8v.8h-.8zM378.7 273.8h.8v.8h-.8zM374.2 200.7h.8v.8h-.8zM330.1 205.1h.8v.8h-.8zM362.0 228.8h.8v.8h-.8zM286.9 237.8h.8v.8h-.8zM364.0 236.7h.8v.8h-.8zM352.8 279.0h.8v.8h-.8zM367.2 211.1h.8v.8h-.8zM363.0 256.0h.8v.8h-.8zM369.5 225.3h.8v.8h-.8zM353.0 250.6h.8v.8h-.8zM368.6 216.7h.8v.8h-.8zM341.8 200.4h.8v.8h-.8zM305.8 259.3h.8v.8h-.8zM327.5 287.8h.8v.8h-.8zM370.2 197.2h.8v.8h-.8zM352.9 224.2h.8v.8h-.8zM278.9 272.4h.8v.8h-.8zM363.7 228.4h.8v.8h-.8zM370.7 229.4h.8v.8h-.8zM375.2 226.1h.8v.8h-.8zM360.4 244.9h.8v.8h-.8zM369.3 212.0h.8v.8h-.8zM373.5 208.4h.8v.8h-.8zM361.2 200.0h.8v.8h-.8zM351.7 208.1h.8v.8h-.8zM367.9 226.1h.8v.8h-.8zM364.8 274.1h.8v.8h-.8zM356.3 255.1h.8v.8h-.8zM379.3 226.7h.8v.8h-.8zM378.4 223.4h.8v.8h-.8zM322.9 281.5h.8v.8h-.8zM365.9 246.9h.8v.8h-.8zM279.9 197.8h.8v.8h-.8zM359.9 252.7h.8v.8h-.8zM273.0 233.0h.8v.8h-.8zM379.4 275.8h.8v.8h-.8zM313.1 211.7h.8v.8h-.8zM368.0 242.2h.8v.8h-.8zM288.3 229.0h.8v.8h-.8zM346.6 204.8h.8v.8h-.8zM359.2 215.1h.8v.8h-.8zM356.4 211.9h.8v.8h-.8zM359.3 252.0h.8v.8h-.8zM363.3 211.8h.8v.8h-.8zM377.6 260.8h.8v.8h-.8zM294.8 220.3h.8v.8h-.8zM367.1 230.1h.8v.8h-.8zM311.6 285.4h.8v.8h-.8zM351.4 269.1h.8v.8h-.8zM362.5 274.9h.8v.8h-.8zM322.7 256.7h.8v.8h-.8zM368.4 207.2h.8v.8h-.8zM282.1 271.8h.8v.8h-.8zM380.2 230.7h.8v.8h-.8zM338.9 250.8h.8v.8h-.8zM374.3 212.4h.8v.8h-.8zM350.5 199.5h.8v.8h-.8zM290.4 237.9h.8v.8h-.8zM290.8 230.1h.8v.8h-.8zM353.8 242.5h.8v.8h-.8zM357.0 223.1h.8v.8h-.8zM362.8 239.0h.8v.8h-.8zM356.5 199.7h.8v.8h-.8zM356.7 228.5h.8v.8h-.8zM352.2 198.1h.8v.8h-.8zM370.9 237.5h.8v.8h-.8zM375.3 220.1h.8v.8h-.8zM331.8 282.6h.8v.8h-.8zM349.8 276.8h.8v.8h-.8zM373.0 259.5h.8v.8h-.8zM292.2 288.2h.8v.8h-.8zM357.4 219.1h.8v.8h-.8zM357.6 215.7h.8v.8h-.8zM372.3 198.5h.8v.8h-.8zM373.0 232.8h.8v.8h-.8zM354.1 267.7h.8v.8h-.8zM369.3 237.0h.8v.8h-.8zM365.4 229.1h.8v.8h-.8zM285.9 248.3h.8v.8h-.8zM279.6 283.9h.8v.8h-.8zM359.9 225.3h.8v.8h-.8zM380.8 201.5h.8v.8h-.8zM353.3 213.6h.8v.8h-.8zM356.8 268.6h.8v.8h-.8zM293.1 263.3h.8v.8h-.8zM284.4 252.3h.8v.8h-.8zM366.9 261.7h.8v.8h-.8zM354.1 244.7h.8v.8h-.8zM288.1 242.5h.8v.8h-.8zM333.2 202.3h.8v.8h-.8zM294.0 218.5h.8v.8h-.8zM303.7 289.7h.8v.8h-.8zM282.5 292.1h.8v.8h-.8zM309.1 284.7h.8v.8h-.8zM331.6 206.3h.8v.8h-.8zM367.2 234.1h.8v.8h-.8zM289.8 241.2h.8v.8h-.8zM288.7 214.9h.8v.8h-.8zM353.0 240.3h.8v.8h-.8zM369.3 297.6h.8v.8h-.8zM289.9 250.7h.8v.8h-.8zM301.8 290.1h.8v.8h-.8zM365.3 221.1h.8v.8h-.8zM378.1 214.8h.8v.8h-.8zM326.2 209.8h.8v.8h-.8zM367.6 210.6h.8v.8h-.8zM343.9 275.7h.8v.8h-.8zM313.8 196.1h.8v.8h-.8zM361.2 194.7h.8v.8h-.8zM374.1 248.8h.8v.8h-.8zM352.2 238.4h.8v.8h-.8zM365.9 233.3h.8v.8h-.8zM348.0 271.2h.8v.8h-.8zM358.1 236.6h.8v.8h-.8zM365.0 237.4h.8v.8h-.8zM281.8 281.9h.8v.8h-.8zM360.5 243.6h.8v.8h-.8zM363.5 260.6h.8v.8h-.8zM301.7 287.9h.8v.8h-.8zM358.5 251.6h.8v.8h-.8zM357.7 211.8h.8v.8h-.8zM373.7 243.2h.8v.8h-.8zM280.3 286.4h.8v.8h-.8zM288.7 248.8h.8v.8h-.8zM370.3 231.2h.8v.8h-.8zM356.4 231.1h.8v.8h-.8zM365.9 206.6h.8v.8h-.8zM281.9 281.7h.8v.8h-.8zM352.2 242.6h.8v.8h-.8zM358.7 245.9h.8v.8h-.8zM362.8 230.7h.8v.8h-.8zM311.5 257.3h.8v.8h-.8zM303.1 291.7h.8v.8h-.8zM354.8 238.8h.8v.8h-.8zM339.6 204.3h.8v.8h-.8zM362.7 197.7h.8v.8h-.8zM334.6 274.5h.8v.8h-.8zM366.8 255.7h.8v.8h-.8zM370.9 234.7h.8v.8h-.8zM363.9 201.9h.8v.8h-.8zM365.4 214.3h.8v.8h-.8zM326.9 207.2h.8v.8h-.8zM353.9 236.8h.8v.8h-.8zM327.2 202.8h.8v.8h-.8zM339.8 203.7h.8v.8h-.8zM366.4 248.4h.8v.8h-.8zM304.3 216.4h.8v.8h-.8zM334.1 282.5h.8v.8h-.8zM357.3 202.1h.8v.8h-.8zM371.2 199.5h.8v.8h-.8zM274.9 273.9h.8v.8h-.8zM347.6 268.9h.8v.8h-.8zM301.3 262.1h.8v.8h-.8zM370.6 229.0h.8v.8h-.8zM360.9 197.3h.8v.8h-.8zM354.8 205.1h.8v.8h-.8zM363.8 231.7h.8v.8h-.8zM353.5 265.2h.8v.8h-.8zM362.7 258.5h.8v.8h-.8zM338.1 199.6h.8v.8h-.8zM380.4 196.1h.8v.8h-.8zM355.5 254.0h.8v.8h-.8zM372.3 234.6h.8v.8h-.8zM354.4 203.2h.8v.8h-.8zM335.6 278.6h.8v.8h-.8zM290.9 227.7h.8v.8h-.8zM356.8 238.7h.8v.8h-.8zM344.1 248.9h.8v.8h-.8zM364.3 202.1h.8v.8h-.8zM371.3 197.3h.8v.8h-.8zM354.3 259.6h.8v.8h-.8zM356.7 232.0h.8v.8h-.8zM339.7 202.9h.8v.8h-.8zM355.5 227.9h.8v.8h-.8zM301.7 291.0h.8v.8h-.8zM365.2 209.8h.8v.8h-.8zM356.7 224.8h.8v.8h-.8zM375.1 241.8h.8v.8h-.8zM318.0 254.7h.8v.8h-.8zM299.9 262.9h.8v.8h-.8zM355.0 226.2h.8v.8h-.8zM315.1 284.7h.8v.8h-.8zM354.6 243.8h.8v.8h-.8zM326.0 252.7h.8v.8h-.8zM360.9 212.3h.8v.8h-.8zM355.6 240.9h.8v.8h-.8zM287.3 231.6h.8v.8h-.8zM354.1 247.0h.8v.8h-.8zM328.5 281.1h.8v.8h-.8zM362.7 233.0h.8v.8h-.8zM372.0 220.6h.8v.8h-.8zM323.6 205.8h.8v.8h-.8zM366.4 266.3h.8v.8h-.8zM304.3 259.4h.8v.8h-.8zM286.9 259.6h.8v.8h-.8zM370.3 221.9h.8v.8h-.8zM353.3 262.9h.8v.8h-.8zM316.6 193.6h.8v.8h-.8zM371.4 250.2h.8v.8h-.8zM352.9 261.9h.8v.8h-.8zM290.4 240.1h.8v.8h-.8zM343.9 196.2h.8v.8h-.8zM373.3 245.5h.8v.8h-.8zM378.4 201.9h.8v.8h-.8zM361.5 248.0h.8v.8h-.8zM359.0 257.2h.8v.8h-.8zM333.9 203.2h.8v.8h-.8zM290.6 224.2h.8v.8h-.8zM290.1 232.3h.8v.8h-.8zM371.5 200.6h.8v.8h-.8zM279.2 286.2h.8v.8h-.8zM370.4 215.7h.8v.8h-.8zM276.5 280.2h.8v.8h-.8zM356.5 233.9h.8v.8h-.8zM354.7 219.2h.8v.8h-.8zM333.9 281.2h.8v.8h-.8zM357.3 228.6h.8v.8h-.8zM373.2 196.4h.8v.8h-.8zM283.8 261.4h.8v.8h-.8zM318.4 281.4h.8v.8h-.8zM353.6 241.3h.8v.8h-.8zM352.2 254.2h.8v.8h-.8zM296.2 289.2h.8v.8h-.8zM290.4 221.3h.8v.8h-.8zM288.5 232.2h.8v.8h-.8zM362.2 212.4h.8v.8h-.8zM276.3 204.9h.8v.8h-.8zM353.8 230.9h.8v.8h-.8zM345.3 207.7h.8v.8h-.8zM307.2 289.2h.8v.8h-.8zM274.5 217.2h.8v.8h-.8zM355.1 264.7h.8v.8h-.8zM278.8 290.0h.8v.8h-.8zM364.0 225.2h.8v.8h-.8zM290.0 238.3h.8v.8h-.8zM363.0 219.6h.8v.8h-.8zM348.0 195.6h.8v.8h-.8zM359.5 247.8h.8v.8h-.8zM360.7 232.2h.8v.8h-.8zM332.9 276.1h.8v.8h-.8zM347.2 205.7h.8v.8h-.8zM322.1 199.4h.8v.8h-.8zM313.5 206.7h.8v.8h-.8zM355.7 208.9h.8v.8h-.8zM363.1 203.7h.8v.8h-.8zM366.2 265.2h.8v.8h-.8zM367.5 237.8h.8v.8h-.8zM356.0 225.4h.8v.8h-.8zM358.8 242.8h.8v.8h-.8zM352.3 210.7h.8v.8h-.8zM333.0 204.4h.8v.8h-.8zM348.0 269.7h.8v.8h-.8zM355.8 259.2h.8v.8h-.8zM277.4 271.8h.8v.8h-.8zM359.7 240.7h.8v.8h-.8zM375.0 215.3h.8v.8h-.8zM371.8 242.1h.8v.8h-.8zM293.7 218.1h.8v.8h-.8zM358.9 205.2h.8v.8h-.8zM359.8 247.7h.8v.8h-.8zM355.4 253.1h.8v.8h-.8zM338.1 206.5h.8v.8h-.8zM364.1 252.8h.8v.8h-.8zM314.3 284.1h.8v.8h-.8zM372.5 241.1h.8v.8h-.8zM363.7 250.3h.8v.8h-.8zM303.9 215.3h.8v.8h-.8zM364.6 226.1h.8v.8h-.8zM326.5 205.8h.8v.8h-.8zM339.2 206.5h.8v.8h-.8zM365.6 215.5h.8v.8h-.8zM366.0 230.7h.8v.8h-.8zM317.5 256.3h.8v.8h-.8zM369.0 251.3h.8v.8h-.8zM368.5 203.6h.8v.8h-.8zM346.8 270.4h.8v.8h-.8zM360.0 252.0h.8v.8h-.8zM336.9 278.7h.8v.8h-.8zM371.3 218.8h.8v.8h-.8zM344.5 270.9h.8v.8h-.8zM289.8 224.5h.8v.8h-.8zM341.8 273.6h.8v.8h-.8zM364.3 228.6h.8v.8h-.8zM287.5 222.5h.8v.8h-.8zM279.2 294.6h.8v.8h-.8zM275.3 283.5h.8v.8h-.8zM365.1 242.8h.8v.8h-.8zM362.3 250.6h.8v.8h-.8zM305.3 262.6h.8v.8h-.8zM361.8 234.1h.8v.8h-.8zM289.6 223.3h.8v.8h-.8zM352.9 260.1h.8v.8h-.8zM358.3 251.0h.8v.8h-.8zM358.3 266.5h.8v.8h-.8zM365.9 229.6h.8v.8h-.8zM378.2 195.0h.8v.8h-.8zM360.7 227.2h.8v.8h-.8zM355.5 239.8h.8v.8h-.8zM376.9 218.8h.8v.8h-.8zM337.8 207.5h.8v.8h-.8zM377.5 238.4h.8v.8h-.8zM313.3 284.8h.8v.8h-.8zM366.2 200.3h.8v.8h-.8zM367.5 212.3h.8v.8h-.8zM324.9 296.3h.8v.8h-.8zM358.5 199.8h.8v.8h-.8zM359.0 247.9h.8v.8h-.8zM358.8 261.4h.8v.8h-.8zM353.9 208.5h.8v.8h-.8zM307.1 260.2h.8v.8h-.8zM351.0 274.8h.8v.8h-.8zM346.5 204.3h.8v.8h-.8zM348.4 203.5h.8v.8h-.8zM359.2 202.5h.8v.8h-.8zM331.3 203.1h.8v.8h-.8zM301.7 214.1h.8v.8h-.8zM362.7 213.0h.8v.8h-.8zM296.2 294.0h.8v.8h-.8zM353.9 240.1h.8v.8h-.8zM281.1 288.6h.8v.8h-.8zM295.3 261.6h.8v.8h-.8zM377.6 245.0h.8v.8h-.8zM377.9 194.9h.8v.8h-.8zM299.5 289.8h.8v.8h-.8zM350.9 201.9h.8v.8h-.8zM368.9 195.7h.8v.8h-.8zM286.8 219.7h.8v.8h-.8zM313.8 258.9h.8v.8h-.8zM336.2 251.7h.8v.8h-.8zM371.7 230.7h.8v.8h-.8zM346.6 209.2h.8v.8h-.8zM367.5 222.0h.8v.8h-.8zM314.4 206.6h.8v.8h-.8zM338.3 274.7h.8v.8h-.8zM364.9 264.4h.8v.8h-.8zM363.9 231.6h.8v.8h-.8zM364.7 264.5h.8v.8h-.8zM278.6 257.7h.8v.8h-.8zM275.6 245.3h.8v.8h-.8zM355.7 262.5h.8v.8h-.8zM352.3 248.3h.8v.8h-.8zM332.1 281.1h.8v.8h-.8zM364.4 222.8h.8v.8h-.8zM368.3 238.7h.8v.8h-.8zM357.3 243.1h.8v.8h-.8zM366.4 243.6h.8v.8h-.8zM337.0 285.3h.8v.8h-.8zM356.8 227.6h.8v.8h-.8zM289.4 243.3h.8v.8h-.8zM350.7 201.0h.8v.8h-.8zM365.7 211.1h.8v.8h-.8zM364.9 243.9h.8v.8h-.8zM330.2 275.5h.8v.8h-.8zM360.6 203.2h.8v.8h-.8zM358.5 206.7h.8v.8h-.8zM298.4 261.6h.8v.8h-.8zM320.6 202.4h.8v.8h-.8zM287.9 249.1h.8v.8h-.8zM346.9 202.9h.8v.8h-.8zM371.2 229.2h.8v.8h-.8zM286.1 231.9h.8v.8h-.8zM366.5 207.0h.8v.8h-.8zM352.0 276.5h.8v.8h-.8zM327.1 209.2h.8v.8h-.8zM362.1 247.9h.8v.8h-.8zM367.3 224.3h.8v.8h-.8zM368.6 208.8h.8v.8h-.8zM297.4 213.1h.8v.8h-.8zM281.6 272.0h.8v.8h-.8zM358.6 211.4h.8v.8h-.8zM285.6 272.1h.8v.8h-.8zM369.1 229.7h.8v.8h-.8zM354.9 258.7h.8v.8h-.8zM290.1 256.3h.8v.8h-.8zM301.9 259.9h.8v.8h-.8zM359.6 231.6h.8v.8h-.8zM355.6 218.6h.8v.8h-.8zM365.3 213.0h.8v.8h-.8zM275.1 290.2h.8v.8h-.8zM357.2 226.7h.8v.8h-.8zM357.0 205.8h.8v.8h-.8zM357.2 234.6h.8v.8h-.8zM365.6 226.3h.8v.8h-.8zM292.3 218.2h.8v.8h-.8zM372.9 207.4h.8v.8h-.8zM369.6 236.3h.8v.8h-.8zM364.4 236.4h.8v.8h-.8zM367.6 202.7h.8v.8h-.8zM372.0 198.9h.8v.8h-.8zM273.4 281.2h.8v.8h-.8zM286.9 266.2h.8v.8h-.8zM289.7 289.5h.8v.8h-.8zM381.2 243.0h.8v.8h-.8zM354.6 238.0h.8v.8h-.8zM278.8 260.6h.8v.8h-.8zM359.8 209.7h.8v.8h-.8zM321.2 255.5h.8v.8h-.8zM354.4 203.0h.8v.8h-.8zM376.6 233.5h.8v.8h-.8zM376.6 215.7h.8v.8h-.8zM290.8 295.5h.8v.8h-.8zM280.7 230.0h.8v.8h-.8zM308.5 257.8h.8v.8h-.8zM324.7 253.1h.8v.8h-.8zM348.1 274.6h.8v.8h-.8zM374.5 229.3h.8v.8h-.8zM338.9 276.6h.8v.8h-.8zM355.0 205.0h.8v.8h-.8zM360.1 253.9h.8v.8h-.8zM327.5 204.0h.8v.8h-.8zM279.8 290.7h.8v.8h-.8zM365.4 241.5h.8v.8h-.8zM353.4 227.6h.8v.8h-.8zM273.6 287.7h.8v.8h-.8zM372.7 210.2h.8v.8h-.8zM364.9 212.6h.8v.8h-.8zM352.5 240.7h.8v.8h-.8zM310.3 257.3h.8v.8h-.8zM355.4 262.9h.8v.8h-.8zM357.8 224.5h.8v.8h-.8zM367.5 233.3h.8v.8h-.8zM367.6 204.7h.8v.8h-.8zM324.7 298.9h.8v.8h-.8zM311.4 258.8h.8v.8h-.8zM372.4 205.9h.8v.8h-.8zM359.4 195.5h.8v.8h-.8zM304.5 261.0h.8v.8h-.8zM332.6 278.9h.8v.8h-.8zM364.8 233.8h.8v.8h-.8zM370.1 228.5h.8v.8h-.8zM347.8 273.0h.8v.8h-.8zM347.4 209.0h.8v.8h-.8zM330.2 200.6h.8v.8h-.8zM374.7 233.5h.8v.8h-.8zM334.0 250.7h.8v.8h-.8zM286.1 248.2h.8v.8h-.8zM356.8 270.4h.8v.8h-.8zM292.4 264.5h.8v.8h-.8zM282.7 221.7h.8v.8h-.8zM363.5 227.7h.8v.8h-.8zM354.3 203.0h.8v.8h-.8zM376.6 227.7h.8v.8h-.8zM288.2 244.8h.8v.8h-.8zM345.0 209.4h.8v.8h-.8zM322.8 255.2h.8v.8h-.8zM333.1 208.4h.8v.8h-.8zM298.7 262.6h.8v.8h-.8zM359.2 245.3h.8v.8h-.8zM354.3 261.9h.8v.8h-.8zM376.8 222.3h.8v.8h-.8zM320.9 281.8h.8v.8h-.8zM330.9 204.7h.8v.8h-.8zM275.1 291.8h.8v.8h-.8zM380.9 252.0h.8v.8h-.8zM377.1 264.5h.8v.8h-.8zM371.9 204.4h.8v.8h-.8zM362.7 224.9h.8v.8h-.8zM367.4 223.7h.8v.8h-.8zM323.6 193.1h.8v.8h-.8zM360.1 242.9h.8v.8h-.8zM362.3 207.3h.8v.8h-.8zM380.7 249.5h.8v.8h-.8zM289.8 235.9h.8v.8h-.8zM361.9 219.1h.8v.8h-.8zM305.5 215.0h.8v.8h-.8zM334.9 202.1h.8v.8h-.8zM339.9 199.4h.8v.8h-.8zM356.9 200.7h.8v.8h-.8zM363.4 215.1h.8v.8h-.8zM372.5 200.7h.8v.8h-.8zM272.7 232.4h.8v.8h-.8zM340.7 205.9h.8v.8h-.8zM355.8 195.5h.8v.8h-.8zM362.6 216.5h.8v.8h-.8zM331.3 251.7h.8v.8h-.8zM377.0 197.6h.8v.8h-.8zM365.4 223.9h.8v.8h-.8zM353.2 264.1h.8v.8h-.8zM345.6 194.7h.8v.8h-.8zM364.6 224.7h.8v.8h-.8zM356.6 205.0h.8v.8h-.8zM340.2 204.7h.8v.8h-.8zM357.1 196.3h.8v.8h-.8zM275.8 283.1h.8v.8h-.8zM360.3 248.3h.8v.8h-.8zM288.8 227.5h.8v.8h-.8zM380.9 206.2h.8v.8h-.8zM282.3 280.8h.8v.8h-.8zM373.6 217.8h.8v.8h-.8zM380.7 233.9h.8v.8h-.8zM369.8 249.4h.8v.8h-.8zM339.1 209.3h.8v.8h-.8zM365.4 260.3h.8v.8h-.8zM327.0 282.2h.8v.8h-.8zM290.5 260.4h.8v.8h-.8zM287.9 295.3h.8v.8h-.8zM344.2 270.4h.8v.8h-.8zM354.9 195.6h.8v.8h-.8zM286.7 231.3h.8v.8h-.8zM370.0 250.3h.8v.8h-.8zM284.7 217.1h.8v.8h-.8zM304.9 214.0h.8v.8h-.8zM366.8 273.2h.8v.8h-.8zM369.6 219.5h.8v.8h-.8zM289.6 214.5h.8v.8h-.8zM354.4 211.8h.8v.8h-.8zM282.5 239.8h.8v.8h-.8zM373.1 253.5h.8v.8h-.8zM377.3 207.4h.8v.8h-.8zM374.2 235.3h.8v.8h-.8zM338.0 201.7h.8v.8h-.8zM325.4 207.7h.8v.8h-.8zM365.2 258.8h.8v.8h-.8zM359.7 213.4h.8v.8h-.8zM340.5 194.9h.8v.8h-.8zM353.4 234.4h.8v.8h-.8zM372.6 210.5h.8v.8h-.8zM293.0 289.6h.8v.8h-.8zM374.2 284.9h.8v.8h-.8zM355.7 204.7h.8v.8h-.8zM319.5 205.2h.8v.8h-.8zM360.8 239.5h.8v.8h-.8zM290.1 240.0h.8v.8h-.8zM345.9 270.5h.8v.8h-.8zM286.6 250.8h.8v.8h-.8zM366.3 193.0h.8v.8h-.8zM365.7 218.5h.8v.8h-.8zM310.9 260.9h.8v.8h-.8zM291.7 221.4h.8v.8h-.8zM330.6 206.6h.8v.8h-.8zM356.1 244.0h.8v.8h-.8zM377.2 248.1h.8v.8h-.8zM368.5 200.5h.8v.8h-.8zM368.5 215.7h.8v.8h-.8zM378.7 207.7h.8v.8h-.8zM282.9 290.1h.8v.8h-.8zM357.1 229.9h.8v.8h-.8zM294.9 262.6h.8v.8h-.8zM361.9 199.2h.8v.8h-.8zM358.3 198.2h.8v.8h-.8zM360.4 218.8h.8v.8h-.8zM317.2 209.5h.8v.8h-.8zM356.2 204.8h.8v.8h-.8zM378.4 253.2h.8v.8h-.8zM345.6 200.2h.8v.8h-.8zM371.4 230.8h.8v.8h-.8zM357.7 199.5h.8v.8h-.8zM370.3 246.6h.8v.8h-.8zM352.8 253.4h.8v.8h-.8zM288.2 240.2h.8v.8h-.8zM356.4 206.9h.8v.8h-.8zM369.8 260.4h.8v.8h-.8zM369.7 221.7h.8v.8h-.8zM378.7 212.1h.8v.8h-.8zM288.7 290.2h.8v.8h-.8zM281.0 273.6h.8v.8h-.8zM356.5 256.3h.8v.8h-.8zM371.1 255.5h.8v.8h-.8zM289.6 249.0h.8v.8h-.8zM281.6 255.7h.8v.8h-.8zM353.7 210.2h.8v.8h-.8zM373.3 225.8h.8v.8h-.8zM291.5 215.2h.8v.8h-.8zM373.9 237.2h.8v.8h-.8zM293.3 292.6h.8v.8h-.8zM329.6 206.4h.8v.8h-.8zM281.9 249.0h.8v.8h-.8zM357.2 260.6h.8v.8h-.8zM278.5 291.4h.8v.8h-.8zM351.7 198.7h.8v.8h-.8zM365.4 200.1h.8v.8h-.8zM294.9 219.6h.8v.8h-.8zM292.6 263.7h.8v.8h-.8zM331.8 291.7h.8v.8h-.8zM359.9 198.5h.8v.8h-.8zM376.9 260.3h.8v.8h-.8zM361.0 251.8h.8v.8h-.8zM363.5 262.9h.8v.8h-.8zM327.0 203.0h.8v.8h-.8zM283.3 288.6h.8v.8h-.8zM372.9 232.6h.8v.8h-.8zM371.7 224.4h.8v.8h-.8zM338.0 273.1h.8v.8h-.8zM360.6 253.3h.8v.8h-.8zM336.1 208.6h.8v.8h-.8zM363.4 205.8h.8v.8h-.8zM326.9 209.1h.8v.8h-.8zM376.1 212.3h.8v.8h-.8zM281.4 284.4h.8v.8h-.8zM314.3 283.7h.8v.8h-.8zM318.9 204.4h.8v.8h-.8zM317.4 288.4h.8v.8h-.8zM302.5 261.3h.8v.8h-.8zM378.9 206.8h.8v.8h-.8zM374.0 218.5h.8v.8h-.8zM290.4 248.8h.8v.8h-.8zM288.1 234.8h.8v.8h-.8zM360.7 207.4h.8v.8h-.8zM361.7 262.0h.8v.8h-.8zM363.3 237.2h.8v.8h-.8zM335.0 275.6h.8v.8h-.8zM372.5 234.4h.8v.8h-.8zM348.2 206.5h.8v.8h-.8zM353.2 207.3h.8v.8h-.8zM341.6 205.5h.8v.8h-.8zM378.2 254.9h.8v.8h-.8zM328.2 203.4h.8v.8h-.8zM283.1 289.7h.8v.8h-.8zM364.6 212.1h.8v.8h-.8zM299.0 296.0h.8v.8h-.8zM336.1 200.3h.8v.8h-.8zM360.0 250.7h.8v.8h-.8zM289.0 247.6h.8v.8h-.8zM315.7 258.1h.8v.8h-.8zM361.8 255.6h.8v.8h-.8zM273.0 257.9h.8v.8h-.8zM341.6 282.1h.8v.8h-.8zM365.2 248.1h.8v.8h-.8zM360.1 193.6h.8v.8h-.8zM336.7 204.8h.8v.8h-.8zM297.3 290.2h.8v.8h-.8zM335.2 276.1h.8v.8h-.8zM287.8 227.1h.8v.8h-.8zM370.1 230.7h.8v.8h-.8zM273.0 284.3h.8v.8h-.8zM358.7 212.0h.8v.8h-.8zM378.9 210.3h.8v.8h-.8zM331.8 205.7h.8v.8h-.8zM355.6 238.5h.8v.8h-.8zM324.9 296.5h.8v.8h-.8zM366.1 239.7h.8v.8h-.8zM314.0 208.0h.8v.8h-.8zM366.6 199.1h.8v.8h-.8zM329.6 208.6h.8v.8h-.8zM353.3 237.0h.8v.8h-.8zM346.8 279.6h.8v.8h-.8zM355.0 246.9h.8v.8h-.8zM367.1 194.2h.8v.8h-.8zM340.9 201.9h.8v.8h-.8zM371.2 258.7h.8v.8h-.8zM279.7 286.4h.8v.8h-.8zM322.4 205.5h.8v.8h-.8zM286.2 267.6h.8v.8h-.8zM324.4 205.1h.8v.8h-.8zM362.2 209.5h.8v.8h-.8zM291.7 263.5h.8v.8h-.8zM379.6 253.9h.8v.8h-.8zM381.0 209.6h.8v.8h-.8zM374.3 239.9h.8v.8h-.8zM353.1 231.1h.8v.8h-.8zM369.3 201.7h.8v.8h-.8zM350.1 293.4h.8v.8h-.8zM375.6 234.6h.8v.8h-.8zM342.8 206.4h.8v.8h-.8zM374.5 222.4h.8v.8h-.8zM370.4 208.9h.8v.8h-.8zM337.3 273.3h.8v.8h-.8zM344.8 247.0h.8v.8h-.8zM286.0 265.7h.8v.8h-.8zM359.2 222.0h.8v.8h-.8zM381.2 299.5h.8v.8h-.8zM363.2 224.1h.8v.8h-.8zM360.5 256.2h.8v.8h-.8zM355.6 254.6h.8v.8h-.8zM367.7 250.6h.8v.8h-.8zM358.5 236.9h.8v.8h-.8zM357.4 218.6h.8v.8h-.8zM310.9 259.8h.8v.8h-.8zM325.2 253.4h.8v.8h-.8zM308.2 290.8h.8v.8h-.8zM292.5 193.2h.8v.8h-.8zM287.9 238.8h.8v.8h-.8zM352.8 252.7h.8v.8h-.8zM377.4 204.9h.8v.8h-.8zM338.6 198.9h.8v.8h-.8zM339.1 209.6h.8v.8h-.8zM365.0 205.1h.8v.8h-.8zM366.7 239.9h.8v.8h-.8zM368.0 222.6h.8v.8h-.8zM278.4 284.3h.8v.8h-.8zM275.5 295.7h.8v.8h-.8zM356.3 265.3h.8v.8h-.8zM350.6 197.7h.8v.8h-.8zM356.9 199.9h.8v.8h-.8zM315.1 281.9h.8v.8h-.8zM275.7 227.1h.8v.8h-.8zM287.5 257.4h.8v.8h-.8zM361.9 233.1h.8v.8h-.8zM366.5 243.7h.8v.8h-.8zM280.6 270.8h.8v.8h-.8zM349.1 246.5h.8v.8h-.8zM318.6 198.0h.8v.8h-.8zM366.8 267.4h.8v.8h-.8zM355.9 213.8h.8v.8h-.8zM304.9 213.4h.8v.8h-.8zM361.6 256.3h.8v.8h-.8zM273.2 267.7h.8v.8h-.8zM351.1 207.5h.8v.8h-.8zM281.1 223.8h.8v.8h-.8zM372.0 211.5h.8v.8h-.8zM375.5 219.3h.8v.8h-.8zM280.7 243.2h.8v.8h-.8zM362.1 290.1h.8v.8h-.8zM380.3 224.2h.8v.8h-.8zM303.6 259.7h.8v.8h-.8zM361.6 262.8h.8v.8h-.8zM352.6 251.5h.8v.8h-.8zM281.3 276.8h.8v.8h-.8zM314.3 211.4h.8v.8h-.8zM361.5 259.3h.8v.8h-.8zM364.7 232.2h.8v.8h-.8zM339.3 199.2h.8v.8h-.8zM299.6 264.2h.8v.8h-.8zM373.7 217.5h.8v.8h-.8zM349.2 195.7h.8v.8h-.8zM377.4 237.2h.8v.8h-.8zM352.0 239.8h.8v.8h-.8zM365.1 205.0h.8v.8h-.8zM343.0 249.2h.8v.8h-.8zM334.4 249.9h.8v.8h-.8zM362.2 218.3h.8v.8h-.8zM307.7 287.4h.8v.8h-.8zM358.8 246.1h.8v.8h-.8zM332.8 205.3h.8v.8h-.8zM285.9 289.3h.8v.8h-.8zM293.5 265.5h.8v.8h-.8zM308.0 258.2h.8v.8h-.8zM355.8 199.9h.8v.8h-.8zM338.7 200.5h.8v.8h-.8zM340.5 204.8h.8v.8h-.8zM340.0 198.6h.8v.8h-.8zM331.2 275.4h.8v.8h-.8zM376.7 201.9h.8v.8h-.8zM370.2 214.8h.8v.8h-.8zM290.1 247.3h.8v.8h-.8zM353.7 266.1h.8v.8h-.8zM285.1 271.9h.8v.8h-.8zM274.9 231.4h.8v.8h-.8zM319.0 285.7h.8v.8h-.8zM339.5 248.3h.8v.8h-.8zM359.5 241.5h.8v.8h-.8zM358.5 251.7h.8v.8h-.8zM348.3 268.4h.8v.8h-.8zM326.0 294.6h.8v.8h-.8zM363.3 233.0h.8v.8h-.8zM289.1 221.6h.8v.8h-.8zM370.1 229.4h.8v.8h-.8zM364.3 228.9h.8v.8h-.8zM361.9 196.0h.8v.8h-.8zM358.5 200.8h.8v.8h-.8zM349.4 201.9h.8v.8h-.8zM367.1 208.2h.8v.8h-.8zM289.7 238.5h.8v.8h-.8zM357.6 227.4h.8v.8h-.8zM343.0 269.9h.8v.8h-.8zM361.6 265.4h.8v.8h-.8zM316.5 210.2h.8v.8h-.8zM360.3 241.5h.8v.8h-.8zM364.2 251.2h.8v.8h-.8zM358.6 199.7h.8v.8h-.8zM298.9 213.0h.8v.8h-.8zM356.8 208.5h.8v.8h-.8zM320.8 199.0h.8v.8h-.8zM370.3 209.7h.8v.8h-.8zM359.5 216.6h.8v.8h-.8zM358.3 259.3h.8v.8h-.8zM287.4 266.1h.8v.8h-.8zM374.5 196.0h.8v.8h-.8zM284.1 296.6h.8v.8h-.8zM282.3 276.5h.8v.8h-.8zM332.3 200.6h.8v.8h-.8zM366.5 216.9h.8v.8h-.8zM353.5 227.3h.8v.8h-.8zM352.5 230.1h.8v.8h-.8zM353.3 254.0h.8v.8h-.8zM290.5 236.0h.8v.8h-.8zM316.8 259.2h.8v.8h-.8zM291.8 290.1h.8v.8h-.8zM352.2 250.2h.8v.8h-.8zM341.9 199.4h.8v.8h-.8zM333.4 199.4h.8v.8h-.8zM370.1 229.8h.8v.8h-.8zM370.0 231.4h.8v.8h-.8zM329.9 206.1h.8v.8h-.8zM358.8 276.5h.8v.8h-.8zM356.9 222.9h.8v.8h-.8zM334.4 249.7h.8v.8h-.8zM374.1 233.5h.8v.8h-.8zM300.6 260.4h.8v.8h-.8zM325.8 254.9h.8v.8h-.8zM344.6 197.5h.8v.8h-.8zM365.5 201.2h.8v.8h-.8zM357.3 220.8h.8v.8h-.8zM299.4 262.4h.8v.8h-.8zM366.7 225.9h.8v.8h-.8zM375.9 247.3h.8v.8h-.8zM355.6 212.7h.8v.8h-.8zM355.0 253.3h.8v.8h-.8zM372.3 237.4h.8v.8h-.8zM286.5 270.1h.8v.8h-.8zM376.3 240.7h.8v.8h-.8zM339.7 196.7h.8v.8h-.8zM359.3 197.5h.8v.8h-.8zM368.8 231.0h.8v.8h-.8zM319.7 205.9h.8v.8h-.8zM362.7 267.7h.8v.8h-.8zM372.0 211.0h.8v.8h-.8zM282.5 268.0h.8v.8h-.8zM355.2 261.2h.8v.8h-.8zM319.9 204.2h.8v.8h-.8zM338.0 209.5h.8v.8h-.8zM272.7 287.5h.8v.8h-.8zM298.5 215.2h.8v.8h-.8zM311.2 259.6h.8v.8h-.8zM335.3 207.1h.8v.8h-.8zM360.1 220.7h.8v.8h-.8zM323.9 254.4h.8v.8h-.8zM341.5 282.5h.8v.8h-.8zM288.6 254.0h.8v.8h-.8zM355.2 265.4h.8v.8h-.8zM375.4 223.5h.8v.8h-.8zM358.1 264.6h.8v.8h-.8zM362.1 198.2h.8v.8h-.8zM308.8 260.1h.8v.8h-.8zM367.2 224.0h.8v.8h-.8zM347.0 268.4h.8v.8h-.8zM289.3 235.1h.8v.8h-.8zM362.1 205.7h.8v.8h-.8zM362.5 206.2h.8v.8h-.8zM358.1 250.9h.8v.8h-.8zM326.4 205.8h.8v.8h-.8zM366.7 222.1h.8v.8h-.8zM283.4 267.4h.8v.8h-.8zM354.2 250.1h.8v.8h-.8zM356.4 225.0h.8v.8h-.8zM364.7 239.9h.8v.8h-.8zM350.1 205.2h.8v.8h-.8zM364.5 200.7h.8v.8h-.8zM340.8 200.1h.8v.8h-.8zM280.8 282.3h.8v.8h-.8zM291.7 289.0h.8v.8h-.8zM380.2 248.1h.8v.8h-.8zM365.9 239.7h.8v.8h-.8zM380.7 244.4h.8v.8h-.8zM376.9 205.5h.8v.8h-.8zM365.2 220.7h.8v.8h-.8zM362.4 200.2h.8v.8h-.8zM353.7 197.2h.8v.8h-.8zM332.2 253.1h.8v.8h-.8zM353.6 197.5h.8v.8h-.8zM360.1 216.1h.8v.8h-.8zM376.3 222.0h.8v.8h-.8zM372.6 223.3h.8v.8h-.8zM348.0 204.7h.8v.8h-.8zM359.5 236.9h.8v.8h-.8zM279.7 286.4h.8v.8h-.8zM343.6 203.7h.8v.8h-.8zM329.3 208.0h.8v.8h-.8zM334.3 282.5h.8v.8h-.8zM277.8 253.8h.8v.8h-.8zM316.4 208.1h.8v.8h-.8zM378.2 246.7h.8v.8h-.8zM278.7 290.5h.8v.8h-.8zM351.6 267.1h.8v.8h-.8zM326.0 279.0h.8v.8h-.8zM380.7 223.3h.8v.8h-.8zM351.1 194.6h.8v.8h-.8zM328.8 276.0h.8v.8h-.8zM289.0 262.7h.8v.8h-.8zM325.5 208.5h.8v.8h-.8zM367.4 203.8h.8v.8h-.8zM362.6 236.0h.8v.8h-.8zM320.8 256.5h.8v.8h-.8zM374.4 231.4h.8v.8h-.8zM372.0 208.4h.8v.8h-.8zM359.4 229.9h.8v.8h-.8zM375.8 242.2h.8v.8h-.8zM314.8 288.6h.8v.8h-.8zM298.7 215.5h.8v.8h-.8zM277.3 264.7h.8v.8h-.8zM347.3 197.7h.8v.8h-.8zM369.5 209.8h.8v.8h-.8zM294.8 220.1h.8v.8h-.8zM285.7 243.8h.8v.8h-.8zM353.4 225.7h.8v.8h-.8zM279.9 259.9h.8v.8h-.8zM310.7 296.9h.8v.8h-.8zM333.2 202.1h.8v.8h-.8zM349.0 201.8h.8v.8h-.8zM352.8 213.5h.8v.8h-.8zM327.5 206.7h.8v.8h-.8zM283.1 292.8h.8v.8h-.8zM289.0 244.5h.8v.8h-.8zM364.2 261.2h.8v.8h-.8zM325.2 290.9h.8v.8h-.8zM367.1 226.2h.8v.8h-.8zM356.6 203.1h.8v.8h-.8zM287.6 227.7h.8v.8h-.8zM289.6 248.0h.8v.8h-.8zM358.7 203.3h.8v.8h-.8zM354.2 200.9h.8v.8h-.8zM285.7 245.7h.8v.8h-.8zM285.0 276.0h.8v.8h-.8zM379.7 206.6h.8v.8h-.8zM331.2 208.9h.8v.8h-.8zM352.9 239.0h.8v.8h-.8zM369.2 268.2h.8v.8h-.8zM361.6 246.3h.8v.8h-.8zM374.3 206.9h.8v.8h-.8zM372.6 199.9h.8v.8h-.8zM372.1 237.6h.8v.8h-.8zM354.7 215.1h.8v.8h-.8zM297.5 296.4h.8v.8h-.8zM352.5 214.2h.8v.8h-.8zM291.6 297.1h.8v.8h-.8zM359.2 208.9h.8v.8h-.8zM367.5 256.2h.8v.8h-.8zM278.3 283.6h.8v.8h-.8zM342.5 298.1h.8v.8h-.8zM369.4 218.9h.8v.8h-.8zM337.4 210.0h.8v.8h-.8zM280.4 275.6h.8v.8h-.8zM365.9 221.8h.8v.8h-.8zM330.2 289.2h.8v.8h-.8zM295.0 261.6h.8v.8h-.8zM337.9 280.3h.8v.8h-.8zM364.3 214.6h.8v.8h-.8zM283.6 274.4h.8v.8h-.8zM314.9 298.0h.8v.8h-.8zM353.8 236.9h.8v.8h-.8zM358.2 217.3h.8v.8h-.8zM360.8 263.1h.8v.8h-.8zM366.2 198.4h.8v.8h-.8zM330.4 194.1h.8v.8h-.8zM297.2 290.4h.8v.8h-.8zM314.4 257.6h.8v.8h-.8zM306.7 287.5h.8v.8h-.8zM381.1 197.4h.8v.8h-.8zM346.8 199.1h.8v.8h-.8zM346.9 273.3h.8v.8h-.8zM356.9 237.9h.8v.8h-.8zM355.1 196.9h.8v.8h-.8zM306.7 287.7h.8v.8h-.8zM353.4 233.4h.8v.8h-.8zM282.3 280.4h.8v.8h-.8zM289.1 243.7h.8v.8h-.8zM381.1 209.5h.8v.8h-.8zM357.4 219.4h.8v.8h-.8zM290.5 255.7h.8v.8h-.8zM292.4 221.8h.8v.8h-.8zM287.7 291.3h.8v.8h-.8zM279.7 270.0h.8v.8h-.8zM339.3 276.5h.8v.8h-.8zM375.1 239.0h.8v.8h-.8zM353.5 229.0h.8v.8h-.8zM281.2 275.0h.8v.8h-.8zM316.6 208.0h.8v.8h-.8zM350.2 204.1h.8v.8h-.8zM364.6 233.6h.8v.8h-.8zM366.1 233.3h.8v.8h-.8zM320.3 280.9h.8v.8h-.8zM304.0 260.1h.8v.8h-.8zM361.1 244.7h.8v.8h-.8zM335.8 209.2h.8v.8h-.8zM360.1 223.8h.8v.8h-.8zM364.6 195.0h.8v.8h-.8zM368.4 210.3h.8v.8h-.8zM372.6 233.5h.8v.8h-.8zM365.6 205.3h.8v.8h-.8zM372.8 296.8h.8v.8h-.8zM334.3 205.3h.8v.8h-.8zM374.1 254.4h.8v.8h-.8zM336.3 249.1h.8v.8h-.8zM376.1 209.9h.8v.8h-.8zM365.2 230.2h.8v.8h-.8zM290.2 261.9h.8v.8h-.8zM362.4 216.9h.8v.8h-.8zM359.1 251.6h.8v.8h-.8zM362.8 267.8h.8v.8h-.8zM378.9 202.7h.8v.8h-.8zM350.6 201.1h.8v.8h-.8zM357.7 263.0h.8v.8h-.8zM288.5 256.5h.8v.8h-.8zM366.2 262.6h.8v.8h-.8zM356.8 251.3h.8v.8h-.8zM355.8 261.5h.8v.8h-.8zM338.8 275.4h.8v.8h-.8zM304.0 292.1h.8v.8h-.8zM356.8 260.3h.8v.8h-.8zM284.9 275.5h.8v.8h-.8zM367.6 254.1h.8v.8h-.8zM343.7 274.3h.8v.8h-.8zM306.2 286.3h.8v.8h-.8zM360.8 210.8h.8v.8h-.8zM356.4 296.2h.8v.8h-.8zM304.9 213.4h.8v.8h-.8zM361.7 219.8h.8v.8h-.8zM287.1 249.5h.8v.8h-.8zM333.3 196.4h.8v.8h-.8zM364.0 207.7h.8v.8h-.8zM361.3 240.7h.8v.8h-.8zM359.6 239.4h.8v.8h-.8zM351.9 197.6h.8v.8h-.8zM324.2 253.4h.8v.8h-.8zM336.6 196.1h.8v.8h-.8zM354.4 220.6h.8v.8h-.8zM290.8 228.7h.8v.8h-.8zM333.8 197.6h.8v.8h-.8zM370.5 240.4h.8v.8h-.8zM372.1 207.2h.8v.8h-.8zM327.1 198.4h.8v.8h-.8zM311.6 289.6h.8v.8h-.8zM371.6 208.6h.8v.8h-.8zM326.9 278.3h.8v.8h-.8zM368.3 235.4h.8v.8h-.8zM366.8 259.8h.8v.8h-.8zM353.2 203.5h.8v.8h-.8zM321.2 209.3h.8v.8h-.8zM355.6 265.2h.8v.8h-.8zM362.0 231.5h.8v.8h-.8zM293.0 289.5h.8v.8h-.8zM366.2 231.1h.8v.8h-.8zM365.4 237.7h.8v.8h-.8zM369.4 222.9h.8v.8h-.8zM379.6 194.5h.8v.8h-.8zM370.8 229.3h.8v.8h-.8zM364.9 226.4h.8v.8h-.8zM352.8 243.2h.8v.8h-.8zM348.7 207.9h.8v.8h-.8zM280.1 295.1h.8v.8h-.8zM314.8 284.7h.8v.8h-.8zM341.5 201.2h.8v.8h-.8zM365.7 212.3h.8v.8h-.8zM361.2 214.9h.8v.8h-.8zM359.0 263.6h.8v.8h-.8zM310.9 292.0h.8v.8h-.8zM322.5 281.7h.8v.8h-.8zM342.8 199.1h.8v.8h-.8zM342.2 275.9h.8v.8h-.8zM342.3 206.6h.8v.8h-.8zM338.6 209.9h.8v.8h-.8zM369.6 197.4h.8v.8h-.8zM329.9 206.6h.8v.8h-.8zM356.9 225.2h.8v.8h-.8zM360.9 219.5h.8v.8h-.8zM324.8 280.1h.8v.8h-.8zM327.2 279.0h.8v.8h-.8zM336.4 208.3h.8v.8h-.8zM276.8 249.5h.8v.8h-.8zM367.5 219.2h.8v.8h-.8zM282.5 275.8h.8v.8h-.8zM349.4 198.3h.8v.8h-.8zM357.1 211.2h.8v.8h-.8zM299.2 263.8h.8v.8h-.8zM360.1 242.2h.8v.8h-.8zM369.3 231.0h.8v.8h-.8zM356.1 230.6h.8v.8h-.8zM321.6 208.3h.8v.8h-.8zM303.3 287.3h.8v.8h-.8zM366.6 206.8h.8v.8h-.8zM358.7 263.2h.8v.8h-.8zM372.9 229.5h.8v.8h-.8zM366.5 215.7h.8v.8h-.8zM336.8 208.4h.8v.8h-.8zM312.3 259.9h.8v.8h-.8zM298.5 215.0h.8v.8h-.8zM360.3 220.5h.8v.8h-.8zM373.5 289.4h.8v.8h-.8zM368.9 222.6h.8v.8h-.8zM284.0 219.6h.8v.8h-.8zM347.7 203.1h.8v.8h-.8zM364.5 225.8h.8v.8h-.8zM329.8 254.1h.8v.8h-.8zM323.3 198.4h.8v.8h-.8zM366.1 217.9h.8v.8h-.8zM298.6 288.8h.8v.8h-.8zM357.3 196.0h.8v.8h-.8zM370.8 193.4h.8v.8h-.8zM289.7 247.7h.8v.8h-.8zM347.3 206.5h.8v.8h-.8zM361.9 236.6h.8v.8h-.8zM287.6 233.8h.8v.8h-.8zM325.9 205.9h.8v.8h-.8zM280.5 286.4h.8v.8h-.8zM318.1 257.0h.8v.8h-.8zM331.0 203.5h.8v.8h-.8zM322.7 279.6h.8v.8h-.8zM365.1 222.5h.8v.8h-.8zM328.0 207.8h.8v.8h-.8zM295.0 265.1h.8v.8h-.8zM373.6 222.8h.8v.8h-.8zM338.2 248.8h.8v.8h-.8zM372.0 196.3h.8v.8h-.8zM354.5 278.0h.8v.8h-.8zM333.6 205.4h.8v.8h-.8zM362.8 219.5h.8v.8h-.8zM345.9 270.3h.8v.8h-.8zM304.4 286.7h.8v.8h-.8zM369.9 221.9h.8v.8h-.8zM328.9 254.3h.8v.8h-.8zM360.9 229.3h.8v.8h-.8zM370.0 235.2h.8v.8h-.8zM359.1 264.4h.8v.8h-.8zM315.2 282.7h.8v.8h-.8zM376.5 258.0h.8v.8h-.8zM287.0 234.8h.8v.8h-.8zM374.6 234.9h.8v.8h-.8zM357.3 256.0h.8v.8h-.8zM312.8 201.3h.8v.8h-.8zM359.1 243.8h.8v.8h-.8zM362.7 239.8h.8v.8h-.8zM289.5 248.0h.8v.8h-.8zM351.4 209.7h.8v.8h-.8zM363.4 224.0h.8v.8h-.8zM347.3 208.1h.8v.8h-.8zM355.5 217.3h.8v.8h-.8zM376.8 218.7h.8v.8h-.8zM358.6 213.3h.8v.8h-.8zM368.8 204.7h.8v.8h-.8zM371.1 207.1h.8v.8h-.8zM321.9 197.2h.8v.8h-.8zM311.8 256.6h.8v.8h-.8zM372.5 208.2h.8v.8h-.8zM361.1 226.6h.8v.8h-.8zM376.6 221.3h.8v.8h-.8zM354.4 217.8h.8v.8h-.8zM360.0 254.8h.8v.8h-.8zM297.8 295.1h.8v.8h-.8zM347.5 208.1h.8v.8h-.8zM323.8 279.2h.8v.8h-.8zM353.8 239.0h.8v.8h-.8zM352.7 247.9h.8v.8h-.8zM368.5 206.5h.8v.8h-.8zM373.1 200.5h.8v.8h-.8zM365.2 299.2h.8v.8h-.8zM284.1 278.3h.8v.8h-.8zM287.5 236.2h.8v.8h-.8zM282.6 235.0h.8v.8h-.8zM378.7 261.9h.8v.8h-.8zM365.5 225.8h.8v.8h-.8zM352.7 239.9h.8v.8h-.8zM375.1 221.8h.8v.8h-.8zM282.3 271.5h.8v.8h-.8zM364.6 197.1h.8v.8h-.8zM333.1 209.4h.8v.8h-.8zM373.1 250.0h.8v.8h-.8zM338.3 204.0h.8v.8h-.8zM301.3 287.5h.8v.8h-.8zM370.5 230.8h.8v.8h-.8zM364.1 258.1h.8v.8h-.8zM330.1 279.4h.8v.8h-.8zM356.5 253.4h.8v.8h-.8zM355.1 231.3h.8v.8h-.8zM367.1 224.2h.8v.8h-.8zM290.8 249.5h.8v.8h-.8zM353.3 204.2h.8v.8h-.8zM332.7 277.2h.8v.8h-.8zM294.5 219.1h.8v.8h-.8zM339.0 206.8h.8v.8h-.8zM286.7 291.3h.8v.8h-.8zM362.8 248.5h.8v.8h-.8zM377.6 198.4h.8v.8h-.8zM319.5 281.3h.8v.8h-.8zM356.2 249.5h.8v.8h-.8zM377.3 248.9h.8v.8h-.8zM354.1 240.7h.8v.8h-.8zM354.4 223.4h.8v.8h-.8zM368.7 218.4h.8v.8h-.8zM361.4 261.5h.8v.8h-.8zM373.8 245.8h.8v.8h-.8zM365.2 222.1h.8v.8h-.8zM290.0 289.6h.8v.8h-.8zM300.2 297.0h.8v.8h-.8zM370.7 202.0h.8v.8h-.8zM319.5 209.2h.8v.8h-.8zM276.3 287.2h.8v.8h-.8zM364.9 211.6h.8v.8h-.8zM325.5 207.9h.8v.8h-.8z"/>
<polygon points="291.4,222.8 336.9,200.2 368.5,199.0 370.9,238.6 290.7,262.9" fill="none" stroke="#111" stroke-width="1"/>
<polygon points="280.9,288.5 288.2,266.6 306.5,263.0 301.6,287.3" fill="#585858" stroke="#111" stroke-width="0.9"/>
<polygon points="301.6,287.3 306.5,263.0 324.7,256.9 319.8,280.0" fill="#585858" stroke="#111" stroke-width="0.9"/>
<polygon points="319.8,280.0 324.7,256.9 345.4,248.4 341.7,270.2" fill="#585858" stroke="#111" stroke-width="0.9"/>
<polygon points="341.7,270.2 345.4,248.4 363.6,241.5 360.0,263.0" fill="#585858" stroke="#111" stroke-width="0.9"/>
<line x1="306.5" y1="263.0" x2="301.6" y2="287.3" stroke="#000" stroke-width="1.7"/>
<line x1="324.7" y1="256.9" x2="319.8" y2="280.0" stroke="#000" stroke-width="1.7"/>
<line x1="345.4" y1="248.4" x2="341.7" y2="270.2" stroke="#000" stroke-width="1.7"/>
</g>
<text x="348.3" y="272.9" font-size="7.2" text-anchor="start" font-weight="bold" fill="#262626" >16N (5.29%)</text>
<text x="329.1" y="283.1" font-size="7.2" text-anchor="start" font-weight="bold" fill="#262626" >8N (19%)</text>
<text x="308.9" y="291.2" font-size="7.2" text-anchor="start" font-weight="bold" fill="#262626" >4N (22.6%)</text>
<text x="289.0" y="299.7" font-size="7.2" text-anchor="start" font-weight="bold" fill="#262626" >2N (7.56%)</text>
<rect x="272.2" y="192.5" width="110.40000000000003" height="109.30000000000001" fill="none" stroke="#222" stroke-width="0.9"/>
<text x="273.7" y="200.9" font-size="9.9" text-anchor="start" font-weight="bold" fill="#111" >S-phase</text>
<text x="279.1" y="212.5" font-size="9.9" text-anchor="start" font-weight="bold" fill="#111" >39.6%</text>
<line x1="272.1" y1="301.8" x2="272.1" y2="304.8" stroke="#111" stroke-width="1.1"/>
<line x1="334.6" y1="301.8" x2="334.6" y2="304.8" stroke="#111" stroke-width="1.1"/>
<line x1="290.9" y1="301.8" x2="290.9" y2="303.6" stroke="#333" stroke-width="0.55"/>
<line x1="301.9" y1="301.8" x2="301.9" y2="303.6" stroke="#333" stroke-width="0.55"/>
<line x1="309.7" y1="301.8" x2="309.7" y2="303.6" stroke="#333" stroke-width="0.55"/>
<line x1="315.8" y1="301.8" x2="315.8" y2="303.6" stroke="#333" stroke-width="0.55"/>
<line x1="320.7" y1="301.8" x2="320.7" y2="303.6" stroke="#333" stroke-width="0.55"/>
<line x1="324.9" y1="301.8" x2="324.9" y2="303.6" stroke="#333" stroke-width="0.55"/>
<line x1="328.5" y1="301.8" x2="328.5" y2="303.6" stroke="#333" stroke-width="0.55"/>
<line x1="331.7" y1="301.8" x2="331.7" y2="303.6" stroke="#333" stroke-width="0.55"/>
<line x1="353.4" y1="301.8" x2="353.4" y2="303.6" stroke="#333" stroke-width="0.55"/>
<line x1="364.4" y1="301.8" x2="364.4" y2="303.6" stroke="#333" stroke-width="0.55"/>
<line x1="372.2" y1="301.8" x2="372.2" y2="303.6" stroke="#333" stroke-width="0.55"/>
<line x1="378.3" y1="301.8" x2="378.3" y2="303.6" stroke="#333" stroke-width="0.55"/>
<path d="M145.5,313.3 V262" fill="none" stroke="#111" stroke-width="1.1"/><path d="M141.8,263.5 L145.5,255.3 L149.2,263.5 Z" fill="#111"/>
<path d="M145.5,313.3 H186" fill="none" stroke="#111" stroke-width="1.1"/><path d="M185,309.6 L193.4,313.3 L185,317 Z" fill="#111"/>
<text x="202.3" y="316.6" font-size="10.6" text-anchor="start" font-weight="bold" fill="#111" >DAPI</text>
<text transform="translate(150.2,239) rotate(-90)" font-size="10.4" text-anchor="middle" font-weight="bold" fill="#111">EdU</text>
<line x1="423.1" y1="199.9" x2="423.1" y2="301.4" stroke="#111" stroke-width="1"/>
<line x1="421.5" y1="301.4" x2="469.8" y2="301.4" stroke="#111" stroke-width="1"/>
<line x1="420.6" y1="301.4" x2="423.1" y2="301.4" stroke="#111" stroke-width="0.9"/>
<text x="418.5" y="304.5" font-size="8.6" text-anchor="end" font-weight="bold" fill="#222" >0.0</text>
<line x1="420.6" y1="276.1" x2="423.1" y2="276.1" stroke="#111" stroke-width="0.9"/>
<text x="418.5" y="279.2" font-size="8.6" text-anchor="end" font-weight="bold" fill="#222" >0.5</text>
<line x1="420.6" y1="250.9" x2="423.1" y2="250.9" stroke="#111" stroke-width="0.9"/>
<text x="418.5" y="254.0" font-size="8.6" text-anchor="end" font-weight="bold" fill="#222" >1.0</text>
<line x1="420.6" y1="225.6" x2="423.1" y2="225.6" stroke="#111" stroke-width="0.9"/>
<text x="418.5" y="228.7" font-size="8.6" text-anchor="end" font-weight="bold" fill="#222" >1.5</text>
<line x1="420.6" y1="200.4" x2="423.1" y2="200.4" stroke="#111" stroke-width="0.9"/>
<text x="418.5" y="203.5" font-size="8.6" text-anchor="end" font-weight="bold" fill="#222" >2.0</text>
<rect x="425.9" y="223.1" width="17.2" height="78.3" fill="#0a0a0a"/>
<rect x="445.3" y="255.2" width="17" height="46.2" fill="#8e8c87" stroke="#222" stroke-width="0.6"/>
<line x1="434.5" y1="223.1" x2="434.5" y2="213.5" stroke="#111" stroke-width="1"/>
<line x1="431.8" y1="213.5" x2="437.2" y2="213.5" stroke="#111" stroke-width="1"/>
<line x1="453.8" y1="255.2" x2="453.8" y2="252.4" stroke="#111" stroke-width="1"/>
<line x1="451.1" y1="252.4" x2="456.5" y2="252.4" stroke="#111" stroke-width="1"/>
<line x1="434.2" y1="301.4" x2="434.2" y2="303.8" stroke="#111" stroke-width="0.9"/>
<line x1="454.3" y1="301.4" x2="454.3" y2="303.8" stroke="#111" stroke-width="0.9"/>
<text transform="translate(439.6,311.6) rotate(-45)" font-size="9.8" font-weight="bold" text-anchor="end" fill="#111">Ctrl</text>
<text transform="translate(458.9,313.6) rotate(-45)" font-size="9.8" font-weight="bold" text-anchor="end" fill="#111">+4OHT</text>
<text transform="translate(398.4,250.7) rotate(-90)" font-size="9.2" text-anchor="middle" font-weight="bold" fill="#222">% of pH3S10+ cells</text>
</svg></body></html>
